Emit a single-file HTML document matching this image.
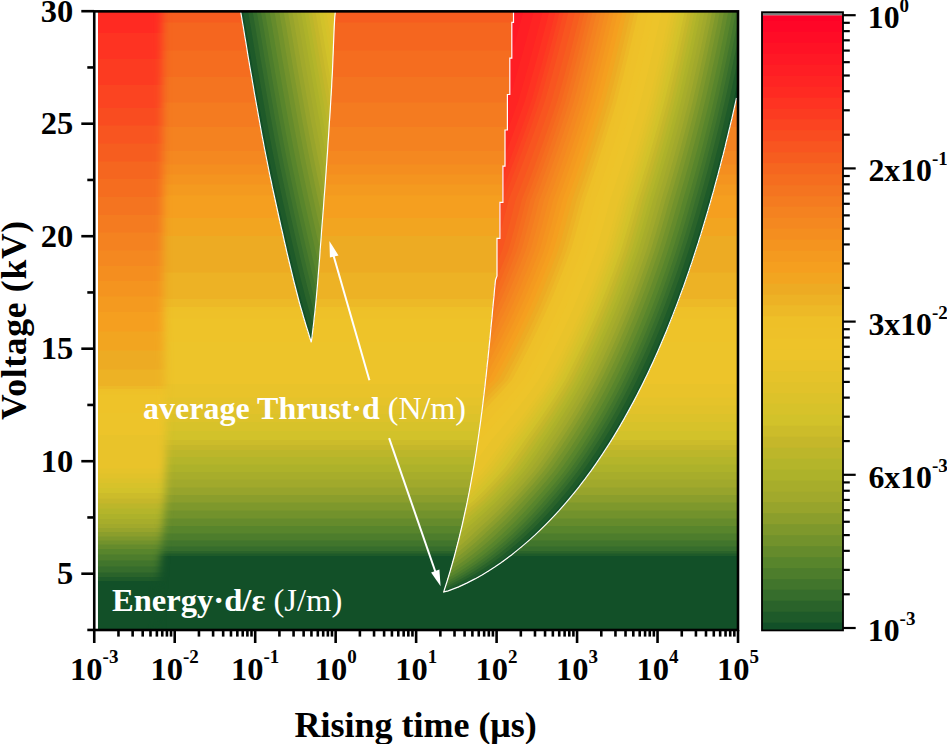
<!DOCTYPE html><html><head><meta charset="utf-8"><style>html,body{margin:0;padding:0;background:#fff;overflow:hidden}svg{display:block}</style></head><body>
<svg width="947" height="744" viewBox="0 0 947 744" font-family="Liberation Serif">
<rect x="0" y="0" width="947" height="744" fill="#fff"/>
<defs>
<clipPath id="cp"><rect x="97.9" y="12.0" width="639.6" height="617.5"/></clipPath>
<clipPath id="c2"><path d="M513.5,11 L513.5,22.4 L511.8,22.4 L511.8,58.2 L509.8,58.2 L509.8,94.5 L507.4,94.5 L507.4,130 L505,130 L505,166.2 L502.9,166.2 L502.9,202.4 L499.9,202.4 L499.9,238.3 L497,238.3 L497,276 L495.5,280 L495,285 L494.5,290 L494.1,295 L493.6,300 L493.1,305 L492.6,310 L492.2,315 L491.7,320 L491.2,325 L490.7,330 L490.3,335 L489.8,340 L489.3,345 L488.8,350 L488.3,355 L487.8,360 L487.2,365 L486.7,370 L486.2,375 L485.6,380 L485.1,385 L484.5,390 L483.9,395 L483.3,400 L482.7,405 L482.1,410 L481.4,415 L480.8,420 L480.1,425 L479.4,430 L478.7,435 L478,440 L477.2,445 L476.5,450 L475.7,455 L474.9,460 L474.1,465 L473.2,470 L472.3,475 L471.4,480 L470.5,485 L469.6,490 L468.6,495 L467.6,500 L466.6,505 L465.5,510 L464.4,515 L463.3,520 L462.2,525 L461,530 L459.8,535 L458.6,540 L457.3,545 L456,550 L454.7,555 L453.3,560 L451.9,565 L450.5,570 L449,575 L447.5,580 L445.9,585 L444.3,590 L443.8,591.9 L448.2,590.9 L458.6,586.9 L467.2,582.9 L474.9,578.9 L482,574.9 L488.5,570.9 L494.7,566.9 L500.6,562.9 L506.1,558.9 L511.5,554.9 L516.5,550.9 L521.4,546.9 L526.1,542.9 L530.7,538.9 L535.1,534.9 L539.3,530.9 L543.4,526.9 L547.4,522.9 L551.3,518.9 L555.1,514.9 L558.8,510.9 L562.3,506.9 L565.8,502.9 L569.2,498.9 L572.5,494.9 L575.8,490.9 L579,486.9 L582,482.9 L585.1,478.9 L588,474.9 L591,470.9 L593.8,466.9 L596.6,462.9 L599.3,458.9 L602,454.9 L604.6,450.9 L607.2,446.9 L609.8,442.9 L612.3,438.9 L614.7,434.9 L617.1,430.9 L619.5,426.9 L621.8,422.9 L624.1,418.9 L626.3,414.9 L628.5,410.9 L630.7,406.9 L632.9,402.9 L635,398.9 L637,394.9 L639.1,390.9 L641.1,386.9 L643.1,382.9 L645,378.9 L647,374.9 L648.9,370.9 L650.7,366.9 L652.6,362.9 L654.4,358.9 L656.2,354.9 L658,350.9 L659.7,346.9 L661.4,342.9 L663.1,338.9 L664.8,334.9 L666.5,330.9 L668.1,326.9 L669.7,322.9 L671.3,318.9 L672.9,314.9 L674.4,310.9 L676,306.9 L677.5,302.9 L679,298.9 L680.4,294.9 L681.9,290.9 L683.4,286.9 L684.8,282.9 L686.2,278.9 L687.6,274.9 L689,270.9 L690.3,266.9 L691.7,262.9 L693,258.9 L694.3,254.9 L695.6,250.9 L696.9,246.9 L698.2,242.9 L699.4,238.9 L700.7,234.9 L701.9,230.9 L703.1,226.9 L704.3,222.9 L705.5,218.9 L706.7,214.9 L707.9,210.9 L709,206.9 L710.2,202.9 L711.3,198.9 L712.4,194.9 L713.6,190.9 L714.6,186.9 L715.7,182.9 L716.8,178.9 L717.9,174.9 L718.9,170.9 L720,166.9 L721,162.9 L722,158.9 L723.1,154.9 L724.1,150.9 L725.1,146.9 L726,142.9 L727,138.9 L728,134.9 L728.9,130.9 L729.9,126.9 L730.8,122.9 L731.8,118.9 L732.7,114.9 L733.6,110.9 L734.5,106.9 L735.4,102.9 L736.5,98 L760,98 L760,10Z"/></clipPath>
<clipPath id="c1"><path d="M240.2,9 L240.7,12 L241.6,17 L242.4,22 L243.3,27 L244.1,32 L244.9,37 L245.8,42 L246.6,47 L247.4,52 L248.2,57 L249.1,62 L249.9,67 L250.8,72 L251.7,77 L252.5,82 L253.4,87 L254.2,92 L255.1,97 L256,102 L256.9,107 L257.8,112 L258.7,117 L259.6,122 L260.5,127 L261.4,132 L262.3,137 L263.3,142 L264.2,147 L265.2,152 L266.2,157 L267.2,162 L268.2,167 L269.2,172 L270.2,177 L271.3,182 L272.3,187 L273.4,192 L274.5,197 L275.6,202 L276.7,207 L277.8,212 L278.9,217 L280,222 L281.1,227 L282.3,232 L283.4,237 L284.5,242 L285.7,247 L286.8,252 L288,257 L289.2,262 L290.4,267 L291.6,272 L292.8,277 L294,282 L295.3,287 L296.6,292 L297.9,297 L299.2,302 L300.6,307 L302.1,312 L303.5,317 L305,322 L306.5,327 L308.1,332 L309.6,337 L311.2,342 L311.3,342.2 L311.3,342.2 L311.3,342 L312,337 L312.6,332 L313.2,327 L313.8,322 L314.3,317 L314.9,312 L315.4,307 L315.9,302 L316.4,297 L316.8,292 L317.3,287 L317.7,282 L318.1,277 L318.5,272 L318.9,267 L319.3,262 L319.7,257 L320,252 L320.4,247 L320.8,242 L321.2,237 L321.5,232 L321.9,227 L322.3,222 L322.7,217 L323.1,212 L323.5,207 L323.8,202 L324.2,197 L324.6,192 L325,187 L325.4,182 L325.7,177 L326.1,172 L326.4,167 L326.8,162 L327.1,157 L327.5,152 L327.8,147 L328.1,142 L328.5,137 L328.8,132 L329.1,127 L329.4,122 L329.8,117 L330.1,112 L330.4,107 L330.7,102 L331,97 L331.3,92 L331.6,87 L331.8,82 L332.1,77 L332.4,72 L332.6,67 L332.8,62 L333,57 L333.2,52 L333.4,47 L333.6,42 L333.8,37 L334,32 L334.2,27 L334.5,22 L334.8,17 L335.3,12 L335.4,9Z"/></clipPath>
<filter id="bl" x="-20%" y="-5%" width="140%" height="110%"><feGaussianBlur stdDeviation="4,0.01"/></filter>
<mask id="mleft" maskUnits="userSpaceOnUse" x="0" y="0" width="947" height="744"><path d="M90,0 L162,0 L162,10 L162.1,20 L162.1,30 L162.1,40 L162.2,50 L162.2,60 L162.2,70 L162.3,80 L162.3,90 L162.3,100 L162.4,110 L162.4,120 L162.4,130 L162.5,140 L162.5,150 L162.5,160 L162.6,170 L162.6,180 L162.6,190 L162.7,200 L162.7,210 L162.7,220 L162.8,230 L162.8,240 L162.8,250 L162.9,260 L162.9,270 L162.9,280 L163,290 L163,300 L163.2,310 L163.4,320 L163.6,330 L163.9,340 L164.1,350 L164.3,360 L164.5,370 L164.7,380 L164.9,390 L165.1,400 L165.4,410 L165.6,420 L165.8,430 L166,440 L165.8,450 L165.7,460 L165.5,470 L165.3,480 L165.2,490 L165,500 L164.2,510 L163.5,520 L162.8,530 L162,540 L161.2,550 L160.4,560 L159.6,570 L158.8,580 L158,590 L157.5,600 L157,610 L156.5,620 L156,630 L90,640Z" fill="#fff" filter="url(#bl)"/></mask>
</defs>
<g clip-path="url(#cp)">
<rect x="97.9" y="12" width="639.6" height="11.5" fill="#f65d1f"/>
<rect x="97.9" y="22.5" width="639.6" height="29" fill="#f5661f"/>
<rect x="97.9" y="50.5" width="639.6" height="27.5" fill="#f56d1f"/>
<rect x="97.9" y="77" width="639.6" height="26.5" fill="#f47420"/>
<rect x="97.9" y="102.5" width="639.6" height="25.5" fill="#f47b20"/>
<rect x="97.9" y="127" width="639.6" height="25" fill="#f48220"/>
<rect x="97.9" y="151" width="639.6" height="14.5" fill="#f48820"/>
<rect x="97.9" y="164.5" width="639.6" height="11" fill="#f48e1f"/>
<rect x="97.9" y="174.5" width="639.6" height="11" fill="#f4941f"/>
<rect x="97.9" y="184.5" width="639.6" height="12" fill="#f49a1f"/>
<rect x="97.9" y="195.5" width="639.6" height="23.5" fill="#f59f1f"/>
<rect x="97.9" y="218" width="639.6" height="19" fill="#f2a520"/>
<rect x="97.9" y="236" width="639.6" height="37.5" fill="#edab23"/>
<rect x="97.9" y="272.5" width="639.6" height="27.5" fill="#edb225"/>
<rect x="97.9" y="299" width="639.6" height="9" fill="#edb927"/>
<rect x="97.9" y="307" width="639.6" height="4.5" fill="#eec028"/>
<rect x="97.9" y="310.5" width="639.6" height="9" fill="#eec129"/>
<rect x="97.9" y="318.5" width="639.6" height="24" fill="#eec329"/>
<rect x="97.9" y="341.5" width="639.6" height="43.5" fill="#edc42a"/>
<rect x="97.9" y="384" width="639.6" height="14.5" fill="#e9c32a"/>
<rect x="97.9" y="397.5" width="639.6" height="9" fill="#e5c32a"/>
<rect x="97.9" y="405.5" width="639.6" height="9.5" fill="#e1c22a"/>
<rect x="97.9" y="414" width="639.6" height="9" fill="#dcc22a"/>
<rect x="97.9" y="422" width="639.6" height="10" fill="#d7c22a"/>
<rect x="97.9" y="431" width="639.6" height="10" fill="#d2c22a"/>
<rect x="97.9" y="440" width="639.6" height="6" fill="#ccbc2a"/>
<rect x="97.9" y="445" width="639.6" height="6" fill="#c5b72a"/>
<rect x="97.9" y="450" width="639.6" height="8" fill="#bcb62a"/>
<rect x="97.9" y="457" width="639.6" height="8.5" fill="#b4b52a"/>
<rect x="97.9" y="464.5" width="639.6" height="8.5" fill="#adb22a"/>
<rect x="97.9" y="472" width="639.6" height="8.5" fill="#a7ad2b"/>
<rect x="97.9" y="479.5" width="639.6" height="9" fill="#a1a92c"/>
<rect x="97.9" y="487.5" width="639.6" height="8.5" fill="#97a42c"/>
<rect x="97.9" y="495" width="639.6" height="8.5" fill="#8b9e2c"/>
<rect x="97.9" y="502.5" width="639.6" height="9" fill="#7e982c"/>
<rect x="97.9" y="510.5" width="639.6" height="9" fill="#72922c"/>
<rect x="97.9" y="518.5" width="639.6" height="8.5" fill="#658b2c"/>
<rect x="97.9" y="526" width="639.6" height="8.5" fill="#58852c"/>
<rect x="97.9" y="533.5" width="639.6" height="8" fill="#4d7d2c"/>
<rect x="97.9" y="540.5" width="639.6" height="7" fill="#41752c"/>
<rect x="97.9" y="546.5" width="639.6" height="5.5" fill="#366d2c"/>
<rect x="97.9" y="551" width="639.6" height="3.5" fill="#2a632a"/>
<rect x="97.9" y="553.5" width="639.6" height="3.5" fill="#1e5a29"/>
<rect x="97.9" y="556" width="639.6" height="73.5" fill="#125028"/>
<g mask="url(#mleft)">
<rect x="97.9" y="12" width="82.1" height="22" fill="#ff2a22"/>
<rect x="97.9" y="33" width="82.1" height="27" fill="#fe3322"/>
<rect x="97.9" y="59" width="82.1" height="27" fill="#fc3b21"/>
<rect x="97.9" y="85" width="82.1" height="24" fill="#fb4421"/>
<rect x="97.9" y="108" width="82.1" height="18.5" fill="#f94c20"/>
<rect x="97.9" y="125.5" width="82.1" height="19" fill="#f85520"/>
<rect x="97.9" y="143.5" width="82.1" height="19" fill="#f65d1f"/>
<rect x="97.9" y="161.5" width="82.1" height="18.5" fill="#f5661f"/>
<rect x="97.9" y="179" width="82.1" height="19" fill="#f56d1f"/>
<rect x="97.9" y="197" width="82.1" height="19" fill="#f47420"/>
<rect x="97.9" y="215" width="82.1" height="18.5" fill="#f47b20"/>
<rect x="97.9" y="232.5" width="82.1" height="19" fill="#f48220"/>
<rect x="97.9" y="250.5" width="82.1" height="16.5" fill="#f48820"/>
<rect x="97.9" y="266" width="82.1" height="16" fill="#f48e1f"/>
<rect x="97.9" y="281" width="82.1" height="16.5" fill="#f4941f"/>
<rect x="97.9" y="296.5" width="82.1" height="16.5" fill="#f49a1f"/>
<rect x="97.9" y="312" width="82.1" height="20.5" fill="#f59f1f"/>
<rect x="97.9" y="331.5" width="82.1" height="20" fill="#f2a520"/>
<rect x="97.9" y="350.5" width="82.1" height="20" fill="#edab23"/>
<rect x="97.9" y="369.5" width="82.1" height="17.5" fill="#edb225"/>
<rect x="97.9" y="386" width="82.1" height="4" fill="#edb927"/>
<rect x="97.9" y="389" width="82.1" height="3.5" fill="#eec028"/>
<rect x="97.9" y="391.5" width="82.1" height="4" fill="#eec129"/>
<rect x="97.9" y="394.5" width="82.1" height="19" fill="#eec329"/>
<rect x="97.9" y="412.5" width="82.1" height="23.5" fill="#edc42a"/>
<rect x="97.9" y="435" width="82.1" height="34.5" fill="#e9c32a"/>
<rect x="97.9" y="468.5" width="82.1" height="6" fill="#e5c32a"/>
<rect x="97.9" y="473.5" width="82.1" height="6" fill="#e1c22a"/>
<rect x="97.9" y="478.5" width="82.1" height="5.5" fill="#dcc22a"/>
<rect x="97.9" y="483" width="82.1" height="6" fill="#d7c22a"/>
<rect x="97.9" y="488" width="82.1" height="6" fill="#d2c22a"/>
<rect x="97.9" y="493" width="82.1" height="6.5" fill="#ccbc2a"/>
<rect x="97.9" y="498.5" width="82.1" height="6" fill="#c5b72a"/>
<rect x="97.9" y="503.5" width="82.1" height="6" fill="#bcb62a"/>
<rect x="97.9" y="508.5" width="82.1" height="6.5" fill="#b4b52a"/>
<rect x="97.9" y="514" width="82.1" height="6" fill="#adb22a"/>
<rect x="97.9" y="519" width="82.1" height="6" fill="#a7ad2b"/>
<rect x="97.9" y="524" width="82.1" height="5" fill="#a1a92c"/>
<rect x="97.9" y="528" width="82.1" height="5" fill="#97a42c"/>
<rect x="97.9" y="532" width="82.1" height="5.5" fill="#8b9e2c"/>
<rect x="97.9" y="536.5" width="82.1" height="5" fill="#7e982c"/>
<rect x="97.9" y="540.5" width="82.1" height="5" fill="#72922c"/>
<rect x="97.9" y="544.5" width="82.1" height="5.5" fill="#658b2c"/>
<rect x="97.9" y="549" width="82.1" height="6.5" fill="#58852c"/>
<rect x="97.9" y="554.5" width="82.1" height="7" fill="#4d7d2c"/>
<rect x="97.9" y="560.5" width="82.1" height="7" fill="#41752c"/>
<rect x="97.9" y="566.5" width="82.1" height="7" fill="#366d2c"/>
<rect x="97.9" y="572.5" width="82.1" height="5.5" fill="#2a632a"/>
<rect x="97.9" y="577" width="82.1" height="5" fill="#1e5a29"/>
<rect x="97.9" y="581" width="82.1" height="48.5" fill="#125028"/>
</g>
<g clip-path="url(#c2)">
<rect x="440" y="0" width="320" height="600" fill="#ff0028"/>
<path d="M473.2,8 L472.5,12 L471.4,16 L470.3,20 L469.1,24 L468,28 L466.9,32 L465.7,36 L464.5,40 L463.4,44 L462.2,48 L461,52 L459.8,56 L458.6,60 L457.4,64 L456.2,68 L455,72 L453.8,76 L452.5,80 L451.3,84 L450,88 L448.8,92 L447.5,96 L446.2,100 L444.8,104 L443.2,108 L441.6,112 L439.9,116 L438.3,120 L436.7,124 L435,128 L433.3,132 L431.7,136 L430,140 L428.3,144 L426.6,148 L424.9,152 L423.2,156 L421.5,160 L419.7,164 L418,168 L416.2,172 L414.4,176 L412.7,180 L410.9,184 L409.1,188 L407.3,192 L405.4,196 L403.6,200 L402.7,204 L401.8,208 L400.9,212 L399.9,216 L399,220 L398,224 L397,228 L396,232 L395,236 L394,240 L393,244 L391.9,248 L390.5,252 L388.8,256 L387,260 L385.2,264 L383.4,268 L381.5,272 L379.7,276 L377.8,280 L375.9,284 L374.1,288 L372.1,292 L370.2,296 L368.3,300 L366.1,304 L364,308 L361.8,312 L359.6,316 L357.4,320 L355.2,324 L352.9,328 L350.7,332 L348.4,336 L346.1,340 L343.7,344 L341.4,348 L339,352 L336.6,356 L334.1,360 L331.7,364 L329.2,368 L326.7,372 L324.1,376 L321.6,380 L300.9,384 L280,388 L259.1,392 L237.7,396 L216.2,400 L194.6,404 L172.9,408 L151,412 L129,416 L106.8,420 L84.5,424 L62.1,428 L39.5,432 L16.8,436 L-6.1,440 L-10.2,444 L-14.4,448 L-18.7,452 L-23,456 L-27.3,460 L-31.7,464 L-36.1,468 L-42.3,472 L-50.2,476 L-58.2,480 L-66.2,484 L-74.3,488 L-82.5,492 L-90.7,496 L-99.1,500 L-204.1,504 L-309.2,508 L-414.5,512 L-519.8,516 L-625.2,520 L-730.7,524 L-836.4,528 L-878.3,532 L-856.4,536 L-834.7,540 L-813.2,544 L-791.8,548 L-770.6,552 L-749.7,556 L-728.9,560 L-708.4,564 L-688.2,568 L-668.4,572 L-648.9,576 L-630,580 L-611.8,584 L-594.6,588 L-579.8,592 L800,592 L800,8Z" fill="#ff0627"/>
<path d="M473.2,8 L472.5,12 L471.4,16 L470.3,20 L469.1,24 L468,28 L466.9,32 L465.7,36 L464.5,40 L463.4,44 L462.2,48 L461,52 L459.8,56 L458.6,60 L457.4,64 L456.2,68 L455,72 L453.8,76 L452.5,80 L451.3,84 L450,88 L448.8,92 L447.5,96 L446.2,100 L444.8,104 L443.2,108 L441.6,112 L439.9,116 L438.3,120 L436.7,124 L435,128 L433.3,132 L431.7,136 L430,140 L428.3,144 L426.6,148 L424.9,152 L423.2,156 L421.5,160 L419.7,164 L418,168 L416.2,172 L414.4,176 L412.7,180 L410.9,184 L409.1,188 L407.3,192 L405.4,196 L403.6,200 L402.7,204 L401.8,208 L400.9,212 L399.9,216 L399,220 L398,224 L397,228 L396,232 L395,236 L394,240 L393,244 L391.9,248 L390.5,252 L388.8,256 L387,260 L385.2,264 L383.4,268 L381.5,272 L379.7,276 L377.8,280 L375.9,284 L374.1,288 L372.1,292 L370.2,296 L368.3,300 L366.1,304 L364,308 L361.8,312 L359.6,316 L357.4,320 L355.2,324 L352.9,328 L350.7,332 L348.4,336 L346.1,340 L343.7,344 L341.4,348 L339,352 L336.6,356 L334.1,360 L331.7,364 L329.2,368 L326.7,372 L324.1,376 L321.6,380 L300.9,384 L280,388 L259.1,392 L237.7,396 L216.2,400 L194.6,404 L172.9,408 L151,412 L129,416 L106.8,420 L84.5,424 L62.1,428 L39.5,432 L16.8,436 L-6.1,440 L-10.2,444 L-14.4,448 L-18.7,452 L-23,456 L-27.3,460 L-31.7,464 L-36.1,468 L-42.3,472 L-50.2,476 L-58.2,480 L-66.2,484 L-74.3,488 L-82.5,492 L-90.7,496 L-99.1,500 L-204.1,504 L-309.2,508 L-414.5,512 L-519.8,516 L-625.2,520 L-730.7,524 L-836.4,528 L-878.3,532 L-856.4,536 L-834.7,540 L-813.2,544 L-791.8,548 L-770.6,552 L-749.7,556 L-728.9,560 L-708.4,564 L-688.2,568 L-668.4,572 L-648.9,576 L-630,580 L-611.8,584 L-594.6,588 L-579.8,592 L800,592 L800,8Z" fill="#ff0c26"/>
<path d="M492.1,8 L491.4,12 L490.4,16 L489.3,20 L488.2,24 L487,28 L485.9,32 L484.8,36 L483.7,40 L482.5,44 L481.4,48 L480.2,52 L479,56 L477.9,60 L476.7,64 L475.5,68 L474.3,72 L473.1,76 L471.9,80 L470.7,84 L469.5,88 L468.2,92 L467,96 L465.7,100 L464.3,104 L462.8,108 L461.2,112 L459.6,116 L458,120 L456.4,124 L454.8,128 L453.2,132 L451.6,136 L450,140 L448.3,144 L446.7,148 L445,152 L443.4,156 L441.7,160 L440,164 L438.3,168 L436.6,172 L434.9,176 L433.1,180 L431.4,184 L429.6,188 L427.9,192 L426.1,196 L424.3,200 L423.4,204 L422.5,208 L421.5,212 L420.6,216 L419.6,220 L418.6,224 L417.6,228 L416.6,232 L415.6,236 L414.6,240 L413.5,244 L412.4,248 L411,252 L409.3,256 L407.6,260 L405.8,264 L404,268 L402.2,272 L400.4,276 L398.6,280 L396.7,284 L394.8,288 L393,292 L391.1,296 L389.1,300 L387.1,304 L385,308 L382.8,312 L380.7,316 L378.5,320 L376.3,324 L374.1,328 L371.9,332 L369.6,336 L367.4,340 L365.1,344 L362.8,348 L360.4,352 L358.1,356 L355.7,360 L353.2,364 L350.8,368 L348.3,372 L345.8,376 L343.3,380 L326.1,384 L308.7,388 L291.3,392 L273.4,396 L255.5,400 L237.5,404 L219.3,408 L201,412 L182.6,416 L164.1,420 L145.5,424 L126.7,428 L107.8,432 L88.9,436 L69.7,440 L65.8,444 L61.8,448 L57.8,452 L53.7,456 L49.5,460 L45.3,464 L41.1,468 L35.3,472 L28,476 L20.7,480 L13.3,484 L5.8,488 L-1.8,492 L-9.4,496 L-17.1,500 L-103,504 L-189,508 L-275,512 L-361.2,516 L-447.4,520 L-533.8,524 L-620.3,528 L-655,532 L-638.1,536 L-621.3,540 L-604.7,544 L-588.3,548 L-572,552 L-556,556 L-540.1,560 L-524.6,564 L-509.3,568 L-494.4,572 L-479.9,576 L-465.9,580 L-452.6,584 L-440.3,588 L-430.5,592 L800,592 L800,8Z" fill="#ff1225"/>
<path d="M513.5,8 L512.7,12 L511.7,16 L510.6,20 L509.6,24 L508.5,28 L507.4,32 L506.3,36 L505.2,40 L504.1,44 L502.9,48 L501.8,52 L500.7,56 L499.5,60 L498.4,64 L497.2,68 L496.1,72 L494.9,76 L493.7,80 L492.5,84 L491.3,88 L490.1,92 L488.9,96 L487.7,100 L486.3,104 L484.8,108 L483.3,112 L481.8,116 L480.3,120 L478.7,124 L477.2,128 L475.6,132 L474,136 L472.5,140 L470.9,144 L469.3,148 L467.7,152 L466.1,156 L464.4,160 L462.8,164 L461.2,168 L459.5,172 L457.8,176 L456.2,180 L454.5,184 L452.8,188 L451.1,192 L449.3,196 L447.6,200 L446.7,204 L445.7,208 L444.8,212 L443.8,216 L442.8,220 L441.8,224 L440.8,228 L439.8,232 L438.7,236 L437.7,240 L436.6,244 L435.5,248 L434.1,252 L432.4,256 L430.7,260 L429,264 L427.2,268 L425.5,272 L423.7,276 L421.9,280 L420.1,284 L418.3,288 L416.4,292 L414.5,296 L412.7,300 L410.6,304 L408.6,308 L406.5,312 L404.4,316 L402.3,320 L400.1,324 L398,328 L395.8,332 L393.6,336 L391.4,340 L389.1,344 L386.8,348 L384.6,352 L382.2,356 L379.9,360 L377.5,364 L375.1,368 L372.7,372 L370.3,376 L367.8,380 L353.9,384 L339.9,388 L325.8,392 L311.4,396 L296.9,400 L282.3,404 L267.6,408 L252.9,412 L238,416 L223,420 L207.9,424 L192.7,428 L177.4,432 L162,436 L146.5,440 L142.8,444 L139,448 L135.2,452 L131.3,456 L127.4,460 L123.4,464 L119.3,468 L114,472 L107.3,476 L100.6,480 L93.8,484 L86.9,488 L80,492 L72.9,496 L65.8,500 L-1.5,504 L-69,508 L-136.5,512 L-204.1,516 L-271.9,520 L-339.7,524 L-407.7,528 L-435.6,532 L-423.4,536 L-411.4,540 L-399.6,544 L-387.9,548 L-376.4,552 L-365.1,556 L-354,560 L-343.2,564 L-332.7,568 L-322.6,572 L-312.8,576 L-303.6,580 L-295.1,584 L-287.6,588 L-282.4,592 L800,592 L800,8Z" fill="#ff1825"/>
<path d="M523.9,8 L523.1,12 L522.1,16 L521.1,20 L520,24 L518.9,28 L517.8,32 L516.8,36 L515.7,40 L514.6,44 L513.5,48 L512.3,52 L511.2,56 L510.1,60 L509,64 L507.8,68 L506.7,72 L505.5,76 L504.4,80 L503.2,84 L502,88 L500.8,92 L499.6,96 L498.4,100 L497.1,104 L495.6,108 L494.1,112 L492.6,116 L491.1,120 L489.6,124 L488.1,128 L486.5,132 L485,136 L483.4,140 L481.9,144 L480.3,148 L478.7,152 L477.1,156 L475.5,160 L473.9,164 L472.3,168 L470.7,172 L469,176 L467.4,180 L465.7,184 L464,188 L462.4,192 L460.7,196 L459,200 L458,204 L457.1,208 L456.1,212 L455.1,216 L454.1,220 L453.1,224 L452.1,228 L451.1,232 L450,236 L448.9,240 L447.9,244 L446.8,248 L445.4,252 L443.7,256 L442,260 L440.3,264 L438.6,268 L436.8,272 L435.1,276 L433.3,280 L431.5,284 L429.7,288 L427.8,292 L426,296 L424.1,300 L422.1,304 L420.1,308 L418,312 L415.9,316 L413.8,320 L411.7,324 L409.6,328 L407.4,332 L405.3,336 L403.1,340 L400.8,344 L398.6,348 L396.3,352 L394,356 L391.7,360 L389.4,364 L387,368 L384.6,372 L382.2,376 L379.7,380 L367.2,384 L354.7,388 L342.1,392 L329.1,396 L316.1,400 L303,404 L289.8,408 L276.5,412 L263.2,416 L249.7,420 L236.1,424 L222.5,428 L208.7,432 L194.9,436 L180.9,440 L177.3,444 L173.6,448 L169.8,452 L166,456 L162.2,460 L158.3,464 L154.4,468 L149.2,472 L142.8,476 L136.3,480 L129.8,484 L123.2,488 L116.6,492 L109.8,496 L103,500 L43.6,504 L-16,508 L-75.6,512 L-135.3,516 L-195.1,520 L-255.1,524 L-315.1,528 L-340.1,532 L-330,536 L-320,540 L-310.2,544 L-300.5,548 L-291.1,552 L-281.8,556 L-272.8,560 L-264,564 L-255.5,568 L-247.4,572 L-239.7,576 L-232.5,580 L-226,584 L-220.5,588 L-217.5,592 L800,592 L800,8Z" fill="#ff1e24"/>
<path d="M534.2,8 L533.5,12 L532.5,16 L531.5,20 L530.4,24 L529.4,28 L528.3,32 L527.2,36 L526.2,40 L525.1,44 L524,48 L522.9,52 L521.8,56 L520.7,60 L519.5,64 L518.4,68 L517.3,72 L516.1,76 L515,80 L513.8,84 L512.7,88 L511.5,92 L510.3,96 L509.1,100 L507.8,104 L506.3,108 L504.9,112 L503.4,116 L501.9,120 L500.4,124 L498.9,128 L497.4,132 L495.9,136 L494.4,140 L492.9,144 L491.3,148 L489.8,152 L488.2,156 L486.6,160 L485,164 L483.4,168 L481.8,172 L480.2,176 L478.6,180 L477,184 L475.3,188 L473.7,192 L472,196 L470.3,200 L469.4,204 L468.4,208 L467.4,212 L466.4,216 L465.4,220 L464.4,224 L463.4,228 L462.3,232 L461.3,236 L460.2,240 L459.1,244 L458,248 L456.7,252 L455,256 L453.3,260 L451.6,264 L449.9,268 L448.2,272 L446.4,276 L444.7,280 L442.9,284 L441.1,288 L439.3,292 L437.4,296 L435.6,300 L433.6,304 L431.6,308 L429.5,312 L427.5,316 L425.4,320 L423.3,324 L421.2,328 L419.1,332 L416.9,336 L414.8,340 L412.6,344 L410.3,348 L408.1,352 L405.8,356 L403.5,360 L401.2,364 L398.9,368 L396.5,372 L394.1,376 L391.7,380 L380.5,384 L369.3,388 L358,392 L346.4,396 L334.7,400 L323,404 L311.1,408 L299.2,412 L287.2,416 L275.1,420 L263,424 L250.7,428 L238.4,432 L225.9,436 L213.4,440 L209.9,444 L206.2,448 L202.6,452 L198.9,456 L195.1,460 L191.3,464 L187.5,468 L182.5,472 L176.3,476 L170.1,480 L163.9,484 L157.5,488 L151.1,492 L144.7,496 L138.1,500 L85.9,504 L33.6,508 L-18.8,512 L-71.3,516 L-123.9,520 L-176.6,524 L-229.4,528 L-251.6,532 L-243.4,536 L-235.3,540 L-227.3,544 L-219.5,548 L-211.9,552 L-204.5,556 L-197.3,560 L-190.4,564 L-183.8,568 L-177.6,572 L-171.7,576 L-166.4,580 L-161.7,584 L-158.1,588 L-156.9,592 L800,592 L800,8Z" fill="#ff2423"/>
<path d="M543.3,8 L542.6,12 L541.6,16 L540.6,20 L539.5,24 L538.5,28 L537.4,32 L536.4,36 L535.3,40 L534.2,44 L533.2,48 L532.1,52 L531,56 L529.9,60 L528.8,64 L527.7,68 L526.5,72 L525.4,76 L524.3,80 L523.1,84 L522,88 L520.8,92 L519.6,96 L518.5,100 L517.2,104 L515.7,108 L514.3,112 L512.8,116 L511.4,120 L509.9,124 L508.4,128 L507,132 L505.5,136 L504,140 L502.4,144 L500.9,148 L499.4,152 L497.9,156 L496.3,160 L494.7,164 L493.2,168 L491.6,172 L490,176 L488.4,180 L486.8,184 L485.2,188 L483.5,192 L481.9,196 L480.2,200 L479.3,204 L478.3,208 L477.3,212 L476.3,216 L475.3,220 L474.3,224 L473.2,228 L472.2,232 L471.1,236 L470.1,240 L469,244 L467.9,248 L466.5,252 L464.8,256 L463.2,260 L461.5,264 L459.8,268 L458.1,272 L456.3,276 L454.6,280 L452.8,284 L451,288 L449.2,292 L447.4,296 L445.6,300 L443.6,304 L441.6,308 L439.6,312 L437.6,316 L435.5,320 L433.5,324 L431.4,328 L429.3,332 L427.1,336 L425,340 L422.8,344 L420.6,348 L418.4,352 L416.1,356 L413.8,360 L411.5,364 L409.2,368 L406.8,372 L404.5,376 L402.1,380 L392,384 L381.8,388 L371.6,392 L361,396 L350.4,400 L339.8,404 L329,408 L318.2,412 L307.3,416 L296.4,420 L285.3,424 L274.2,428 L263,432 L251.7,436 L240.3,440 L236.8,444 L233.3,448 L229.7,452 L226,456 L222.4,460 L218.6,464 L214.8,468 L210,472 L204,476 L198.1,480 L192,484 L185.9,488 L179.7,492 L173.5,496 L167.1,500 L120.7,504 L74.2,508 L27.6,512 L-19.1,516 L-65.9,520 L-112.8,524 L-159.9,528 L-180,532 L-173.2,536 L-166.6,540 L-160.1,544 L-153.8,548 L-147.7,552 L-141.8,556 L-136.1,560 L-130.7,564 L-125.6,568 L-120.8,572 L-116.4,576 L-112.6,580 L-109.4,584 L-107.3,588 L-107.6,592 L800,592 L800,8Z" fill="#ff2a22"/>
<path d="M549.8,8 L549.1,12 L548.1,16 L547.1,20 L546.1,24 L545,28 L544,32 L542.9,36 L541.9,40 L540.8,44 L539.7,48 L538.7,52 L537.6,56 L536.5,60 L535.4,64 L534.3,68 L533.2,72 L532,76 L530.9,80 L529.8,84 L528.6,88 L527.5,92 L526.3,96 L525.2,100 L523.9,104 L522.4,108 L521,112 L519.6,116 L518.1,120 L516.7,124 L515.2,128 L513.8,132 L512.3,136 L510.8,140 L509.3,144 L507.8,148 L506.3,152 L504.8,156 L503.2,160 L501.7,164 L500.1,168 L498.6,172 L497,176 L495.4,180 L493.8,184 L492.2,188 L490.6,192 L489,196 L487.3,200 L486.4,204 L485.4,208 L484.4,212 L483.4,216 L482.4,220 L481.3,224 L480.3,228 L479.2,232 L478.2,236 L477.1,240 L476,244 L474.9,248 L473.5,252 L471.9,256 L470.2,260 L468.5,264 L466.9,268 L465.2,272 L463.4,276 L461.7,280 L459.9,284 L458.2,288 L456.4,292 L454.6,296 L452.8,300 L450.8,304 L448.8,308 L446.8,312 L444.8,316 L442.8,320 L440.7,324 L438.6,328 L436.5,332 L434.4,336 L432.3,340 L430.1,344 L427.9,348 L425.7,352 L423.5,356 L421.2,360 L418.9,364 L416.6,368 L414.3,372 L411.9,376 L409.5,380 L400.1,384 L390.6,388 L381.1,392 L371.3,396 L361.5,400 L351.5,404 L341.5,408 L331.4,412 L321.3,416 L311,420 L300.7,424 L290.3,428 L279.9,432 L269.3,436 L258.7,440 L255.3,444 L251.8,448 L248.2,452 L244.7,456 L241,460 L237.3,464 L233.6,468 L228.8,472 L223.1,476 L217.2,480 L211.3,484 L205.4,488 L199.3,492 L193.2,496 L187,500 L144.5,504 L101.8,508 L59,512 L16.2,516 L-26.8,520 L-69.8,524 L-113,528 L-131.7,532 L-125.9,536 L-120.3,540 L-114.8,544 L-109.5,548 L-104.4,552 L-99.5,556 L-94.8,560 L-90.3,564 L-86.2,568 L-82.4,572 L-79,576 L-76.2,580 L-74,584 L-72.9,588 L-74.2,592 L800,592 L800,8Z" fill="#fe3322"/>
<path d="M556.1,8 L555.3,12 L554.4,16 L553.4,20 L552.3,24 L551.3,28 L550.3,32 L549.2,36 L548.2,40 L547.1,44 L546.1,48 L545,52 L543.9,56 L542.8,60 L541.8,64 L540.7,68 L539.5,72 L538.4,76 L537.3,80 L536.2,84 L535.1,88 L533.9,92 L532.8,96 L531.6,100 L530.3,104 L528.9,108 L527.5,112 L526.1,116 L524.7,120 L523.2,124 L521.8,128 L520.3,132 L518.9,136 L517.4,140 L515.9,144 L514.4,148 L512.9,152 L511.4,156 L509.9,160 L508.4,164 L506.9,168 L505.3,172 L503.7,176 L502.2,180 L500.6,184 L499,188 L497.4,192 L495.8,196 L494.2,200 L493.2,204 L492.2,208 L491.2,212 L490.2,216 L489.2,220 L488.2,224 L487.1,228 L486,232 L485,236 L483.9,240 L482.8,244 L481.7,248 L480.3,252 L478.7,256 L477,260 L475.4,264 L473.7,268 L472,272 L470.3,276 L468.5,280 L466.8,284 L465,288 L463.3,292 L461.5,296 L459.7,300 L457.7,304 L455.8,308 L453.8,312 L451.8,316 L449.7,320 L447.7,324 L445.6,328 L443.6,332 L441.4,336 L439.3,340 L437.2,344 L435,348 L432.8,352 L430.6,356 L428.3,360 L426.1,364 L423.8,368 L421.4,372 L419.1,376 L416.7,380 L407.9,384 L399.1,388 L390.2,392 L381.1,396 L371.9,400 L362.6,404 L353.2,408 L343.8,412 L334.3,416 L324.8,420 L315.1,424 L305.4,428 L295.6,432 L285.8,436 L275.9,440 L272.5,444 L269,448 L265.5,452 L262,456 L258.4,460 L254.8,464 L251.1,468 L246.4,472 L240.8,476 L235.1,480 L229.3,484 L223.5,488 L217.6,492 L211.6,496 L205.6,500 L166.5,504 L127.3,508 L88,512 L48.6,516 L9.2,520 L-30.4,524 L-70.1,528 L-87.5,532 L-82.6,536 L-77.9,540 L-73.3,544 L-68.9,548 L-64.7,552 L-60.6,556 L-56.8,560 L-53.3,564 L-50.1,568 L-47.2,572 L-44.7,576 L-42.7,580 L-41.5,584 L-41.2,588 L-43.4,592 L800,592 L800,8Z" fill="#fc3b21"/>
<path d="M560.2,8 L559.5,12 L558.5,16 L557.5,20 L556.5,24 L555.5,28 L554.5,32 L553.4,36 L552.4,40 L551.3,44 L550.3,48 L549.2,52 L548.1,56 L547.1,60 L546,64 L544.9,68 L543.8,72 L542.7,76 L541.6,80 L540.5,84 L539.3,88 L538.2,92 L537,96 L535.9,100 L534.6,104 L533.2,108 L531.8,112 L530.4,116 L529,120 L527.6,124 L526.2,128 L524.7,132 L523.3,136 L521.8,140 L520.3,144 L518.9,148 L517.4,152 L515.9,156 L514.4,160 L512.8,164 L511.3,168 L509.8,172 L508.2,176 L506.7,180 L505.1,184 L503.5,188 L501.9,192 L500.3,196 L498.7,200 L497.7,204 L496.7,208 L495.7,212 L494.7,216 L493.7,220 L492.7,224 L491.6,228 L490.6,232 L489.5,236 L488.4,240 L487.3,244 L486.2,248 L484.8,252 L483.2,256 L481.5,260 L479.9,264 L478.2,268 L476.5,272 L474.8,276 L473.1,280 L471.4,284 L469.6,288 L467.8,292 L466.1,296 L464.3,300 L462.3,304 L460.4,308 L458.4,312 L456.4,316 L454.4,320 L452.3,324 L450.3,328 L448.2,332 L446.1,336 L444,340 L441.9,344 L439.7,348 L437.5,352 L435.3,356 L433.1,360 L430.8,364 L428.5,368 L426.2,372 L423.8,376 L421.5,380 L413.1,384 L404.7,388 L396.2,392 L387.5,396 L378.7,400 L369.8,404 L360.9,408 L351.9,412 L342.8,416 L333.7,420 L324.5,424 L315.2,428 L305.8,432 L296.4,436 L286.9,440 L283.5,444 L280.1,448 L276.7,452 L273.2,456 L269.6,460 L266,464 L262.3,468 L257.7,472 L252.2,476 L246.6,480 L240.9,484 L235.2,488 L229.3,492 L223.5,496 L217.5,500 L180.6,504 L143.6,508 L106.5,512 L69.4,516 L32.1,520 L-5.3,524 L-42.8,528 L-59.4,532 L-55.1,536 L-50.9,540 L-46.9,544 L-43,548 L-39.3,552 L-35.9,556 L-32.7,560 L-29.7,564 L-27,568 L-24.7,572 L-22.8,576 L-21.4,580 L-20.7,584 L-21,588 L-23.7,592 L800,592 L800,8Z" fill="#fb4421"/>
<path d="M564.4,8 L563.7,12 L562.7,16 L561.7,20 L560.7,24 L559.7,28 L558.6,32 L557.6,36 L556.6,40 L555.5,44 L554.5,48 L553.4,52 L552.4,56 L551.3,60 L550.2,64 L549.1,68 L548,72 L546.9,76 L545.8,80 L544.7,84 L543.6,88 L542.5,92 L541.3,96 L540.2,100 L538.9,104 L537.5,108 L536.1,112 L534.7,116 L533.3,120 L531.9,124 L530.5,128 L529.1,132 L527.6,136 L526.2,140 L524.7,144 L523.3,148 L521.8,152 L520.3,156 L518.8,160 L517.3,164 L515.8,168 L514.2,172 L512.7,176 L511.2,180 L509.6,184 L508,188 L506.4,192 L504.9,196 L503.3,200 L502.3,204 L501.3,208 L500.3,212 L499.3,216 L498.2,220 L497.2,224 L496.1,228 L495.1,232 L494,236 L492.9,240 L491.8,244 L490.7,248 L489.3,252 L487.7,256 L486.1,260 L484.4,264 L482.7,268 L481.1,272 L479.4,276 L477.7,280 L475.9,284 L474.2,288 L472.4,292 L470.6,296 L468.8,300 L466.9,304 L465,308 L463,312 L461,316 L459,320 L457,324 L454.9,328 L452.9,332 L450.8,336 L448.7,340 L446.5,344 L444.4,348 L442.2,352 L440,356 L437.8,360 L435.5,364 L433.2,368 L430.9,372 L428.6,376 L426.3,380 L418.3,384 L410.2,388 L402.1,392 L393.8,396 L385.4,400 L376.9,404 L368.4,408 L359.8,412 L351.1,416 L342.4,420 L333.6,424 L324.7,428 L315.8,432 L306.8,436 L297.7,440 L294.4,444 L291,448 L287.6,452 L284.1,456 L280.5,460 L277,464 L273.3,468 L268.8,472 L263.3,476 L257.8,480 L252.2,484 L246.6,488 L240.8,492 L235,496 L229.2,500 L194.4,504 L159.5,508 L124.5,512 L89.4,516 L54.3,520 L19,524 L-16.4,528 L-32.2,532 L-28.4,536 L-24.8,540 L-21.3,544 L-18,548 L-14.9,552 L-12,556 L-9.3,560 L-6.8,564 L-4.7,568 L-2.9,572 L-1.6,576 L-0.7,580 L-0.5,584 L-1.4,588 L-4.7,592 L800,592 L800,8Z" fill="#f94c20"/>
<path d="M569.2,8 L568.5,12 L567.5,16 L566.5,20 L565.5,24 L564.5,28 L563.5,32 L562.5,36 L561.5,40 L560.4,44 L559.4,48 L558.3,52 L557.3,56 L556.2,60 L555.1,64 L554.1,68 L553,72 L551.9,76 L550.8,80 L549.7,84 L548.6,88 L547.4,92 L546.3,96 L545.2,100 L543.9,104 L542.5,108 L541.2,112 L539.8,116 L538.4,120 L537,124 L535.6,128 L534.2,132 L532.7,136 L531.3,140 L529.8,144 L528.4,148 L526.9,152 L525.4,156 L524,160 L522.5,164 L521,168 L519.4,172 L517.9,176 L516.4,180 L514.8,184 L513.3,188 L511.7,192 L510.1,196 L508.5,200 L507.6,204 L506.6,208 L505.6,212 L504.5,216 L503.5,220 L502.5,224 L501.4,228 L500.3,232 L499.3,236 L498.2,240 L497,244 L495.9,248 L494.6,252 L492.9,256 L491.3,260 L489.7,264 L488,268 L486.3,272 L484.7,276 L483,280 L481.2,284 L479.5,288 L477.7,292 L476,296 L474.2,300 L472.3,304 L470.3,308 L468.4,312 L466.4,316 L464.4,320 L462.4,324 L460.4,328 L458.3,332 L456.2,336 L454.1,340 L452,344 L449.9,348 L447.7,352 L445.5,356 L443.3,360 L441,364 L438.8,368 L436.5,372 L434.2,376 L431.8,380 L424.2,384 L416.6,388 L409,392 L401.1,396 L393.1,400 L385.1,404 L377,408 L368.9,412 L360.6,416 L352.4,420 L344,424 L335.6,428 L327.1,432 L318.6,436 L310,440 L306.7,444 L303.3,448 L299.9,452 L296.5,456 L293,460 L289.4,464 L285.8,468 L281.3,472 L276,476 L270.5,480 L265.1,484 L259.5,488 L253.9,492 L248.2,496 L242.4,500 L210,504 L177.4,508 L144.8,512 L112,516 L79.2,520 L46.2,524 L13.2,528 L-1.8,532 L1.4,536 L4.5,540 L7.3,544 L10.1,548 L12.6,552 L14.9,556 L17,560 L18.8,564 L20.3,568 L21.5,572 L22.3,576 L22.6,580 L22.1,584 L20.6,588 L16.8,592 L800,592 L800,8Z" fill="#f85520"/>
<path d="M575.7,8 L574.9,12 L574,16 L573,20 L572,24 L571,28 L570,32 L569,36 L568,40 L566.9,44 L565.9,48 L564.9,52 L563.8,56 L562.7,60 L561.7,64 L560.6,68 L559.5,72 L558.5,76 L557.4,80 L556.3,84 L555.2,88 L554,92 L552.9,96 L551.8,100 L550.5,104 L549.2,108 L547.8,112 L546.5,116 L545.1,120 L543.7,124 L542.3,128 L540.9,132 L539.5,136 L538.1,140 L536.6,144 L535.2,148 L533.8,152 L532.3,156 L530.8,160 L529.4,164 L527.9,168 L526.4,172 L524.9,176 L523.3,180 L521.8,184 L520.3,188 L518.7,192 L517.1,196 L515.6,200 L514.6,204 L513.6,208 L512.6,212 L511.5,216 L510.5,220 L509.5,224 L508.4,228 L507.3,232 L506.2,236 L505.1,240 L504,244 L502.9,248 L501.5,252 L499.9,256 L498.3,260 L496.7,264 L495,268 L493.4,272 L491.7,276 L490,280 L488.3,284 L486.6,288 L484.8,292 L483.1,296 L481.3,300 L479.4,304 L477.5,308 L475.5,312 L473.6,316 L471.6,320 L469.6,324 L467.6,328 L465.5,332 L463.4,336 L461.4,340 L459.3,344 L457.1,348 L455,352 L452.8,356 L450.6,360 L448.4,364 L446.1,368 L443.8,372 L441.5,376 L439.2,380 L432.2,384 L425.1,388 L418,392 L410.6,396 L403.2,400 L395.7,404 L388.2,408 L380.6,412 L373,416 L365.3,420 L357.5,424 L349.7,428 L341.8,432 L333.8,436 L325.7,440 L322.5,444 L319.2,448 L315.8,452 L312.4,456 L309,460 L305.4,464 L301.9,468 L297.5,472 L292.3,476 L287,480 L281.6,484 L276.2,488 L270.7,492 L265.1,496 L259.5,500 L229.9,504 L200.3,508 L170.6,512 L140.8,516 L110.9,520 L80.8,524 L50.7,528 L36.8,532 L39.3,536 L41.5,540 L43.7,544 L45.6,548 L47.4,552 L49,556 L50.3,560 L51.4,564 L52.2,568 L52.6,572 L52.6,576 L52.1,580 L50.9,584 L48.7,588 L44.1,592 L800,592 L800,8Z" fill="#f65d1f"/>
<path d="M581.3,8 L580.5,12 L579.6,16 L578.6,20 L577.6,24 L576.6,28 L575.6,32 L574.6,36 L573.6,40 L572.6,44 L571.6,48 L570.5,52 L569.5,56 L568.4,60 L567.4,64 L566.3,68 L565.3,72 L564.2,76 L563.1,80 L562,84 L560.9,88 L559.8,92 L558.7,96 L557.6,100 L556.3,104 L555,108 L553.7,112 L552.3,116 L550.9,120 L549.6,124 L548.2,128 L546.8,132 L545.4,136 L544,140 L542.6,144 L541.1,148 L539.7,152 L538.3,156 L536.8,160 L535.4,164 L533.9,168 L532.4,172 L530.9,176 L529.4,180 L527.9,184 L526.3,188 L524.8,192 L523.3,196 L521.7,200 L520.7,204 L519.7,208 L518.7,212 L517.7,216 L516.6,220 L515.6,224 L514.5,228 L513.4,232 L512.3,236 L511.2,240 L510.1,244 L509,248 L507.6,252 L506,256 L504.4,260 L502.8,264 L501.1,268 L499.5,272 L497.8,276 L496.1,280 L494.4,284 L492.7,288 L491,292 L489.2,296 L487.5,300 L485.6,304 L483.7,308 L481.7,312 L479.8,316 L477.8,320 L475.8,324 L473.8,328 L471.8,332 L469.7,336 L467.7,340 L465.6,344 L463.5,348 L461.3,352 L459.2,356 L457,360 L454.8,364 L452.5,368 L450.2,372 L447.9,376 L445.6,380 L439,384 L432.4,388 L425.7,392 L418.8,396 L411.9,400 L404.9,404 L397.8,408 L390.7,412 L383.5,416 L376.2,420 L368.9,424 L361.5,428 L354.1,432 L346.6,436 L339,440 L335.8,444 L332.5,448 L329.2,452 L325.8,456 L322.4,460 L318.9,464 L315.4,468 L311.1,472 L306,476 L300.8,480 L295.5,484 L290.2,488 L284.8,492 L279.4,496 L273.8,500 L246.7,504 L219.4,508 L192.1,512 L164.6,516 L137.1,520 L109.5,524 L81.7,528 L68.7,532 L70.5,536 L72.2,540 L73.7,544 L75.1,548 L76.2,552 L77.2,556 L77.9,560 L78.4,564 L78.6,568 L78.4,572 L77.8,576 L76.7,580 L74.9,584 L72,588 L66.8,592 L800,592 L800,8Z" fill="#f5661f"/>
<path d="M585.3,8 L584.5,12 L583.6,16 L582.6,20 L581.6,24 L580.7,28 L579.7,32 L578.7,36 L577.7,40 L576.6,44 L575.6,48 L574.6,52 L573.6,56 L572.5,60 L571.5,64 L570.4,68 L569.3,72 L568.3,76 L567.2,80 L566.1,84 L565,88 L563.9,92 L562.8,96 L561.7,100 L560.5,104 L559.1,108 L557.8,112 L556.5,116 L555.1,120 L553.7,124 L552.4,128 L551,132 L549.6,136 L548.2,140 L546.8,144 L545.4,148 L544,152 L542.5,156 L541.1,160 L539.6,164 L538.2,168 L536.7,172 L535.2,176 L533.7,180 L532.2,184 L530.7,188 L529.2,192 L527.6,196 L526.1,200 L525.1,204 L524.1,208 L523,212 L522,216 L521,220 L519.9,224 L518.8,228 L517.8,232 L516.7,236 L515.5,240 L514.4,244 L513.3,248 L511.9,252 L510.3,256 L508.7,260 L507.1,264 L505.5,268 L503.8,272 L502.2,276 L500.5,280 L498.8,284 L497.1,288 L495.4,292 L493.6,296 L491.9,300 L490,304 L488.1,308 L486.2,312 L484.2,316 L482.3,320 L480.3,324 L478.3,328 L476.3,332 L474.2,336 L472.2,340 L470.1,344 L468,348 L465.8,352 L463.7,356 L461.5,360 L459.3,364 L457.1,368 L454.8,372 L452.5,376 L450.2,380 L443.9,384 L437.6,388 L431.2,392 L424.6,396 L418,400 L411.2,404 L404.5,408 L397.7,412 L390.8,416 L383.9,420 L376.9,424 L369.8,428 L362.7,432 L355.5,436 L348.3,440 L345.1,444 L341.8,448 L338.5,452 L335.2,456 L331.8,460 L328.3,464 L324.8,468 L320.5,472 L315.5,476 L310.4,480 L305.2,484 L300,488 L294.7,492 L289.3,496 L283.8,500 L258.2,504 L232.6,508 L206.9,512 L181,516 L155.1,520 L129.1,524 L102.9,528 L90.5,532 L91.9,536 L93.2,540 L94.3,544 L95.2,548 L96,552 L96.5,556 L96.8,560 L96.9,564 L96.7,568 L96.1,572 L95.1,576 L93.5,580 L91.3,584 L88.1,588 L82.4,592 L800,592 L800,8Z" fill="#f56d1f"/>
<path d="M589.3,8 L588.5,12 L587.6,16 L586.6,20 L585.7,24 L584.7,28 L583.7,32 L582.7,36 L581.7,40 L580.7,44 L579.7,48 L578.6,52 L577.6,56 L576.6,60 L575.5,64 L574.5,68 L573.4,72 L572.4,76 L571.3,80 L570.2,84 L569.1,88 L568,92 L566.9,96 L565.8,100 L564.6,104 L563.3,108 L561.9,112 L560.6,116 L559.3,120 L557.9,124 L556.6,128 L555.2,132 L553.8,136 L552.4,140 L551,144 L549.6,148 L548.2,152 L546.8,156 L545.3,160 L543.9,164 L542.5,168 L541,172 L539.5,176 L538,180 L536.5,184 L535,188 L533.5,192 L532,196 L530.4,200 L529.4,204 L528.4,208 L527.4,212 L526.4,216 L525.3,220 L524.3,224 L523.2,228 L522.1,232 L521,236 L519.9,240 L518.8,244 L517.6,248 L516.3,252 L514.7,256 L513.1,260 L511.5,264 L509.9,268 L508.2,272 L506.6,276 L504.9,280 L503.2,284 L501.5,288 L499.8,292 L498,296 L496.3,300 L494.4,304 L492.5,308 L490.6,312 L488.7,316 L486.7,320 L484.8,324 L482.8,328 L480.8,332 L478.7,336 L476.7,340 L474.6,344 L472.5,348 L470.4,352 L468.2,356 L466.1,360 L463.9,364 L461.6,368 L459.4,372 L457.1,376 L454.8,380 L448.8,384 L442.7,388 L436.6,392 L430.3,396 L424,400 L417.6,404 L411.1,408 L404.6,412 L398,416 L391.4,420 L384.7,424 L377.9,428 L371.1,432 L364.2,436 L357.3,440 L354.1,444 L350.9,448 L347.6,452 L344.3,456 L340.9,460 L337.5,464 L334,468 L329.8,472 L324.8,476 L319.8,480 L314.7,484 L309.5,488 L304.3,492 L298.9,496 L293.5,500 L269.5,504 L245.4,508 L221.2,512 L196.9,516 L172.5,520 L148,524 L123.4,528 L111.6,532 L112.6,536 L113.4,540 L114.2,544 L114.7,548 L115.1,552 L115.2,556 L115.1,560 L114.8,564 L114.1,568 L113.2,572 L111.8,576 L109.8,580 L107.2,584 L103.6,588 L97.6,592 L800,592 L800,8Z" fill="#f47420"/>
<path d="M593.3,8 L592.5,12 L591.6,16 L590.6,20 L589.7,24 L588.7,28 L587.7,32 L586.7,36 L585.7,40 L584.7,44 L583.7,48 L582.7,52 L581.7,56 L580.6,60 L579.6,64 L578.6,68 L577.5,72 L576.4,76 L575.4,80 L574.3,84 L573.2,88 L572.1,92 L571,96 L569.9,100 L568.7,104 L567.4,108 L566.1,112 L564.8,116 L563.4,120 L562.1,124 L560.7,128 L559.4,132 L558,136 L556.6,140 L555.3,144 L553.9,148 L552.5,152 L551,156 L549.6,160 L548.2,164 L546.7,168 L545.3,172 L543.8,176 L542.3,180 L540.9,184 L539.4,188 L537.9,192 L536.3,196 L534.8,200 L533.8,204 L532.8,208 L531.8,212 L530.7,216 L529.7,220 L528.6,224 L527.5,228 L526.4,232 L525.3,236 L524.2,240 L523.1,244 L521.9,248 L520.6,252 L519,256 L517.4,260 L515.8,264 L514.2,268 L512.6,272 L510.9,276 L509.3,280 L507.6,284 L505.9,288 L504.2,292 L502.4,296 L500.7,300 L498.8,304 L496.9,308 L495,312 L493.1,316 L491.2,320 L489.2,324 L487.2,328 L485.2,332 L483.2,336 L481.2,340 L479.1,344 L477,348 L474.9,352 L472.8,356 L470.6,360 L468.4,364 L466.2,368 L464,372 L461.7,376 L459.4,380 L453.7,384 L447.9,388 L442,392 L436,396 L429.9,400 L423.8,404 L417.6,408 L411.4,412 L405.1,416 L398.7,420 L392.3,424 L385.9,428 L379.3,432 L372.7,436 L366.1,440 L362.9,444 L359.7,448 L356.5,452 L353.2,456 L349.8,460 L346.4,464 L343,468 L338.8,472 L333.9,476 L328.9,480 L323.9,484 L318.8,488 L313.6,492 L308.4,496 L303.1,500 L280.5,504 L257.9,508 L235.1,512 L212.3,516 L189.3,520 L166.3,524 L143.1,528 L131.8,532 L132.5,536 L133,540 L133.3,544 L133.5,548 L133.5,552 L133.2,556 L132.8,560 L132.1,564 L131,568 L129.7,572 L127.9,576 L125.6,580 L122.6,584 L118.6,588 L112.2,592 L800,592 L800,8Z" fill="#f47b20"/>
<path d="M597.4,8 L596.7,12 L595.8,16 L594.8,20 L593.8,24 L592.9,28 L591.9,32 L590.9,36 L589.9,40 L588.9,44 L587.9,48 L586.9,52 L585.9,56 L584.9,60 L583.8,64 L582.8,68 L581.7,72 L580.7,76 L579.6,80 L578.6,84 L577.5,88 L576.4,92 L575.3,96 L574.2,100 L573,104 L571.7,108 L570.4,112 L569.1,116 L567.8,120 L566.4,124 L565.1,128 L563.8,132 L562.4,136 L561,140 L559.7,144 L558.3,148 L556.9,152 L555.5,156 L554.1,160 L552.6,164 L551.2,168 L549.8,172 L548.3,176 L546.8,180 L545.4,184 L543.9,188 L542.4,192 L540.9,196 L539.3,200 L538.3,204 L537.3,208 L536.3,212 L535.3,216 L534.2,220 L533.1,224 L532.1,228 L531,232 L529.9,236 L528.7,240 L527.6,244 L526.4,248 L525.1,252 L523.5,256 L521.9,260 L520.4,264 L518.7,268 L517.1,272 L515.5,276 L513.8,280 L512.1,284 L510.5,288 L508.7,292 L507,296 L505.3,300 L503.4,304 L501.6,308 L499.7,312 L497.7,316 L495.8,320 L493.9,324 L491.9,328 L489.9,332 L487.9,336 L485.9,340 L483.8,344 L481.7,348 L479.6,352 L477.5,356 L475.3,360 L473.2,364 L470.9,368 L468.7,372 L466.5,376 L464.2,380 L458.7,384 L453.2,388 L447.6,392 L441.9,396 L436.1,400 L430.2,404 L424.3,408 L418.3,412 L412.3,416 L406.3,420 L400.1,424 L394,428 L387.7,432 L381.4,436 L375.1,440 L371.9,444 L368.8,448 L365.5,452 L362.3,456 L358.9,460 L355.6,464 L352.1,468 L348,472 L343.2,476 L338.3,480 L333.3,484 L328.3,488 L323.2,492 L318,496 L312.8,500 L291.7,504 L270.4,508 L249.1,512 L227.7,516 L206.3,520 L184.6,524 L162.9,528 L152.2,532 L152.5,536 L152.6,540 L152.5,544 L152.3,548 L151.9,552 L151.4,556 L150.5,560 L149.4,564 L148.1,568 L146.3,572 L144.2,576 L141.5,580 L138.2,584 L133.8,588 L127,592 L800,592 L800,8Z" fill="#f48220"/>
<path d="M601.7,8 L600.9,12 L600,16 L599.1,20 L598.1,24 L597.1,28 L596.2,32 L595.2,36 L594.2,40 L593.2,44 L592.2,48 L591.2,52 L590.2,56 L589.2,60 L588.1,64 L587.1,68 L586.1,72 L585,76 L584,80 L582.9,84 L581.8,88 L580.7,92 L579.7,96 L578.6,100 L577.4,104 L576.1,108 L574.8,112 L573.5,116 L572.2,120 L570.9,124 L569.5,128 L568.2,132 L566.9,136 L565.5,140 L564.1,144 L562.8,148 L561.4,152 L560,156 L558.6,160 L557.2,164 L555.7,168 L554.3,172 L552.9,176 L551.4,180 L549.9,184 L548.5,188 L547,192 L545.5,196 L544,200 L543,204 L541.9,208 L540.9,212 L539.9,216 L538.8,220 L537.7,224 L536.7,228 L535.6,232 L534.4,236 L533.3,240 L532.2,244 L531,248 L529.7,252 L528.1,256 L526.5,260 L525,264 L523.4,268 L521.7,272 L520.1,276 L518.5,280 L516.8,284 L515.1,288 L513.4,292 L511.7,296 L509.9,300 L508.1,304 L506.2,308 L504.4,312 L502.5,316 L500.5,320 L498.6,324 L496.6,328 L494.7,332 L492.6,336 L490.6,340 L488.6,344 L486.5,348 L484.4,352 L482.3,356 L480.1,360 L478,364 L475.8,368 L473.6,372 L471.3,376 L469,380 L463.8,384 L458.6,388 L453.3,392 L447.8,396 L442.2,400 L436.6,404 L431,408 L425.3,412 L419.6,416 L413.8,420 L407.9,424 L402,428 L396.1,432 L390.1,436 L384,440 L380.9,444 L377.7,448 L374.5,452 L371.3,456 L368,460 L364.6,464 L361.2,468 L357.1,472 L352.4,476 L347.5,480 L342.7,484 L337.7,488 L332.7,492 L327.6,496 L322.4,500 L302.7,504 L282.9,508 L263,512 L243,516 L222.8,520 L202.6,524 L182.3,528 L172.1,532 L172,536 L171.8,540 L171.4,544 L170.8,548 L170.1,552 L169.1,556 L167.9,560 L166.5,564 L164.7,568 L162.6,572 L160.1,576 L157.1,580 L153.4,584 L148.7,588 L141.5,592 L800,592 L800,8Z" fill="#f48820"/>
<path d="M605.9,8 L605.2,12 L604.3,16 L603.3,20 L602.4,24 L601.4,28 L600.4,32 L599.5,36 L598.5,40 L597.5,44 L596.5,48 L595.5,52 L594.5,56 L593.5,60 L592.5,64 L591.4,68 L590.4,72 L589.3,76 L588.3,80 L587.2,84 L586.2,88 L585.1,92 L584,96 L582.9,100 L581.7,104 L580.5,108 L579.2,112 L577.9,116 L576.6,120 L575.3,124 L574,128 L572.6,132 L571.3,136 L570,140 L568.6,144 L567.2,148 L565.9,152 L564.5,156 L563.1,160 L561.7,164 L560.3,168 L558.9,172 L557.4,176 L556,180 L554.5,184 L553.1,188 L551.6,192 L550.1,196 L548.6,200 L547.6,204 L546.6,208 L545.5,212 L544.5,216 L543.4,220 L542.3,224 L541.3,228 L540.2,232 L539,236 L537.9,240 L536.8,244 L535.6,248 L534.3,252 L532.7,256 L531.2,260 L529.6,264 L528,268 L526.4,272 L524.7,276 L523.1,280 L521.4,284 L519.8,288 L518.1,292 L516.3,296 L514.6,300 L512.8,304 L510.9,308 L509.1,312 L507.2,316 L505.3,320 L503.3,324 L501.4,328 L499.4,332 L497.4,336 L495.4,340 L493.3,344 L491.3,348 L489.2,352 L487.1,356 L485,360 L482.8,364 L480.6,368 L478.4,372 L476.2,376 L473.9,380 L468.9,384 L463.9,388 L458.9,392 L453.6,396 L448.3,400 L443,404 L437.6,408 L432.2,412 L426.7,416 L421.2,420 L415.6,424 L410,428 L404.3,432 L398.5,436 L392.7,440 L389.6,444 L386.5,448 L383.3,452 L380.1,456 L376.8,460 L373.5,464 L370.1,468 L366,472 L361.4,476 L356.6,480 L351.8,484 L346.9,488 L342,492 L336.9,496 L331.8,500 L313.4,504 L294.9,508 L276.3,512 L257.6,516 L238.8,520 L220,524 L200.9,528 L191.2,532 L190.8,536 L190.2,540 L189.5,544 L188.6,548 L187.5,552 L186.2,556 L184.7,560 L182.9,564 L180.8,568 L178.4,572 L175.5,576 L172.2,580 L168.1,584 L163,588 L155.6,592 L800,592 L800,8Z" fill="#f48e1f"/>
<path d="M610.1,8 L609.4,12 L608.5,16 L607.5,20 L606.6,24 L605.6,28 L604.7,32 L603.7,36 L602.7,40 L601.8,44 L600.8,48 L599.8,52 L598.8,56 L597.8,60 L596.8,64 L595.7,68 L594.7,72 L593.7,76 L592.6,80 L591.6,84 L590.5,88 L589.5,92 L588.4,96 L587.3,100 L586.1,104 L584.9,108 L583.6,112 L582.3,116 L581,120 L579.7,124 L578.4,128 L577.1,132 L575.8,136 L574.4,140 L573.1,144 L571.7,148 L570.4,152 L569,156 L567.6,160 L566.2,164 L564.8,168 L563.4,172 L562,176 L560.6,180 L559.1,184 L557.7,188 L556.2,192 L554.7,196 L553.2,200 L552.2,204 L551.2,208 L550.1,212 L549.1,216 L548,220 L546.9,224 L545.9,228 L544.8,232 L543.6,236 L542.5,240 L541.4,244 L540.2,248 L538.9,252 L537.3,256 L535.8,260 L534.2,264 L532.6,268 L531,272 L529.4,276 L527.7,280 L526.1,284 L524.4,288 L522.7,292 L521,296 L519.3,300 L517.5,304 L515.6,308 L513.8,312 L511.9,316 L510,320 L508.1,324 L506.1,328 L504.1,332 L502.2,336 L500.2,340 L498.1,344 L496.1,348 L494,352 L491.9,356 L489.8,360 L487.6,364 L485.4,368 L483.2,372 L481,376 L478.8,380 L474,384 L469.2,388 L464.4,392 L459.4,396 L454.4,400 L449.3,404 L444.1,408 L439,412 L433.7,416 L428.4,420 L423.1,424 L417.7,428 L412.3,432 L406.8,436 L401.2,440 L398.1,444 L395,448 L391.9,452 L388.7,456 L385.4,460 L382.1,464 L378.7,468 L374.8,472 L370.1,476 L365.5,480 L360.7,484 L355.9,488 L351,492 L346,496 L341,500 L323.8,504 L306.6,508 L289.2,512 L271.8,516 L254.3,520 L236.6,524 L218.8,528 L209.6,532 L208.8,536 L207.9,540 L206.9,544 L205.7,548 L204.3,552 L202.6,556 L200.8,560 L198.7,564 L196.3,568 L193.5,572 L190.4,576 L186.7,580 L182.3,584 L176.9,588 L169.1,592 L800,592 L800,8Z" fill="#f4941f"/>
<path d="M614.4,8 L613.6,12 L612.7,16 L611.8,20 L610.9,24 L609.9,28 L608.9,32 L608,36 L607,40 L606,44 L605.1,48 L604.1,52 L603.1,56 L602.1,60 L601.1,64 L600.1,68 L599,72 L598,76 L597,80 L595.9,84 L594.9,88 L593.8,92 L592.7,96 L591.7,100 L590.5,104 L589.2,108 L588,112 L586.7,116 L585.4,120 L584.1,124 L582.8,128 L581.5,132 L580.2,136 L578.9,140 L577.6,144 L576.2,148 L574.9,152 L573.5,156 L572.1,160 L570.8,164 L569.4,168 L568,172 L566.6,176 L565.1,180 L563.7,184 L562.3,188 L560.8,192 L559.3,196 L557.9,200 L556.8,204 L555.8,208 L554.8,212 L553.7,216 L552.6,220 L551.6,224 L550.5,228 L549.4,232 L548.2,236 L547.1,240 L546,244 L544.8,248 L543.4,252 L541.9,256 L540.4,260 L538.8,264 L537.2,268 L535.6,272 L534,276 L532.4,280 L530.7,284 L529.1,288 L527.4,292 L525.7,296 L524,300 L522.1,304 L520.3,308 L518.5,312 L516.6,316 L514.7,320 L512.8,324 L510.8,328 L508.9,332 L506.9,336 L504.9,340 L502.9,344 L500.9,348 L498.8,352 L496.7,356 L494.6,360 L492.4,364 L490.3,368 L488.1,372 L485.9,376 L483.6,380 L479.1,384 L474.5,388 L469.9,392 L465.2,396 L460.3,400 L455.5,404 L450.6,408 L445.6,412 L440.6,416 L435.6,420 L430.5,424 L425.3,428 L420.1,432 L414.8,436 L409.5,440 L406.5,444 L403.4,448 L400.3,452 L397.1,456 L393.8,460 L390.6,464 L387.2,468 L383.3,472 L378.7,476 L374.1,480 L369.4,484 L364.7,488 L359.8,492 L355,496 L350,500 L334,504 L317.9,508 L301.7,512 L285.5,516 L269.1,520 L252.6,524 L236,528 L227.2,532 L226.2,536 L225,540 L223.6,544 L222.1,548 L220.4,552 L218.5,556 L216.3,560 L213.9,564 L211.2,568 L208.2,572 L204.7,576 L200.7,580 L196,584 L190.3,588 L182.2,592 L800,592 L800,8Z" fill="#f49a1f"/>
<path d="M618.7,8 L617.9,12 L617,16 L616.1,20 L615.2,24 L614.2,28 L613.3,32 L612.3,36 L611.4,40 L610.4,44 L609.4,48 L608.4,52 L607.4,56 L606.4,60 L605.4,64 L604.4,68 L603.4,72 L602.4,76 L601.4,80 L600.3,84 L599.3,88 L598.2,92 L597.2,96 L596.1,100 L594.9,104 L593.7,108 L592.4,112 L591.2,116 L589.9,120 L588.6,124 L587.3,128 L586,132 L584.7,136 L583.4,140 L582.1,144 L580.8,148 L579.4,152 L578.1,156 L576.7,160 L575.4,164 L574,168 L572.6,172 L571.2,176 L569.8,180 L568.4,184 L566.9,188 L565.5,192 L564,196 L562.6,200 L561.5,204 L560.5,208 L559.4,212 L558.4,216 L557.3,220 L556.2,224 L555.1,228 L554,232 L552.9,236 L551.8,240 L550.6,244 L549.4,248 L548.1,252 L546.6,256 L545,260 L543.5,264 L541.9,268 L540.3,272 L538.7,276 L537.1,280 L535.4,284 L533.8,288 L532.1,292 L530.4,296 L528.7,300 L526.9,304 L525.1,308 L523.2,312 L521.4,316 L519.5,320 L517.6,324 L515.7,328 L513.7,332 L511.7,336 L509.8,340 L507.7,344 L505.7,348 L503.7,352 L501.6,356 L499.5,360 L497.3,364 L495.2,368 L493,372 L490.8,376 L488.5,380 L484.2,384 L479.9,388 L475.5,392 L470.9,396 L466.3,400 L461.7,404 L457,408 L452.3,412 L447.5,416 L442.7,420 L437.8,424 L432.9,428 L427.9,432 L422.8,436 L417.8,440 L414.7,444 L411.7,448 L408.6,452 L405.4,456 L402.2,460 L398.9,464 L395.6,468 L391.7,472 L387.2,476 L382.7,480 L378.1,484 L373.4,488 L368.6,492 L363.8,496 L358.9,500 L344,504 L329.1,508 L314,512 L298.9,516 L283.6,520 L268.3,524 L252.8,528 L244.4,532 L243,536 L241.6,540 L239.9,544 L238.1,548 L236.1,552 L233.9,556 L231.5,560 L228.8,564 L225.8,568 L222.4,572 L218.7,576 L214.4,580 L209.5,584 L203.5,588 L195.1,592 L800,592 L800,8Z" fill="#f59f1f"/>
<path d="M623,8 L622.3,12 L621.4,16 L620.4,20 L619.5,24 L618.6,28 L617.6,32 L616.7,36 L615.7,40 L614.8,44 L613.8,48 L612.8,52 L611.8,56 L610.8,60 L609.9,64 L608.8,68 L607.8,72 L606.8,76 L605.8,80 L604.8,84 L603.7,88 L602.7,92 L601.6,96 L600.5,100 L599.4,104 L598.2,108 L596.9,112 L595.7,116 L594.4,120 L593.2,124 L591.9,128 L590.6,132 L589.3,136 L588,140 L586.7,144 L585.4,148 L584,152 L582.7,156 L581.4,160 L580,164 L578.6,168 L577.2,172 L575.9,176 L574.5,180 L573,184 L571.6,188 L570.2,192 L568.7,196 L567.3,200 L566.3,204 L565.2,208 L564.2,212 L563.1,216 L562,220 L560.9,224 L559.8,228 L558.7,232 L557.6,236 L556.5,240 L555.3,244 L554.1,248 L552.8,252 L551.3,256 L549.7,260 L548.2,264 L546.6,268 L545,272 L543.4,276 L541.8,280 L540.2,284 L538.5,288 L536.9,292 L535.2,296 L533.5,300 L531.7,304 L529.9,308 L528,312 L526.2,316 L524.3,320 L522.4,324 L520.5,328 L518.6,332 L516.6,336 L514.6,340 L512.6,344 L510.6,348 L508.6,352 L506.5,356 L504.4,360 L502.3,364 L500.1,368 L497.9,372 L495.7,376 L493.5,380 L489.4,384 L485.3,388 L481.1,392 L476.7,396 L472.3,400 L467.9,404 L463.4,408 L458.9,412 L454.3,416 L449.7,420 L445,424 L440.3,428 L435.6,432 L430.7,436 L425.9,440 L422.9,444 L419.8,448 L416.7,452 L413.6,456 L410.4,460 L407.2,464 L403.9,468 L400,472 L395.6,476 L391.1,480 L386.6,484 L381.9,488 L377.2,492 L372.5,496 L367.6,500 L353.8,504 L339.9,508 L325.9,512 L311.9,516 L297.7,520 L283.4,524 L269,528 L261,532 L259.3,536 L257.6,540 L255.7,544 L253.6,548 L251.3,552 L248.8,556 L246.1,560 L243.2,564 L239.9,568 L236.3,572 L232.3,576 L227.7,580 L222.5,584 L216.2,588 L207.6,592 L800,592 L800,8Z" fill="#f2a520"/>
<path d="M627.3,8 L626.6,12 L625.7,16 L624.8,20 L623.9,24 L622.9,28 L622,32 L621.1,36 L620.1,40 L619.1,44 L618.2,48 L617.2,52 L616.2,56 L615.3,60 L614.3,64 L613.3,68 L612.3,72 L611.2,76 L610.2,80 L609.2,84 L608.2,88 L607.1,92 L606.1,96 L605,100 L603.9,104 L602.6,108 L601.4,112 L600.2,116 L598.9,120 L597.7,124 L596.4,128 L595.1,132 L593.9,136 L592.6,140 L591.3,144 L590,148 L588.6,152 L587.3,156 L586,160 L584.6,164 L583.3,168 L581.9,172 L580.5,176 L579.1,180 L577.7,184 L576.3,188 L574.9,192 L573.5,196 L572,200 L571,204 L569.9,208 L568.9,212 L567.8,216 L566.7,220 L565.7,224 L564.5,228 L563.4,232 L562.3,236 L561.2,240 L560,244 L558.8,248 L557.5,252 L556,256 L554.4,260 L552.9,264 L551.3,268 L549.8,272 L548.2,276 L546.5,280 L544.9,284 L543.3,288 L541.6,292 L539.9,296 L538.3,300 L536.5,304 L534.7,308 L532.8,312 L531,316 L529.1,320 L527.2,324 L525.3,328 L523.4,332 L521.5,336 L519.5,340 L517.5,344 L515.5,348 L513.5,352 L511.4,356 L509.3,360 L507.2,364 L505.1,368 L502.9,372 L500.7,376 L498.5,380 L494.6,384 L490.6,388 L486.6,392 L482.5,396 L478.3,400 L474,404 L469.7,408 L465.4,412 L461,416 L456.6,420 L452.1,424 L447.6,428 L443.1,432 L438.5,436 L433.8,440 L430.8,444 L427.8,448 L424.7,452 L421.6,456 L418.4,460 L415.2,464 L411.9,468 L408.1,472 L403.8,476 L399.3,480 L394.9,484 L390.3,488 L385.7,492 L381,496 L376.2,500 L363.4,504 L350.5,508 L337.5,512 L324.4,516 L311.2,520 L297.9,524 L284.5,528 L276.8,532 L275,536 L272.9,540 L270.8,544 L268.4,548 L265.9,552 L263.2,556 L260.2,560 L257,564 L253.5,568 L249.6,572 L245.3,576 L240.5,580 L235,584 L228.5,588 L219.6,592 L800,592 L800,8Z" fill="#edab23"/>
<path d="M631.5,8 L630.7,12 L629.9,16 L629,20 L628,24 L627.1,28 L626.2,32 L625.2,36 L624.3,40 L623.3,44 L622.4,48 L621.4,52 L620.5,56 L619.5,60 L618.5,64 L617.5,68 L616.5,72 L615.5,76 L614.5,80 L613.5,84 L612.4,88 L611.4,92 L610.3,96 L609.3,100 L608.2,104 L606.9,108 L605.7,112 L604.5,116 L603.3,120 L602,124 L600.8,128 L599.5,132 L598.2,136 L597,140 L595.7,144 L594.4,148 L593.1,152 L591.7,156 L590.4,160 L589.1,164 L587.7,168 L586.4,172 L585,176 L583.6,180 L582.2,184 L580.8,188 L579.4,192 L578,196 L576.6,200 L575.5,204 L574.5,208 L573.4,212 L572.4,216 L571.3,220 L570.2,224 L569.1,228 L567.9,232 L566.8,236 L565.7,240 L564.5,244 L563.3,248 L562,252 L560.5,256 L558.9,260 L557.4,264 L555.9,268 L554.3,272 L552.7,276 L551.1,280 L549.5,284 L547.8,288 L546.2,292 L544.5,296 L542.8,300 L541.1,304 L539.3,308 L537.5,312 L535.6,316 L533.8,320 L531.9,324 L530,328 L528.1,332 L526.1,336 L524.2,340 L522.2,344 L520.2,348 L518.2,352 L516.1,356 L514,360 L511.9,364 L509.8,368 L507.7,372 L505.5,376 L503.3,380 L499.5,384 L495.7,388 L491.9,392 L487.9,396 L483.9,400 L479.8,404 L475.7,408 L471.6,412 L467.4,416 L463.1,420 L458.8,424 L454.5,428 L450.1,432 L445.7,436 L441.2,440 L438.3,444 L435.3,448 L432.2,452 L429.1,456 L426,460 L422.8,464 L419.5,468 L415.7,472 L411.4,476 L407.1,480 L402.6,484 L398.2,488 L393.6,492 L389,496 L384.2,500 L372.3,504 L360.3,508 L348.2,512 L336,516 L323.7,520 L311.3,524 L298.7,528 L291.4,532 L289.3,536 L287.1,540 L284.7,544 L282.1,548 L279.4,552 L276.4,556 L273.2,560 L269.8,564 L266,568 L261.9,572 L257.4,576 L252.4,580 L246.7,584 L239.9,588 L230.8,592 L800,592 L800,8Z" fill="#edb225"/>
<path d="M635.2,8 L634.5,12 L633.6,16 L632.7,20 L631.8,24 L630.9,28 L630,32 L629,36 L628.1,40 L627.1,44 L626.2,48 L625.2,52 L624.3,56 L623.3,60 L622.3,64 L621.3,68 L620.3,72 L619.3,76 L618.3,80 L617.3,84 L616.3,88 L615.2,92 L614.2,96 L613.2,100 L612,104 L610.8,108 L609.6,112 L608.4,116 L607.2,120 L605.9,124 L604.7,128 L603.4,132 L602.2,136 L600.9,140 L599.6,144 L598.3,148 L597,152 L595.7,156 L594.4,160 L593.1,164 L591.8,168 L590.4,172 L589,176 L587.7,180 L586.3,184 L584.9,188 L583.5,192 L582.1,196 L580.7,200 L579.6,204 L578.6,208 L577.5,212 L576.4,216 L575.4,220 L574.3,224 L573.1,228 L572,232 L570.9,236 L569.7,240 L568.6,244 L567.4,248 L566,252 L564.5,256 L563,260 L561.5,264 L559.9,268 L558.4,272 L556.8,276 L555.2,280 L553.6,284 L552,288 L550.3,292 L548.7,296 L547,300 L545.2,304 L543.4,308 L541.6,312 L539.8,316 L537.9,320 L536.1,324 L534.2,328 L532.3,332 L530.4,336 L528.4,340 L526.4,344 L524.4,348 L522.4,352 L520.4,356 L518.3,360 L516.2,364 L514.1,368 L511.9,372 L509.8,376 L507.6,380 L504,384 L500.3,388 L496.6,392 L492.8,396 L488.9,400 L485,404 L481,408 L477.1,412 L473,416 L468.9,420 L464.8,424 L460.6,428 L456.4,432 L452.1,436 L447.8,440 L444.9,444 L441.9,448 L438.8,452 L435.8,456 L432.6,460 L429.4,464 L426.2,468 L422.5,472 L418.2,476 L413.9,480 L409.5,484 L405.1,488 L400.6,492 L396,496 L391.3,500 L380.2,504 L368.9,508 L357.6,512 L346.1,516 L334.6,520 L322.9,524 L311.1,528 L304.1,532 L301.8,536 L299.4,540 L296.8,544 L294,548 L291.1,552 L287.9,556 L284.5,560 L280.9,564 L276.9,568 L272.6,572 L267.9,576 L262.7,580 L256.8,584 L249.9,588 L240.5,592 L800,592 L800,8Z" fill="#edb927"/>
<path d="M639,8 L638.2,12 L637.4,16 L636.5,20 L635.6,24 L634.7,28 L633.7,32 L632.8,36 L631.9,40 L630.9,44 L630,48 L629,52 L628.1,56 L627.1,60 L626.1,64 L625.1,68 L624.2,72 L623.2,76 L622.2,80 L621.1,84 L620.1,88 L619.1,92 L618.1,96 L617,100 L615.9,104 L614.7,108 L613.5,112 L612.3,116 L611.1,120 L609.9,124 L608.6,128 L607.4,132 L606.1,136 L604.9,140 L603.6,144 L602.3,148 L601,152 L599.7,156 L598.4,160 L597.1,164 L595.8,168 L594.4,172 L593.1,176 L591.7,180 L590.4,184 L589,188 L587.6,192 L586.2,196 L584.8,200 L583.7,204 L582.7,208 L581.6,212 L580.5,216 L579.4,220 L578.3,224 L577.2,228 L576.1,232 L575,236 L573.8,240 L572.6,244 L571.5,248 L570.1,252 L568.6,256 L567.1,260 L565.6,264 L564,268 L562.5,272 L560.9,276 L559.3,280 L557.7,284 L556.1,288 L554.5,292 L552.8,296 L551.1,300 L549.4,304 L547.6,308 L545.8,312 L544,316 L542.1,320 L540.3,324 L538.4,328 L536.5,332 L534.6,336 L532.6,340 L530.7,344 L528.7,348 L526.7,352 L524.6,356 L522.6,360 L520.5,364 L518.4,368 L516.2,372 L514.1,376 L511.9,380 L508.4,384 L504.9,388 L501.3,392 L497.6,396 L493.9,400 L490.1,404 L486.3,408 L482.5,412 L478.6,416 L474.6,420 L470.7,424 L466.6,428 L462.5,432 L458.4,436 L454.2,440 L451.3,444 L448.3,448 L445.3,452 L442.3,456 L439.2,460 L436,464 L432.8,468 L429.1,472 L424.9,476 L420.6,480 L416.3,484 L411.9,488 L407.4,492 L402.9,496 L398.3,500 L387.8,504 L377.3,508 L366.6,512 L355.9,516 L345.1,520 L334.1,524 L323,528 L316.3,532 L313.8,536 L311.2,540 L308.4,544 L305.5,548 L302.3,552 L299,556 L295.4,560 L291.6,564 L287.5,568 L283,572 L278.1,576 L272.7,580 L266.6,584 L259.5,588 L250,592 L800,592 L800,8Z" fill="#eec028"/>
<path d="M642.7,8 L642,12 L641.1,16 L640.2,20 L639.3,24 L638.4,28 L637.5,32 L636.6,36 L635.7,40 L634.7,44 L633.8,48 L632.8,52 L631.9,56 L630.9,60 L629.9,64 L629,68 L628,72 L627,76 L626,80 L625,84 L624,88 L623,92 L621.9,96 L620.9,100 L619.8,104 L618.6,108 L617.4,112 L616.2,116 L615,120 L613.8,124 L612.6,128 L611.3,132 L610.1,136 L608.8,140 L607.6,144 L606.3,148 L605,152 L603.7,156 L602.4,160 L601.1,164 L599.8,168 L598.5,172 L597.1,176 L595.8,180 L594.4,184 L593,188 L591.7,192 L590.3,196 L588.9,200 L587.8,204 L586.8,208 L585.7,212 L584.6,216 L583.5,220 L582.4,224 L581.3,228 L580.2,232 L579,236 L577.9,240 L576.7,244 L575.5,248 L574.2,252 L572.7,256 L571.2,260 L569.7,264 L568.1,268 L566.6,272 L565,276 L563.4,280 L561.8,284 L560.2,288 L558.6,292 L556.9,296 L555.3,300 L553.5,304 L551.7,308 L549.9,312 L548.1,316 L546.3,320 L544.5,324 L542.6,328 L540.7,332 L538.8,336 L536.9,340 L534.9,344 L532.9,348 L530.9,352 L528.9,356 L526.8,360 L524.8,364 L522.7,368 L520.5,372 L518.4,376 L516.2,380 L512.8,384 L509.5,388 L506,392 L502.5,396 L498.9,400 L495.2,404 L491.6,408 L487.8,412 L484.1,416 L480.3,420 L476.4,424 L472.5,428 L468.6,432 L464.6,436 L460.6,440 L457.7,444 L454.7,448 L451.7,452 L448.7,456 L445.6,460 L442.4,464 L439.2,468 L435.5,472 L431.4,476 L427.2,480 L422.9,484 L418.6,488 L414.2,492 L409.7,496 L405.1,500 L395.3,504 L385.4,508 L375.5,512 L365.4,516 L355.2,520 L344.9,524 L334.5,528 L328,532 L325.4,536 L322.6,540 L319.6,544 L316.5,548 L313.2,552 L309.7,556 L306,560 L302,564 L297.7,568 L293,572 L288,576 L282.4,580 L276.1,584 L268.8,588 L259.1,592 L800,592 L800,8Z" fill="#eec129"/>
<path d="M648.7,8 L647.9,12 L647.1,16 L646.2,20 L645.3,24 L644.4,28 L643.5,32 L642.6,36 L641.6,40 L640.7,44 L639.8,48 L638.8,52 L637.9,56 L636.9,60 L636,64 L635,68 L634,72 L633.1,76 L632.1,80 L631.1,84 L630.1,88 L629,92 L628,96 L627,100 L625.9,104 L624.7,108 L623.5,112 L622.4,116 L621.2,120 L620,124 L618.8,128 L617.5,132 L616.3,136 L615.1,140 L613.8,144 L612.6,148 L611.3,152 L610,156 L608.8,160 L607.5,164 L606.2,168 L604.8,172 L603.5,176 L602.2,180 L600.8,184 L599.5,188 L598.1,192 L596.7,196 L595.3,200 L594.3,204 L593.2,208 L592.2,212 L591.1,216 L590,220 L588.9,224 L587.7,228 L586.6,232 L585.5,236 L584.3,240 L583.1,244 L581.9,248 L580.6,252 L579.1,256 L577.6,260 L576.1,264 L574.6,268 L573,272 L571.5,276 L569.9,280 L568.3,284 L566.7,288 L565.1,292 L563.5,296 L561.8,300 L560.1,304 L558.3,308 L556.5,312 L554.7,316 L552.9,320 L551.1,324 L549.2,328 L547.3,332 L545.4,336 L543.5,340 L541.6,344 L539.6,348 L537.6,352 L535.6,356 L533.6,360 L531.5,364 L529.4,368 L527.3,372 L525.2,376 L523,380 L519.8,384 L516.6,388 L513.4,392 L510,396 L506.6,400 L503.2,404 L499.7,408 L496.2,412 L492.6,416 L489,420 L485.3,424 L481.6,428 L477.9,432 L474.1,436 L470.3,440 L467.4,444 L464.5,448 L461.5,452 L458.5,456 L455.4,460 L452.3,464 L449.1,468 L445.5,472 L441.4,476 L437.3,480 L433.1,484 L428.9,488 L424.5,492 L420.1,496 L415.6,500 L406.8,504 L397.9,508 L388.9,512 L379.7,516 L370.5,520 L361.2,524 L351.8,528 L345.6,532 L342.7,536 L339.7,540 L336.5,544 L333.1,548 L329.6,552 L325.8,556 L321.8,560 L317.6,564 L313,568 L308.1,572 L302.8,576 L297,580 L290.5,584 L283,588 L273,592 L800,592 L800,8Z" fill="#eec329"/>
<path d="M654.7,8 L654,12 L653.1,16 L652.3,20 L651.4,24 L650.5,28 L649.6,32 L648.7,36 L647.8,40 L646.8,44 L645.9,48 L645,52 L644,56 L643.1,60 L642.1,64 L641.2,68 L640.2,72 L639.2,76 L638.3,80 L637.3,84 L636.3,88 L635.3,92 L634.3,96 L633.2,100 L632.1,104 L631,108 L629.8,112 L628.7,116 L627.5,120 L626.3,124 L625.1,128 L623.9,132 L622.7,136 L621.5,140 L620.2,144 L619,148 L617.8,152 L616.5,156 L615.2,160 L613.9,164 L612.7,168 L611.4,172 L610.1,176 L608.7,180 L607.4,184 L606.1,188 L604.7,192 L603.3,196 L602,200 L600.9,204 L599.8,208 L598.8,212 L597.7,216 L596.6,220 L595.5,224 L594.3,228 L593.2,232 L592,236 L590.9,240 L589.7,244 L588.5,248 L587.2,252 L585.7,256 L584.2,260 L582.7,264 L581.2,268 L579.7,272 L578.1,276 L576.6,280 L575,284 L573.4,288 L571.8,292 L570.1,296 L568.5,300 L566.8,304 L565,308 L563.2,312 L561.5,316 L559.7,320 L557.8,324 L556,328 L554.1,332 L552.3,336 L550.3,340 L548.4,344 L546.5,348 L544.5,352 L542.5,356 L540.5,360 L538.4,364 L536.3,368 L534.2,372 L532.1,376 L529.9,380 L526.9,384 L523.9,388 L520.9,392 L517.7,396 L514.4,400 L511.2,404 L507.9,408 L504.5,412 L501.2,416 L497.7,420 L494.3,424 L490.8,428 L487.2,432 L483.6,436 L480,440 L477.1,444 L474.2,448 L471.3,452 L468.3,456 L465.2,460 L462.1,464 L459,468 L455.4,472 L451.4,476 L447.4,480 L443.2,484 L439.1,488 L434.8,492 L430.5,496 L426.1,500 L418.1,504 L410.1,508 L401.9,512 L393.7,516 L385.4,520 L376.9,524 L368.4,528 L362.5,532 L359.4,536 L356.1,540 L352.7,544 L349.1,548 L345.4,552 L341.4,556 L337.2,560 L332.7,564 L327.9,568 L322.8,572 L317.3,576 L311.2,580 L304.5,584 L296.7,588 L286.6,592 L800,592 L800,8Z" fill="#edc42a"/>
<path d="M662.2,8 L661.5,12 L660.6,16 L659.8,20 L658.9,24 L658,28 L657.1,32 L656.2,36 L655.3,40 L654.4,44 L653.5,48 L652.6,52 L651.6,56 L650.7,60 L649.8,64 L648.8,68 L647.9,72 L646.9,76 L645.9,80 L644.9,84 L643.9,88 L643,92 L641.9,96 L640.9,100 L639.9,104 L638.7,108 L637.6,112 L636.4,116 L635.3,120 L634.1,124 L632.9,128 L631.8,132 L630.6,136 L629.4,140 L628.2,144 L626.9,148 L625.7,152 L624.5,156 L623.2,160 L622,164 L620.7,168 L619.4,172 L618.1,176 L616.8,180 L615.5,184 L614.2,188 L612.8,192 L611.5,196 L610.1,200 L609.1,204 L608,208 L606.9,212 L605.8,216 L604.7,220 L603.6,224 L602.5,228 L601.3,232 L600.2,236 L599,240 L597.8,244 L596.6,248 L595.3,252 L593.8,256 L592.3,260 L590.8,264 L589.3,268 L587.8,272 L586.3,276 L584.7,280 L583.2,284 L581.6,288 L580,292 L578.4,296 L576.7,300 L575,304 L573.3,308 L571.5,312 L569.8,316 L568,320 L566.2,324 L564.4,328 L562.5,332 L560.6,336 L558.8,340 L556.8,344 L554.9,348 L553,352 L551,356 L549,360 L546.9,364 L544.9,368 L542.8,372 L540.7,376 L538.5,380 L535.7,384 L532.9,388 L530,392 L527,396 L524,400 L520.9,404 L517.8,408 L514.7,412 L511.5,416 L508.3,420 L505,424 L501.7,428 L498.3,432 L494.9,436 L491.5,440 L488.7,444 L485.8,448 L482.9,452 L479.9,456 L476.9,460 L473.8,464 L470.7,468 L467.2,472 L463.3,476 L459.4,480 L455.3,484 L451.3,488 L447.1,492 L442.9,496 L438.6,500 L431.5,504 L424.4,508 L417.2,512 L410,516 L402.6,520 L395.1,524 L387.4,528 L382,532 L378.6,536 L375.1,540 L371.4,544 L367.6,548 L363.6,552 L359.4,556 L354.9,560 L350.2,564 L345.2,568 L339.8,572 L334,576 L327.8,580 L320.8,584 L312.8,588 L302.3,592 L800,592 L800,8Z" fill="#e9c32a"/>
<path d="M670.2,8 L669.4,12 L668.6,16 L667.8,20 L666.9,24 L666,28 L665.1,32 L664.3,36 L663.4,40 L662.5,44 L661.6,48 L660.7,52 L659.7,56 L658.8,60 L657.9,64 L656.9,68 L656,72 L655,76 L654.1,80 L653.1,84 L652.1,88 L651.2,92 L650.2,96 L649.2,100 L648.1,104 L647,108 L645.9,112 L644.7,116 L643.6,120 L642.5,124 L641.3,128 L640.1,132 L639,136 L637.8,140 L636.6,144 L635.4,148 L634.2,152 L633,156 L631.7,160 L630.5,164 L629.2,168 L628,172 L626.7,176 L625.4,180 L624.1,184 L622.8,188 L621.5,192 L620.2,196 L618.9,200 L617.8,204 L616.7,208 L615.6,212 L614.5,216 L613.4,220 L612.3,224 L611.1,228 L610,232 L608.8,236 L607.6,240 L606.4,244 L605.2,248 L603.9,252 L602.5,256 L601,260 L599.5,264 L598,268 L596.5,272 L595,276 L593.5,280 L591.9,284 L590.4,288 L588.8,292 L587.2,296 L585.5,300 L583.8,304 L582.1,308 L580.4,312 L578.7,316 L576.9,320 L575.1,324 L573.3,328 L571.5,332 L569.6,336 L567.7,340 L565.8,344 L563.9,348 L562,352 L560,356 L558,360 L556,364 L554,368 L551.9,372 L549.8,376 L547.7,380 L545,384 L542.4,388 L539.7,392 L536.9,396 L534,400 L531.1,404 L528.2,408 L525.2,412 L522.2,416 L519.2,420 L516.1,424 L513,428 L509.8,432 L506.6,436 L503.4,440 L500.6,444 L497.8,448 L494.9,452 L491.9,456 L489,460 L485.9,464 L482.8,468 L479.4,472 L475.6,476 L471.7,480 L467.8,484 L463.8,488 L459.8,492 L455.6,496 L451.4,500 L445.2,504 L439,508 L432.7,512 L426.2,516 L419.7,520 L413,524 L406.3,528 L401.1,532 L397.5,536 L393.8,540 L389.9,544 L385.9,548 L381.6,552 L377.2,556 L372.5,560 L367.6,564 L362.3,568 L356.8,572 L350.8,576 L344.3,580 L337.1,584 L328.8,588 L318.2,592 L800,592 L800,8Z" fill="#e5c32a"/>
<path d="M673.1,8 L672.4,12 L671.6,16 L670.7,20 L669.9,24 L669,28 L668.1,32 L667.3,36 L666.4,40 L665.5,44 L664.6,48 L663.7,52 L662.8,56 L661.8,60 L660.9,64 L660,68 L659,72 L658.1,76 L657.1,80 L656.2,84 L655.2,88 L654.2,92 L653.2,96 L652.2,100 L651.2,104 L650.1,108 L649,112 L647.8,116 L646.7,120 L645.6,124 L644.4,128 L643.3,132 L642.1,136 L640.9,140 L639.7,144 L638.5,148 L637.3,152 L636.1,156 L634.9,160 L633.7,164 L632.4,168 L631.2,172 L629.9,176 L628.6,180 L627.4,184 L626.1,188 L624.7,192 L623.4,196 L622.1,200 L621,204 L620,208 L618.9,212 L617.8,216 L616.6,220 L615.5,224 L614.4,228 L613.2,232 L612,236 L610.9,240 L609.7,244 L608.5,248 L607.1,252 L605.7,256 L604.2,260 L602.8,264 L601.3,268 L599.8,272 L598.3,276 L596.7,280 L595.2,284 L593.6,288 L592,292 L590.4,296 L588.8,300 L587.1,304 L585.4,308 L583.7,312 L582,316 L580.2,320 L578.4,324 L576.6,328 L574.8,332 L572.9,336 L571.1,340 L569.2,344 L567.3,348 L565.3,352 L563.4,356 L561.4,360 L559.4,364 L557.4,368 L555.3,372 L553.2,376 L551.1,380 L548.5,384 L545.9,388 L543.3,392 L540.5,396 L537.7,400 L534.9,404 L532,408 L529.1,412 L526.2,416 L523.2,420 L520.2,424 L517.1,428 L514,432 L510.9,436 L507.7,440 L504.9,444 L502.1,448 L499.2,452 L496.3,456 L493.3,460 L490.3,464 L487.2,468 L483.8,472 L480,476 L476.2,480 L472.3,484 L468.4,488 L464.4,492 L460.2,496 L456.1,500 L450.2,504 L444.2,508 L438.2,512 L432,516 L425.7,520 L419.4,524 L412.9,528 L407.8,532 L404.2,536 L400.4,540 L396.4,544 L392.3,548 L388,552 L383.5,556 L378.7,560 L373.7,564 L368.4,568 L362.8,572 L356.7,576 L350.1,580 L342.8,584 L334.5,588 L323.8,592 L800,592 L800,8Z" fill="#e1c22a"/>
<path d="M676.1,8 L675.4,12 L674.6,16 L673.7,20 L672.9,24 L672,28 L671.1,32 L670.2,36 L669.4,40 L668.5,44 L667.6,48 L666.7,52 L665.8,56 L664.8,60 L663.9,64 L663,68 L662.1,72 L661.1,76 L660.2,80 L659.2,84 L658.2,88 L657.3,92 L656.3,96 L655.3,100 L654.2,104 L653.1,108 L652,112 L650.9,116 L649.8,120 L648.7,124 L647.5,128 L646.4,132 L645.2,136 L644,140 L642.9,144 L641.7,148 L640.5,152 L639.3,156 L638.1,160 L636.8,164 L635.6,168 L634.4,172 L633.1,176 L631.8,180 L630.6,184 L629.3,188 L628,192 L626.7,196 L625.3,200 L624.3,204 L623.2,208 L622.1,212 L621,216 L619.9,220 L618.7,224 L617.6,228 L616.4,232 L615.3,236 L614.1,240 L612.9,244 L611.7,248 L610.3,252 L608.9,256 L607.5,260 L606,264 L604.5,268 L603,272 L601.5,276 L600,280 L598.4,284 L596.9,288 L595.3,292 L593.7,296 L592.1,300 L590.4,304 L588.7,308 L587,312 L585.3,316 L583.5,320 L581.7,324 L579.9,328 L578.1,332 L576.3,336 L574.4,340 L572.5,344 L570.6,348 L568.7,352 L566.8,356 L564.8,360 L562.8,364 L560.8,368 L558.7,372 L556.6,376 L554.5,380 L552,384 L549.4,388 L546.8,392 L544.1,396 L541.4,400 L538.6,404 L535.8,408 L533,412 L530.1,416 L527.2,420 L524.2,424 L521.2,428 L518.2,432 L515.1,436 L512,440 L509.2,444 L506.4,448 L503.5,452 L500.6,456 L497.7,460 L494.6,464 L491.6,468 L488.2,472 L484.4,476 L480.7,480 L476.8,484 L472.9,488 L468.9,492 L464.8,496 L460.7,500 L455.1,504 L449.3,508 L443.5,512 L437.6,516 L431.6,520 L425.5,524 L419.3,528 L414.3,532 L410.6,536 L406.7,540 L402.7,544 L398.5,548 L394.2,552 L389.6,556 L384.8,560 L379.7,564 L374.3,568 L368.6,572 L362.5,576 L355.8,580 L348.5,584 L340.1,588 L329.4,592 L800,592 L800,8Z" fill="#dcc22a"/>
<path d="M679.1,8 L678.4,12 L677.5,16 L676.7,20 L675.8,24 L675,28 L674.1,32 L673.2,36 L672.4,40 L671.5,44 L670.6,48 L669.7,52 L668.8,56 L667.9,60 L666.9,64 L666,68 L665.1,72 L664.1,76 L663.2,80 L662.2,84 L661.3,88 L660.3,92 L659.3,96 L658.3,100 L657.3,104 L656.2,108 L655.1,112 L654,116 L652.9,120 L651.8,124 L650.6,128 L649.5,132 L648.3,136 L647.2,140 L646,144 L644.8,148 L643.6,152 L642.4,156 L641.2,160 L640,164 L638.8,168 L637.6,172 L636.3,176 L635,180 L633.8,184 L632.5,188 L631.2,192 L629.9,196 L628.6,200 L627.5,204 L626.4,208 L625.3,212 L624.2,216 L623.1,220 L622,224 L620.8,228 L619.7,232 L618.5,236 L617.3,240 L616.1,244 L614.9,248 L613.6,252 L612.1,256 L610.7,260 L609.2,264 L607.7,268 L606.3,272 L604.8,276 L603.2,280 L601.7,284 L600.1,288 L598.6,292 L597,296 L595.4,300 L593.7,304 L592,308 L590.3,312 L588.6,316 L586.8,320 L585,324 L583.3,328 L581.5,332 L579.6,336 L577.8,340 L575.9,344 L574,348 L572.1,352 L570.1,356 L568.2,360 L566.2,364 L564.1,368 L562.1,372 L560,376 L557.9,380 L555.4,384 L552.9,388 L550.4,392 L547.7,396 L545.1,400 L542.3,404 L539.6,408 L536.8,412 L534,416 L531.1,420 L528.2,424 L525.3,428 L522.3,432 L519.3,436 L516.2,440 L513.4,444 L510.6,448 L507.8,452 L504.9,456 L501.9,460 L498.9,464 L495.9,468 L492.5,472 L488.8,476 L485,480 L481.2,484 L477.3,488 L473.4,492 L469.3,496 L465.2,500 L459.8,504 L454.4,508 L448.8,512 L443.2,516 L437.4,520 L431.5,524 L425.5,528 L420.7,532 L416.9,536 L412.9,540 L408.9,544 L404.6,548 L400.2,552 L395.5,556 L390.7,560 L385.5,564 L380.1,568 L374.3,572 L368.1,576 L361.4,580 L354,584 L345.6,588 L334.7,592 L800,592 L800,8Z" fill="#d7c22a"/>
<path d="M682.1,8 L681.3,12 L680.5,16 L679.7,20 L678.8,24 L678,28 L677.1,32 L676.3,36 L675.4,40 L674.5,44 L673.6,48 L672.7,52 L671.8,56 L670.9,60 L670,64 L669.1,68 L668.1,72 L667.2,76 L666.3,80 L665.3,84 L664.4,88 L663.4,92 L662.4,96 L661.4,100 L660.4,104 L659.3,108 L658.2,112 L657.1,116 L656,120 L654.9,124 L653.8,128 L652.6,132 L651.5,136 L650.3,140 L649.2,144 L648,148 L646.8,152 L645.6,156 L644.4,160 L643.2,164 L642,168 L640.8,172 L639.5,176 L638.3,180 L637,184 L635.7,188 L634.5,192 L633.2,196 L631.9,200 L630.8,204 L629.7,208 L628.6,212 L627.5,216 L626.4,220 L625.2,224 L624.1,228 L622.9,232 L621.7,236 L620.5,240 L619.3,244 L618.1,248 L616.8,252 L615.4,256 L613.9,260 L612.5,264 L611,268 L609.5,272 L608,276 L606.5,280 L605,284 L603.4,288 L601.9,292 L600.3,296 L598.7,300 L597,304 L595.3,308 L593.6,312 L591.9,316 L590.2,320 L588.4,324 L586.6,328 L584.8,332 L583,336 L581.1,340 L579.3,344 L577.4,348 L575.5,352 L573.5,356 L571.6,360 L569.6,364 L567.6,368 L565.5,372 L563.4,376 L561.4,380 L558.9,384 L556.5,388 L554,392 L551.4,396 L548.7,400 L546.1,404 L543.4,408 L540.6,412 L537.9,416 L535,420 L532.2,424 L529.3,428 L526.4,432 L523.4,436 L520.4,440 L517.6,444 L514.8,448 L512,452 L509.1,456 L506.2,460 L503.2,464 L500.1,468 L496.8,472 L493.1,476 L489.4,480 L485.6,484 L481.8,488 L477.8,492 L473.8,496 L469.8,500 L464.6,504 L459.4,508 L454,512 L448.6,516 L443,520 L437.4,524 L431.6,528 L426.8,532 L423,536 L419,540 L414.9,544 L410.6,548 L406.1,552 L401.4,556 L396.4,560 L391.2,564 L385.8,568 L379.9,572 L373.7,576 L366.9,580 L359.4,584 L351,588 L340.1,592 L800,592 L800,8Z" fill="#d2c22a"/>
<path d="M685.3,8 L684.6,12 L683.8,16 L682.9,20 L682.1,24 L681.2,28 L680.4,32 L679.5,36 L678.6,40 L677.8,44 L676.9,48 L676,52 L675.1,56 L674.2,60 L673.3,64 L672.4,68 L671.4,72 L670.5,76 L669.6,80 L668.6,84 L667.7,88 L666.7,92 L665.7,96 L664.7,100 L663.7,104 L662.6,108 L661.6,112 L660.5,116 L659.4,120 L658.3,124 L657.2,128 L656,132 L654.9,136 L653.7,140 L652.6,144 L651.4,148 L650.3,152 L649.1,156 L647.9,160 L646.7,164 L645.5,168 L644.2,172 L643,176 L641.8,180 L640.5,184 L639.3,188 L638,192 L636.7,196 L635.4,200 L634.3,204 L633.2,208 L632.1,212 L631,216 L629.9,220 L628.7,224 L627.6,228 L626.4,232 L625.2,236 L624,240 L622.8,244 L621.6,248 L620.3,252 L618.9,256 L617.4,260 L616,264 L614.5,268 L613.1,272 L611.6,276 L610,280 L608.5,284 L607,288 L605.4,292 L603.8,296 L602.2,300 L600.6,304 L598.9,308 L597.2,312 L595.5,316 L593.8,320 L592,324 L590.2,328 L588.4,332 L586.6,336 L584.8,340 L582.9,344 L581,348 L579.1,352 L577.2,356 L575.2,360 L573.2,364 L571.2,368 L569.2,372 L567.1,376 L565.1,380 L562.7,384 L560.3,388 L557.8,392 L555.3,396 L552.7,400 L550.1,404 L547.4,408 L544.7,412 L542,416 L539.3,420 L536.5,424 L533.6,428 L530.7,432 L527.8,436 L524.8,440 L522.1,444 L519.3,448 L516.5,452 L513.6,456 L510.7,460 L507.7,464 L504.7,468 L501.3,472 L497.7,476 L494,480 L490.3,484 L486.5,488 L482.6,492 L478.6,496 L474.6,500 L469.6,504 L464.6,508 L459.5,512 L454.3,516 L449,520 L443.6,524 L438,528 L433.3,532 L429.4,536 L425.4,540 L421.2,544 L416.8,548 L412.2,552 L407.5,556 L402.5,560 L397.2,564 L391.7,568 L385.8,572 L379.5,576 L372.7,580 L365.2,584 L356.6,588 L345.7,592 L800,592 L800,8Z" fill="#ccbc2a"/>
<path d="M688.5,8 L687.8,12 L687,16 L686.2,20 L685.3,24 L684.5,28 L683.6,32 L682.8,36 L681.9,40 L681,44 L680.2,48 L679.3,52 L678.4,56 L677.5,60 L676.6,64 L675.7,68 L674.7,72 L673.8,76 L672.9,80 L671.9,84 L671,88 L670,92 L669.1,96 L668.1,100 L667.1,104 L666,108 L664.9,112 L663.8,116 L662.7,120 L661.6,124 L660.5,128 L659.4,132 L658.3,136 L657.2,140 L656,144 L654.9,148 L653.7,152 L652.5,156 L651.3,160 L650.1,164 L648.9,168 L647.7,172 L646.5,176 L645.3,180 L644,184 L642.8,188 L641.5,192 L640.2,196 L638.9,200 L637.8,204 L636.7,208 L635.6,212 L634.5,216 L633.4,220 L632.2,224 L631.1,228 L629.9,232 L628.7,236 L627.5,240 L626.3,244 L625.1,248 L623.8,252 L622.4,256 L621,260 L619.5,264 L618.1,268 L616.6,272 L615.1,276 L613.6,280 L612.1,284 L610.5,288 L609,292 L607.4,296 L605.8,300 L604.1,304 L602.5,308 L600.8,312 L599.1,316 L597.3,320 L595.6,324 L593.8,328 L592,332 L590.2,336 L588.4,340 L586.6,344 L584.7,348 L582.8,352 L580.8,356 L578.9,360 L576.9,364 L574.9,368 L572.9,372 L570.8,376 L568.8,380 L566.4,384 L564,388 L561.6,392 L559.1,396 L556.6,400 L554,404 L551.4,408 L548.8,412 L546.1,416 L543.4,420 L540.7,424 L537.9,428 L535,432 L532.2,436 L529.2,440 L526.5,444 L523.8,448 L520.9,452 L518.1,456 L515.2,460 L512.2,464 L509.2,468 L505.9,472 L502.3,476 L498.6,480 L494.9,484 L491.1,488 L487.3,492 L483.4,496 L479.3,500 L474.6,504 L469.8,508 L464.9,512 L459.9,516 L454.8,520 L449.5,524 L444.2,528 L439.6,532 L435.6,536 L431.5,540 L427.3,544 L422.8,548 L418.2,552 L413.4,556 L408.4,560 L403.1,564 L397.5,568 L391.5,572 L385.2,576 L378.3,580 L370.7,584 L362.1,588 L351.1,592 L800,592 L800,8Z" fill="#c5b72a"/>
<path d="M691.8,8 L691,12 L690.2,16 L689.4,20 L688.6,24 L687.7,28 L686.9,32 L686,36 L685.2,40 L684.3,44 L683.4,48 L682.5,52 L681.6,56 L680.8,60 L679.9,64 L678.9,68 L678,72 L677.1,76 L676.2,80 L675.2,84 L674.3,88 L673.3,92 L672.4,96 L671.4,100 L670.4,104 L669.3,108 L668.3,112 L667.2,116 L666.1,120 L665,124 L663.9,128 L662.8,132 L661.7,136 L660.6,140 L659.4,144 L658.3,148 L657.1,152 L656,156 L654.8,160 L653.6,164 L652.4,168 L651.2,172 L650,176 L648.7,180 L647.5,184 L646.3,188 L645,192 L643.7,196 L642.4,200 L641.4,204 L640.3,208 L639.2,212 L638,216 L636.9,220 L635.8,224 L634.6,228 L633.4,232 L632.2,236 L631,240 L629.8,244 L628.6,248 L627.3,252 L625.9,256 L624.5,260 L623,264 L621.6,268 L620.1,272 L618.6,276 L617.1,280 L615.6,284 L614.1,288 L612.5,292 L610.9,296 L609.3,300 L607.7,304 L606,308 L604.4,312 L602.7,316 L600.9,320 L599.2,324 L597.4,328 L595.7,332 L593.9,336 L592,340 L590.2,344 L588.3,348 L586.4,352 L584.5,356 L582.6,360 L580.6,364 L578.6,368 L576.6,372 L574.5,376 L572.5,380 L570.2,384 L567.8,388 L565.5,392 L563,396 L560.5,400 L558,404 L555.4,408 L552.9,412 L550.2,416 L547.6,420 L544.8,424 L542.1,428 L539.3,432 L536.5,436 L533.6,440 L530.9,444 L528.1,448 L525.3,452 L522.5,456 L519.6,460 L516.6,464 L513.6,468 L510.3,472 L506.8,476 L503.2,480 L499.5,484 L495.7,488 L491.9,492 L488,496 L484.1,500 L479.5,504 L474.9,508 L470.1,512 L465.3,516 L460.4,520 L455.3,524 L450.2,528 L445.6,532 L441.6,536 L437.5,540 L433.2,544 L428.7,548 L424.1,552 L419.2,556 L414.1,560 L408.8,564 L403.1,568 L397.1,572 L390.7,576 L383.8,580 L376.2,584 L367.5,588 L356.5,592 L800,592 L800,8Z" fill="#bcb62a"/>
<path d="M695,8 L694.3,12 L693.5,16 L692.6,20 L691.8,24 L691,28 L690.1,32 L689.3,36 L688.4,40 L687.6,44 L686.7,48 L685.8,52 L684.9,56 L684,60 L683.1,64 L682.2,68 L681.3,72 L680.4,76 L679.5,80 L678.5,84 L677.6,88 L676.7,92 L675.7,96 L674.7,100 L673.7,104 L672.7,108 L671.6,112 L670.5,116 L669.5,120 L668.4,124 L667.3,128 L666.2,132 L665.1,136 L664,140 L662.8,144 L661.7,148 L660.5,152 L659.4,156 L658.2,160 L657,164 L655.9,168 L654.7,172 L653.5,176 L652.2,180 L651,184 L649.8,188 L648.5,192 L647.2,196 L646,200 L644.9,204 L643.8,208 L642.7,212 L641.6,216 L640.4,220 L639.3,224 L638.1,228 L636.9,232 L635.8,236 L634.6,240 L633.3,244 L632.1,248 L630.8,252 L629.4,256 L628,260 L626.5,264 L625.1,268 L623.6,272 L622.1,276 L620.6,280 L619.1,284 L617.6,288 L616.1,292 L614.5,296 L612.9,300 L611.3,304 L609.6,308 L607.9,312 L606.3,316 L604.5,320 L602.8,324 L601.1,328 L599.3,332 L597.5,336 L595.7,340 L593.8,344 L592,348 L590.1,352 L588.2,356 L586.2,360 L584.3,364 L582.3,368 L580.3,372 L578.2,376 L576.2,380 L573.9,384 L571.6,388 L569.3,392 L566.9,396 L564.4,400 L561.9,404 L559.4,408 L556.9,412 L554.3,416 L551.7,420 L549,424 L546.3,428 L543.5,432 L540.7,436 L537.9,440 L535.2,444 L532.5,448 L529.7,452 L526.8,456 L523.9,460 L521,464 L518,468 L514.7,472 L511.2,476 L507.6,480 L504,484 L500.3,488 L496.5,492 L492.6,496 L488.7,500 L484.3,504 L479.9,508 L475.3,512 L470.6,516 L465.9,520 L461,524 L456,528 L451.5,532 L447.5,536 L443.3,540 L438.9,544 L434.4,548 L429.7,552 L424.8,556 L419.7,560 L414.3,564 L408.6,568 L402.6,572 L396.1,576 L389.2,580 L381.5,584 L372.8,588 L361.7,592 L800,592 L800,8Z" fill="#b4b52a"/>
<path d="M698.2,8 L697.5,12 L696.7,16 L695.9,20 L695,24 L694.2,28 L693.4,32 L692.5,36 L691.7,40 L690.8,44 L690,48 L689.1,52 L688.2,56 L687.3,60 L686.4,64 L685.5,68 L684.6,72 L683.7,76 L682.8,80 L681.8,84 L680.9,88 L680,92 L679,96 L678.1,100 L677.1,104 L676,108 L675,112 L673.9,116 L672.8,120 L671.8,124 L670.7,128 L669.6,132 L668.5,136 L667.4,140 L666.2,144 L665.1,148 L664,152 L662.8,156 L661.7,160 L660.5,164 L659.3,168 L658.1,172 L656.9,176 L655.7,180 L654.5,184 L653.3,188 L652,192 L650.8,196 L649.5,200 L648.4,204 L647.3,208 L646.2,212 L645.1,216 L643.9,220 L642.8,224 L641.6,228 L640.4,232 L639.3,236 L638.1,240 L636.8,244 L635.6,248 L634.3,252 L632.9,256 L631.5,260 L630,264 L628.6,268 L627.1,272 L625.7,276 L624.2,280 L622.7,284 L621.1,288 L619.6,292 L618,296 L616.5,300 L614.8,304 L613.2,308 L611.5,312 L609.8,316 L608.1,320 L606.4,324 L604.7,328 L602.9,332 L601.1,336 L599.3,340 L597.5,344 L595.6,348 L593.7,352 L591.8,356 L589.9,360 L588,364 L586,368 L584,372 L581.9,376 L579.9,380 L577.6,384 L575.4,388 L573.1,392 L570.7,396 L568.3,400 L565.9,404 L563.4,408 L560.9,412 L558.3,416 L555.7,420 L553.1,424 L550.4,428 L547.7,432 L545,436 L542.2,440 L539.5,444 L536.8,448 L534,452 L531.1,456 L528.3,460 L525.3,464 L522.3,468 L519.1,472 L515.6,476 L512.1,480 L508.5,484 L504.8,488 L501,492 L497.2,496 L493.3,500 L489.1,504 L484.8,508 L480.3,512 L475.8,516 L471.2,520 L466.5,524 L461.6,528 L457.2,532 L453.1,536 L448.9,540 L444.5,544 L440,548 L435.2,552 L430.3,556 L425.1,560 L419.7,564 L414,568 L407.9,572 L401.4,576 L394.4,580 L386.7,584 L378,588 L366.9,592 L800,592 L800,8Z" fill="#adb22a"/>
<path d="M701.4,8 L700.7,12 L699.9,16 L699.1,20 L698.3,24 L697.5,28 L696.6,32 L695.8,36 L694.9,40 L694.1,44 L693.2,48 L692.4,52 L691.5,56 L690.6,60 L689.7,64 L688.8,68 L687.9,72 L687,76 L686.1,80 L685.2,84 L684.2,88 L683.3,92 L682.3,96 L681.4,100 L680.4,104 L679.3,108 L678.3,112 L677.3,116 L676.2,120 L675.1,124 L674.1,128 L673,132 L671.9,136 L670.8,140 L669.7,144 L668.5,148 L667.4,152 L666.3,156 L665.1,160 L664,164 L662.8,168 L661.6,172 L660.4,176 L659.2,180 L658,184 L656.8,188 L655.5,192 L654.3,196 L653,200 L651.9,204 L650.8,208 L649.7,212 L648.6,216 L647.4,220 L646.3,224 L645.1,228 L644,232 L642.8,236 L641.6,240 L640.3,244 L639.1,248 L637.8,252 L636.4,256 L635,260 L633.6,264 L632.1,268 L630.7,272 L629.2,276 L627.7,280 L626.2,284 L624.7,288 L623.2,292 L621.6,296 L620,300 L618.4,304 L616.8,308 L615.1,312 L613.4,316 L611.7,320 L610,324 L608.3,328 L606.5,332 L604.7,336 L602.9,340 L601.1,344 L599.3,348 L597.4,352 L595.5,356 L593.6,360 L591.6,364 L589.7,368 L587.7,372 L585.6,376 L583.6,380 L581.4,384 L579.2,388 L576.9,392 L574.5,396 L572.2,400 L569.8,404 L567.3,408 L564.8,412 L562.3,416 L559.8,420 L557.2,424 L554.5,428 L551.9,432 L549.2,436 L546.4,440 L543.7,444 L541,448 L538.2,452 L535.4,456 L532.5,460 L529.6,464 L526.6,468 L523.4,472 L520,476 L516.5,480 L512.9,484 L509.2,488 L505.5,492 L501.7,496 L497.9,500 L493.8,504 L489.6,508 L485.3,512 L480.9,516 L476.4,520 L471.8,524 L467.1,528 L462.7,532 L458.6,536 L454.4,540 L449.9,544 L445.4,548 L440.6,552 L435.6,556 L430.4,560 L425,564 L419.2,568 L413.1,572 L406.6,576 L399.5,580 L391.8,584 L383,588 L371.9,592 L800,592 L800,8Z" fill="#a7ad2b"/>
<path d="M705.2,8 L704.5,12 L703.7,16 L702.9,20 L702.1,24 L701.2,28 L700.4,32 L699.6,36 L698.7,40 L697.9,44 L697,48 L696.2,52 L695.3,56 L694.4,60 L693.5,64 L692.6,68 L691.7,72 L690.8,76 L689.9,80 L689,84 L688.1,88 L687.1,92 L686.2,96 L685.2,100 L684.3,104 L683.2,108 L682.2,112 L681.2,116 L680.1,120 L679.1,124 L678,128 L676.9,132 L675.8,136 L674.7,140 L673.6,144 L672.5,148 L671.4,152 L670.3,156 L669.1,160 L668,164 L666.8,168 L665.6,172 L664.5,176 L663.3,180 L662.1,184 L660.8,188 L659.6,192 L658.4,196 L657.1,200 L656,204 L654.9,208 L653.8,212 L652.7,216 L651.5,220 L650.4,224 L649.2,228 L648,232 L646.8,236 L645.6,240 L644.4,244 L643.2,248 L641.9,252 L640.5,256 L639.1,260 L637.6,264 L636.2,268 L634.8,272 L633.3,276 L631.8,280 L630.3,284 L628.8,288 L627.3,292 L625.7,296 L624.2,300 L622.6,304 L620.9,308 L619.3,312 L617.6,316 L615.9,320 L614.2,324 L612.5,328 L610.7,332 L609,336 L607.2,340 L605.3,344 L603.5,348 L601.6,352 L599.8,356 L597.8,360 L595.9,364 L593.9,368 L592,372 L589.9,376 L587.9,380 L585.7,384 L583.5,388 L581.3,392 L579,396 L576.6,400 L574.3,404 L571.9,408 L569.4,412 L566.9,416 L564.4,420 L561.9,424 L559.3,428 L556.6,432 L554,436 L551.2,440 L548.6,444 L545.9,448 L543.1,452 L540.3,456 L537.5,460 L534.5,464 L531.6,468 L528.4,472 L525,476 L521.5,480 L518,484 L514.4,488 L510.7,492 L506.9,496 L503.1,500 L499.1,504 L495.1,508 L490.9,512 L486.7,516 L482.3,520 L477.9,524 L473.3,528 L469,532 L464.8,536 L460.5,540 L456.1,544 L451.5,548 L446.7,552 L441.7,556 L436.4,560 L430.9,564 L425.1,568 L419,572 L412.4,576 L405.4,580 L397.6,584 L388.8,588 L377.6,592 L800,592 L800,8Z" fill="#a1a92c"/>
<path d="M709,8 L708.3,12 L707.5,16 L706.7,20 L705.9,24 L705,28 L704.2,32 L703.4,36 L702.6,40 L701.7,44 L700.9,48 L700,52 L699.1,56 L698.3,60 L697.4,64 L696.5,68 L695.6,72 L694.7,76 L693.8,80 L692.9,84 L692,88 L691,92 L690.1,96 L689.2,100 L688.2,104 L687.2,108 L686.1,112 L685.1,116 L684.1,120 L683,124 L682,128 L680.9,132 L679.8,136 L678.7,140 L677.6,144 L676.5,148 L675.4,152 L674.3,156 L673.2,160 L672,164 L670.9,168 L669.7,172 L668.5,176 L667.4,180 L666.2,184 L665,188 L663.7,192 L662.5,196 L661.3,200 L660.2,204 L659.1,208 L657.9,212 L656.8,216 L655.7,220 L654.5,224 L653.3,228 L652.1,232 L650.9,236 L649.7,240 L648.5,244 L647.3,248 L646,252 L644.6,256 L643.2,260 L641.8,264 L640.3,268 L638.9,272 L637.4,276 L636,280 L634.5,284 L633,288 L631.5,292 L629.9,296 L628.4,300 L626.7,304 L625.1,308 L623.5,312 L621.8,316 L620.1,320 L618.4,324 L616.7,328 L615,332 L613.2,336 L611.4,340 L609.6,344 L607.8,348 L605.9,352 L604.1,356 L602.2,360 L600.2,364 L598.3,368 L596.3,372 L594.3,376 L592.2,380 L590.1,384 L587.9,388 L585.7,392 L583.5,396 L581.2,400 L578.8,404 L576.4,408 L574,412 L571.6,416 L569.1,420 L566.6,424 L564,428 L561.4,432 L558.8,436 L556.1,440 L553.4,444 L550.7,448 L548,452 L545.2,456 L542.4,460 L539.5,464 L536.5,468 L533.4,472 L530,476 L526.5,480 L523.1,484 L519.5,488 L515.8,492 L512.1,496 L508.3,500 L504.5,504 L500.6,508 L496.5,512 L492.4,516 L488.2,520 L483.8,524 L479.4,528 L475,532 L470.9,536 L466.6,540 L462.1,544 L457.4,548 L452.6,552 L447.6,556 L442.3,560 L436.8,564 L430.9,568 L424.8,572 L418.2,576 L411.1,580 L403.3,584 L394.5,588 L383.2,592 L800,592 L800,8Z" fill="#97a42c"/>
<path d="M712.8,8 L712,12 L711.3,16 L710.5,20 L709.7,24 L708.9,28 L708,32 L707.2,36 L706.4,40 L705.5,44 L704.7,48 L703.8,52 L703,56 L702.1,60 L701.2,64 L700.4,68 L699.5,72 L698.6,76 L697.7,80 L696.8,84 L695.9,88 L694.9,92 L694,96 L693.1,100 L692.1,104 L691.1,108 L690.1,112 L689,116 L688,120 L687,124 L685.9,128 L684.9,132 L683.8,136 L682.7,140 L681.6,144 L680.6,148 L679.4,152 L678.3,156 L677.2,160 L676.1,164 L674.9,168 L673.8,172 L672.6,176 L671.4,180 L670.3,184 L669.1,188 L667.9,192 L666.6,196 L665.4,200 L664.3,204 L663.2,208 L662.1,212 L660.9,216 L659.8,220 L658.6,224 L657.4,228 L656.3,232 L655.1,236 L653.8,240 L652.6,244 L651.4,248 L650.1,252 L648.7,256 L647.3,260 L645.9,264 L644.5,268 L643,272 L641.6,276 L640.1,280 L638.6,284 L637.1,288 L635.6,292 L634.1,296 L632.5,300 L630.9,304 L629.3,308 L627.7,312 L626,316 L624.4,320 L622.7,324 L621,328 L619.2,332 L617.5,336 L615.7,340 L613.9,344 L612.1,348 L610.2,352 L608.4,356 L606.5,360 L604.5,364 L602.6,368 L600.6,372 L598.6,376 L596.6,380 L594.5,384 L592.3,388 L590.2,392 L587.9,396 L585.6,400 L583.3,404 L581,408 L578.6,412 L576.2,416 L573.7,420 L571.3,424 L568.7,428 L566.2,432 L563.5,436 L560.9,440 L558.2,444 L555.6,448 L552.8,452 L550.1,456 L547.2,460 L544.3,464 L541.4,468 L538.3,472 L534.9,476 L531.5,480 L528.1,484 L524.5,488 L521,492 L517.3,496 L513.5,500 L509.8,504 L505.9,508 L502,512 L498,516 L493.8,520 L489.6,524 L485.2,528 L481,532 L476.8,536 L472.4,540 L467.9,544 L463.2,548 L458.4,552 L453.3,556 L448,560 L442.5,564 L436.6,568 L430.4,572 L423.8,576 L416.7,580 L408.9,584 L400,588 L388.8,592 L800,592 L800,8Z" fill="#8b9e2c"/>
<path d="M716.6,8 L715.8,12 L715.1,16 L714.3,20 L713.5,24 L712.7,28 L711.8,32 L711,36 L710.2,40 L709.4,44 L708.5,48 L707.7,52 L706.8,56 L706,60 L705.1,64 L704.2,68 L703.3,72 L702.5,76 L701.6,80 L700.7,84 L699.7,88 L698.8,92 L697.9,96 L697,100 L696,104 L695,108 L694,112 L693,116 L692,120 L690.9,124 L689.9,128 L688.8,132 L687.8,136 L686.7,140 L685.7,144 L684.6,148 L683.5,152 L682.4,156 L681.3,160 L680.1,164 L679,168 L677.9,172 L676.7,176 L675.5,180 L674.4,184 L673.2,188 L672,192 L670.8,196 L669.6,200 L668.4,204 L667.3,208 L666.2,212 L665.1,216 L663.9,220 L662.7,224 L661.6,228 L660.4,232 L659.2,236 L658,240 L656.7,244 L655.5,248 L654.2,252 L652.8,256 L651.4,260 L650,264 L648.6,268 L647.2,272 L645.7,276 L644.3,280 L642.8,284 L641.3,288 L639.8,292 L638.3,296 L636.7,300 L635.1,304 L633.5,308 L631.9,312 L630.3,316 L628.6,320 L626.9,324 L625.2,328 L623.5,332 L621.7,336 L620,340 L618.2,344 L616.4,348 L614.5,352 L612.7,356 L610.8,360 L608.9,364 L606.9,368 L605,372 L603,376 L600.9,380 L598.9,384 L596.7,388 L594.6,392 L592.4,396 L590.1,400 L587.8,404 L585.5,408 L583.2,412 L580.8,416 L578.4,420 L575.9,424 L573.4,428 L570.8,432 L568.3,436 L565.6,440 L563,444 L560.3,448 L557.6,452 L554.9,456 L552,460 L549.2,464 L546.2,468 L543.1,472 L539.8,476 L536.5,480 L533.1,484 L529.6,488 L526,492 L522.4,496 L518.7,500 L515,504 L511.2,508 L507.4,512 L503.4,516 L499.4,520 L495.2,524 L490.9,528 L486.7,532 L482.5,536 L478.1,540 L473.6,544 L468.9,548 L464,552 L458.9,556 L453.6,560 L448,564 L442.2,568 L436,572 L429.3,576 L422.2,580 L414.3,584 L405.5,588 L394.2,592 L800,592 L800,8Z" fill="#7e982c"/>
<path d="M720.5,8 L719.8,12 L719,16 L718.2,20 L717.5,24 L716.7,28 L715.8,32 L715,36 L714.2,40 L713.4,44 L712.5,48 L711.7,52 L710.9,56 L710,60 L709.1,64 L708.3,68 L707.4,72 L706.5,76 L705.6,80 L704.7,84 L703.8,88 L702.9,92 L702,96 L701,100 L700.1,104 L699.1,108 L698.1,112 L697.1,116 L696.1,120 L695.1,124 L694.1,128 L693,132 L692,136 L690.9,140 L689.9,144 L688.8,148 L687.7,152 L686.6,156 L685.5,160 L684.4,164 L683.3,168 L682.1,172 L681,176 L679.8,180 L678.7,184 L677.5,188 L676.3,192 L675.1,196 L673.9,200 L672.8,204 L671.7,208 L670.5,212 L669.4,216 L668.2,220 L667.1,224 L665.9,228 L664.7,232 L663.5,236 L662.3,240 L661,244 L659.8,248 L658.5,252 L657.1,256 L655.7,260 L654.3,264 L652.9,268 L651.5,272 L650.1,276 L648.6,280 L647.1,284 L645.7,288 L644.2,292 L642.6,296 L641.1,300 L639.5,304 L637.9,308 L636.3,312 L634.7,316 L633,320 L631.3,324 L629.6,328 L627.9,332 L626.2,336 L624.4,340 L622.6,344 L620.8,348 L619,352 L617.2,356 L615.3,360 L613.4,364 L611.5,368 L609.5,372 L607.5,376 L605.5,380 L603.4,384 L601.3,388 L599.2,392 L597,396 L594.8,400 L592.5,404 L590.2,408 L587.9,412 L585.6,416 L583.2,420 L580.7,424 L578.2,428 L575.7,432 L573.2,436 L570.6,440 L568,444 L565.3,448 L562.6,452 L559.8,456 L557,460 L554.2,464 L551.3,468 L548.2,472 L544.9,476 L541.6,480 L538.2,484 L534.8,488 L531.3,492 L527.7,496 L524,500 L520.4,504 L516.7,508 L512.9,512 L509,516 L505.1,520 L501,524 L496.8,528 L492.5,532 L488.3,536 L483.9,540 L479.4,544 L474.7,548 L469.8,552 L464.7,556 L459.3,560 L453.7,564 L447.9,568 L441.6,572 L435,576 L427.8,580 L419.9,584 L411.1,588 L399.8,592 L800,592 L800,8Z" fill="#72922c"/>
<path d="M724.7,8 L724,12 L723.2,16 L722.4,20 L721.7,24 L720.9,28 L720.1,32 L719.3,36 L718.4,40 L717.6,44 L716.8,48 L716,52 L715.1,56 L714.3,60 L713.4,64 L712.5,68 L711.7,72 L710.8,76 L709.9,80 L709,84 L708.1,88 L707.2,92 L706.3,96 L705.4,100 L704.4,104 L703.4,108 L702.5,112 L701.5,116 L700.5,120 L699.5,124 L698.4,128 L697.4,132 L696.4,136 L695.3,140 L694.3,144 L693.2,148 L692.1,152 L691.1,156 L690,160 L688.9,164 L687.8,168 L686.6,172 L685.5,176 L684.4,180 L683.2,184 L682,188 L680.9,192 L679.7,196 L678.5,200 L677.4,204 L676.2,208 L675.1,212 L674,216 L672.8,220 L671.6,224 L670.4,228 L669.2,232 L668,236 L666.8,240 L665.6,244 L664.3,248 L663,252 L661.7,256 L660.3,260 L658.9,264 L657.5,268 L656.1,272 L654.6,276 L653.2,280 L651.7,284 L650.3,288 L648.8,292 L647.2,296 L645.7,300 L644.1,304 L642.6,308 L640.9,312 L639.3,316 L637.7,320 L636,324 L634.3,328 L632.6,332 L630.9,336 L629.1,340 L627.4,344 L625.6,348 L623.8,352 L621.9,356 L620,360 L618.1,364 L616.2,368 L614.3,372 L612.3,376 L610.3,380 L608.3,384 L606.2,388 L604.1,392 L601.9,396 L599.7,400 L597.5,404 L595.2,408 L592.9,412 L590.6,416 L588.2,420 L585.8,424 L583.3,428 L580.8,432 L578.3,436 L575.7,440 L573.1,444 L570.5,448 L567.8,452 L565,456 L562.3,460 L559.4,464 L556.5,468 L553.5,472 L550.2,476 L547,480 L543.6,484 L540.2,488 L536.7,492 L533.2,496 L529.6,500 L526,504 L522.4,508 L518.7,512 L514.8,516 L510.9,520 L506.9,524 L502.7,528 L498.5,532 L494.3,536 L489.9,540 L485.3,544 L480.6,548 L475.7,552 L470.6,556 L465.2,560 L459.6,564 L453.7,568 L447.5,572 L440.8,576 L433.6,580 L425.8,584 L416.8,588 L405.5,592 L800,592 L800,8Z" fill="#658b2c"/>
<path d="M728.9,8 L728.2,12 L727.4,16 L726.6,20 L725.9,24 L725.1,28 L724.3,32 L723.5,36 L722.7,40 L721.8,44 L721,48 L720.2,52 L719.4,56 L718.5,60 L717.7,64 L716.8,68 L715.9,72 L715.1,76 L714.2,80 L713.3,84 L712.4,88 L711.5,92 L710.6,96 L709.7,100 L708.7,104 L707.8,108 L706.8,112 L705.8,116 L704.8,120 L703.8,124 L702.8,128 L701.8,132 L700.8,136 L699.7,140 L698.7,144 L697.7,148 L696.6,152 L695.5,156 L694.4,160 L693.3,164 L692.2,168 L691.1,172 L690,176 L688.9,180 L687.7,184 L686.6,188 L685.4,192 L684.2,196 L683,200 L681.9,204 L680.8,208 L679.7,212 L678.5,216 L677.3,220 L676.2,224 L675,228 L673.8,232 L672.6,236 L671.3,240 L670.1,244 L668.8,248 L667.5,252 L666.2,256 L664.8,260 L663.5,264 L662.1,268 L660.7,272 L659.2,276 L657.8,280 L656.3,284 L654.9,288 L653.4,292 L651.9,296 L650.3,300 L648.8,304 L647.2,308 L645.6,312 L644,316 L642.3,320 L640.7,324 L639,328 L637.3,332 L635.6,336 L633.9,340 L632.1,344 L630.3,348 L628.5,352 L626.7,356 L624.8,360 L622.9,364 L621,368 L619.1,372 L617.1,376 L615.1,380 L613.1,384 L611,388 L608.9,392 L606.8,396 L604.6,400 L602.4,404 L600.1,408 L597.9,412 L595.5,416 L593.2,420 L590.8,424 L588.4,428 L585.9,432 L583.4,436 L580.8,440 L578.3,444 L575.6,448 L572.9,452 L570.2,456 L567.4,460 L564.6,464 L561.7,468 L558.7,472 L555.5,476 L552.3,480 L549,484 L545.6,488 L542.2,492 L538.7,496 L535.1,500 L531.6,504 L528,508 L524.3,512 L520.5,516 L516.7,520 L512.7,524 L508.6,528 L504.4,532 L500.1,536 L495.7,540 L491.1,544 L486.4,548 L481.5,552 L476.4,556 L471,560 L465.4,564 L459.5,568 L453.2,572 L446.5,576 L439.3,580 L431.5,584 L422.5,588 L411.2,592 L800,592 L800,8Z" fill="#58852c"/>
<path d="M733,8 L732.3,12 L731.6,16 L730.8,20 L730,24 L729.2,28 L728.4,32 L727.6,36 L726.8,40 L726,44 L725.2,48 L724.4,52 L723.5,56 L722.7,60 L721.9,64 L721,68 L720.2,72 L719.3,76 L718.4,80 L717.5,84 L716.6,88 L715.7,92 L714.8,96 L713.9,100 L713,104 L712,108 L711.1,112 L710.1,116 L709.1,120 L708.1,124 L707.1,128 L706.1,132 L705.1,136 L704.1,140 L703.1,144 L702,148 L701,152 L699.9,156 L698.8,160 L697.8,164 L696.7,168 L695.6,172 L694.5,176 L693.3,180 L692.2,184 L691.1,188 L689.9,192 L688.7,196 L687.6,200 L686.4,204 L685.3,208 L684.2,212 L683,216 L681.8,220 L680.7,224 L679.5,228 L678.3,232 L677,236 L675.8,240 L674.6,244 L673.3,248 L672,252 L670.7,256 L669.3,260 L667.9,264 L666.6,268 L665.2,272 L663.7,276 L662.3,280 L660.9,284 L659.4,288 L657.9,292 L656.4,296 L654.9,300 L653.3,304 L651.8,308 L650.2,312 L648.6,316 L646.9,320 L645.3,324 L643.6,328 L641.9,332 L640.2,336 L638.5,340 L636.7,344 L635,348 L633.2,352 L631.3,356 L629.5,360 L627.6,364 L625.7,368 L623.8,372 L621.8,376 L619.9,380 L617.8,384 L615.8,388 L613.7,392 L611.6,396 L609.4,400 L607.2,404 L605,408 L602.7,412 L600.4,416 L598.1,420 L595.7,424 L593.3,428 L590.9,432 L588.4,436 L585.8,440 L583.3,444 L580.7,448 L578,452 L575.3,456 L572.5,460 L569.7,464 L566.8,468 L563.8,472 L560.7,476 L557.5,480 L554.2,484 L550.9,488 L547.5,492 L544,496 L540.5,500 L537,504 L533.5,508 L529.8,512 L526.1,516 L522.2,520 L518.3,524 L514.2,528 L510,532 L505.8,536 L501.3,540 L496.8,544 L492,548 L487.1,552 L482,556 L476.6,560 L471,564 L465,568 L458.8,572 L452.1,576 L444.9,580 L437,584 L428.1,588 L416.7,592 L800,592 L800,8Z" fill="#4d7d2c"/>
<path d="M736.6,8 L735.9,12 L735.2,16 L734.4,20 L733.6,24 L732.8,28 L732.1,32 L731.3,36 L730.5,40 L729.7,44 L728.9,48 L728,52 L727.2,56 L726.4,60 L725.5,64 L724.7,68 L723.8,72 L723,76 L722.1,80 L721.2,84 L720.3,88 L719.5,92 L718.6,96 L717.6,100 L716.7,104 L715.8,108 L714.8,112 L713.9,116 L712.9,120 L711.9,124 L710.9,128 L709.9,132 L708.9,136 L707.9,140 L706.9,144 L705.9,148 L704.8,152 L703.8,156 L702.7,160 L701.6,164 L700.5,168 L699.4,172 L698.3,176 L697.2,180 L696.1,184 L695,188 L693.8,192 L692.7,196 L691.5,200 L690.4,204 L689.2,208 L688.1,212 L686.9,216 L685.8,220 L684.6,224 L683.4,228 L682.2,232 L681,236 L679.7,240 L678.5,244 L677.2,248 L675.9,252 L674.6,256 L673.2,260 L671.9,264 L670.5,268 L669.1,272 L667.7,276 L666.3,280 L664.8,284 L663.4,288 L661.9,292 L660.4,296 L658.9,300 L657.3,304 L655.8,308 L654.2,312 L652.6,316 L651,320 L649.3,324 L647.7,328 L646,332 L644.3,336 L642.6,340 L640.8,344 L639,348 L637.3,352 L635.4,356 L633.6,360 L631.7,364 L629.8,368 L627.9,372 L626,376 L624,380 L622,384 L620,388 L617.9,392 L615.8,396 L613.6,400 L611.5,404 L609.2,408 L607,412 L604.7,416 L602.4,420 L600,424 L597.6,428 L595.2,432 L592.7,436 L590.2,440 L587.6,444 L585,448 L582.4,452 L579.7,456 L576.9,460 L574.1,464 L571.3,468 L568.3,472 L565.2,476 L562,480 L558.8,484 L555.5,488 L552.2,492 L548.7,496 L545.2,500 L541.8,504 L538.2,508 L534.6,512 L530.9,516 L527,520 L523.1,524 L519,528 L514.9,532 L510.6,536 L506.2,540 L501.6,544 L496.9,548 L491.9,552 L486.8,556 L481.4,560 L475.8,564 L469.8,568 L463.6,572 L456.9,576 L449.7,580 L441.8,584 L432.8,588 L421.5,592 L800,592 L800,8Z" fill="#41752c"/>
<path d="M740.3,8 L739.5,12 L738.8,16 L738,20 L737.2,24 L736.5,28 L735.7,32 L734.9,36 L734.1,40 L733.3,44 L732.5,48 L731.7,52 L730.9,56 L730,60 L729.2,64 L728.4,68 L727.5,72 L726.7,76 L725.8,80 L724.9,84 L724,88 L723.2,92 L722.3,96 L721.4,100 L720.4,104 L719.5,108 L718.6,112 L717.6,116 L716.7,120 L715.7,124 L714.7,128 L713.7,132 L712.7,136 L711.7,140 L710.7,144 L709.7,148 L708.6,152 L707.6,156 L706.5,160 L705.5,164 L704.4,168 L703.3,172 L702.2,176 L701.1,180 L700,184 L698.9,188 L697.8,192 L696.6,196 L695.4,200 L694.3,204 L693.2,208 L692,212 L690.9,216 L689.7,220 L688.5,224 L687.3,228 L686.1,232 L684.9,236 L683.6,240 L682.4,244 L681.1,248 L679.8,252 L678.5,256 L677.2,260 L675.8,264 L674.4,268 L673,272 L671.6,276 L670.2,280 L668.8,284 L667.3,288 L665.8,292 L664.4,296 L662.8,300 L661.3,304 L659.8,308 L658.2,312 L656.6,316 L655,320 L653.4,324 L651.7,328 L650,332 L648.3,336 L646.6,340 L644.9,344 L643.1,348 L641.3,352 L639.5,356 L637.7,360 L635.8,364 L634,368 L632,372 L630.1,376 L628.1,380 L626.1,384 L624.1,388 L622.1,392 L620,396 L617.8,400 L615.7,404 L613.5,408 L611.2,412 L609,416 L606.7,420 L604.3,424 L601.9,428 L599.5,432 L597.1,436 L594.5,440 L592,444 L589.4,448 L586.8,452 L584.1,456 L581.3,460 L578.5,464 L575.7,468 L572.7,472 L569.7,476 L566.5,480 L563.4,484 L560.1,488 L556.8,492 L553.4,496 L549.9,500 L546.5,504 L542.9,508 L539.3,512 L535.6,516 L531.8,520 L527.9,524 L523.8,528 L519.7,532 L515.4,536 L511,540 L506.4,544 L501.6,548 L496.7,552 L491.5,556 L486.2,560 L480.5,564 L474.6,568 L468.3,572 L461.6,576 L454.4,580 L446.5,584 L437.6,588 L426.3,592 L800,592 L800,8Z" fill="#366d2c"/>
<path d="M743.9,8 L743.1,12 L742.4,16 L741.6,20 L740.9,24 L740.1,28 L739.3,32 L738.5,36 L737.8,40 L737,44 L736.2,48 L735.4,52 L734.5,56 L733.7,60 L732.9,64 L732,68 L731.2,72 L730.4,76 L729.5,80 L728.6,84 L727.8,88 L726.9,92 L726,96 L725.1,100 L724.2,104 L723.2,108 L722.3,112 L721.4,116 L720.4,120 L719.5,124 L718.5,128 L717.5,132 L716.5,136 L715.5,140 L714.5,144 L713.5,148 L712.5,152 L711.4,156 L710.4,160 L709.3,164 L708.3,168 L707.2,172 L706.1,176 L705,180 L703.9,184 L702.8,188 L701.7,192 L700.5,196 L699.4,200 L698.3,204 L697.1,208 L696,212 L694.8,216 L693.6,220 L692.4,224 L691.2,228 L690,232 L688.8,236 L687.6,240 L686.3,244 L685,248 L683.7,252 L682.4,256 L681.1,260 L679.7,264 L678.4,268 L677,272 L675.6,276 L674.2,280 L672.7,284 L671.3,288 L669.8,292 L668.3,296 L666.8,300 L665.3,304 L663.8,308 L662.2,312 L660.6,316 L659,320 L657.4,324 L655.7,328 L654.1,332 L652.4,336 L650.7,340 L649,344 L647.2,348 L645.4,352 L643.6,356 L641.8,360 L639.9,364 L638.1,368 L636.2,372 L634.2,376 L632.3,380 L630.3,384 L628.3,388 L626.2,392 L624.1,396 L622,400 L619.9,404 L617.7,408 L615.5,412 L613.2,416 L610.9,420 L608.6,424 L606.2,428 L603.8,432 L601.4,436 L598.9,440 L596.3,444 L593.7,448 L591.1,452 L588.4,456 L585.7,460 L582.9,464 L580.1,468 L577.2,472 L574.1,476 L571,480 L567.9,484 L564.7,488 L561.4,492 L558,496 L554.6,500 L551.1,504 L547.6,508 L544,512 L540.3,516 L536.5,520 L532.6,524 L528.6,528 L524.4,532 L520.1,536 L515.7,540 L511.1,544 L506.3,548 L501.4,552 L496.3,556 L490.9,560 L485.2,564 L479.3,568 L473,572 L466.3,576 L459.1,580 L451.2,584 L442.3,588 L431,592 L800,592 L800,8Z" fill="#2a632a"/>
<path d="M747.9,8 L747.2,12 L746.4,16 L745.7,20 L744.9,24 L744.1,28 L743.4,32 L742.6,36 L741.8,40 L741,44 L740.2,48 L739.4,52 L738.6,56 L737.8,60 L737,64 L736.1,68 L735.3,72 L734.5,76 L733.6,80 L732.7,84 L731.9,88 L731,92 L730.1,96 L729.2,100 L728.3,104 L727.4,108 L726.5,112 L725.5,116 L724.6,120 L723.6,124 L722.7,128 L721.7,132 L720.7,136 L719.8,140 L718.8,144 L717.8,148 L716.7,152 L715.7,156 L714.7,160 L713.6,164 L712.6,168 L711.5,172 L710.4,176 L709.4,180 L708.3,184 L707.2,188 L706,192 L704.9,196 L703.8,200 L702.6,204 L701.5,208 L700.3,212 L699.2,216 L698,220 L696.8,224 L695.6,228 L694.4,232 L693.2,236 L691.9,240 L690.7,244 L689.4,248 L688.1,252 L686.8,256 L685.4,260 L684.1,264 L682.7,268 L681.4,272 L680,276 L678.6,280 L677.1,284 L675.7,288 L674.2,292 L672.7,296 L671.3,300 L669.7,304 L668.2,308 L666.6,312 L665.1,316 L663.5,320 L661.9,324 L660.2,328 L658.6,332 L656.9,336 L655.2,340 L653.5,344 L651.7,348 L650,352 L648.2,356 L646.4,360 L644.5,364 L642.7,368 L640.8,372 L638.8,376 L636.9,380 L634.9,384 L632.9,388 L630.9,392 L628.8,396 L626.7,400 L624.6,404 L622.4,408 L620.2,412 L617.9,416 L615.7,420 L613.3,424 L611,428 L608.6,432 L606.1,436 L603.7,440 L601.1,444 L598.6,448 L596,452 L593.3,456 L590.6,460 L587.8,464 L585,468 L582.1,472 L579.1,476 L576,480 L572.9,484 L569.7,488 L566.5,492 L563.2,496 L559.8,500 L556.3,504 L552.8,508 L549.2,512 L545.5,516 L541.7,520 L537.8,524 L533.8,528 L529.6,532 L525.3,536 L520.9,540 L516.3,544 L511.6,548 L506.6,552 L501.5,556 L496.1,560 L490.5,564 L484.5,568 L478.2,572 L471.5,576 L464.3,580 L456.4,584 L447.5,588 L436.2,592 L800,592 L800,8Z" fill="#1e5a29"/>
<path d="M752.2,8 L751.5,12 L750.7,16 L750,20 L749.2,24 L748.5,28 L747.7,32 L746.9,36 L746.2,40 L745.4,44 L744.6,48 L743.8,52 L743,56 L742.2,60 L741.4,64 L740.5,68 L739.7,72 L738.9,76 L738,80 L737.2,84 L736.3,88 L735.4,92 L734.5,96 L733.7,100 L732.8,104 L731.9,108 L730.9,112 L730,116 L729.1,120 L728.2,124 L727.2,128 L726.3,132 L725.3,136 L724.3,140 L723.3,144 L722.3,148 L721.3,152 L720.3,156 L719.3,160 L718.3,164 L717.2,168 L716.2,172 L715.1,176 L714,180 L712.9,184 L711.8,188 L710.7,192 L709.6,196 L708.5,200 L707.4,204 L706.2,208 L705,212 L703.9,216 L702.7,220 L701.5,224 L700.3,228 L699.1,232 L697.8,236 L696.6,240 L695.3,244 L694.1,248 L692.8,252 L691.5,256 L690.1,260 L688.8,264 L687.4,268 L686.1,272 L684.7,276 L683.3,280 L681.9,284 L680.4,288 L679,292 L677.5,296 L676,300 L674.5,304 L673,308 L671.4,312 L669.9,316 L668.3,320 L666.7,324 L665.1,328 L663.4,332 L661.7,336 L660.1,340 L658.3,344 L656.6,348 L654.9,352 L653.1,356 L651.3,360 L649.4,364 L647.6,368 L645.7,372 L643.8,376 L641.8,380 L639.9,384 L637.9,388 L635.9,392 L633.8,396 L631.7,400 L629.6,404 L627.4,408 L625.2,412 L623,416 L620.7,420 L618.4,424 L616.1,428 L613.7,432 L611.3,436 L608.8,440 L606.3,444 L603.8,448 L601.1,452 L598.5,456 L595.8,460 L593,464 L590.2,468 L587.3,472 L584.4,476 L581.4,480 L578.3,484 L575.2,488 L572,492 L568.7,496 L565.3,500 L561.9,504 L558.4,508 L554.8,512 L551.1,516 L547.3,520 L543.4,524 L539.3,528 L535.2,532 L530.9,536 L526.5,540 L521.9,544 L517.1,548 L512.2,552 L507,556 L501.7,560 L496,564 L490.1,568 L483.8,572 L477.1,576 L469.9,580 L462,584 L453.1,588 L441.7,592 L800,592 L800,8Z" fill="#125028"/>
</g>
<g clip-path="url(#c1)">
<rect x="230" y="0" width="120" height="350" fill="#ff0028"/>
<path d="M360,8 L360.7,12 L361.4,16 L362.1,20 L362.8,24 L363.5,28 L364.2,32 L364.8,36 L365.5,40 L366.1,44 L366.8,48 L367.5,52 L368.1,56 L368.8,60 L369.5,64 L370.2,68 L370.8,72 L371.5,76 L372.2,80 L372.9,84 L373.6,88 L374.3,92 L375,96 L375.7,100 L376.4,104 L377.1,108 L377.8,112 L378.5,116 L379.2,120 L380,124 L380.7,128 L381.4,132 L382.2,136 L382.9,140 L383.7,144 L384.4,148 L385.2,152 L386,156 L386.8,160 L387.6,164 L388.4,168 L389.2,172 L390.1,176 L390.9,180 L391.7,184 L392.6,188 L393.4,192 L394.3,196 L395.2,200 L396,204 L396.9,208 L397.8,212 L398.7,216 L399.6,220 L400.5,224 L401.4,228 L402.3,232 L403.2,236 L404.1,240 L405,244 L405.9,248 L406.9,252 L407.8,256 L408.7,260 L409.7,264 L410.6,268 L411.6,272 L412.6,276 L413.6,280 L414.6,284 L415.6,288 L416.6,292 L417.7,296 L418.7,300 L419.8,304 L420.9,308 L422.1,312 L423.3,316 L424.4,320 L425.6,324 L426.9,328 L428.1,332 L429.4,336 L430.6,340 L431.3,344 L200,344 L200,8Z" fill="#eec329"/>
<path d="M353.1,8 L353.8,12 L354.5,16 L355.2,20 L355.9,24 L356.6,28 L357.3,32 L357.9,36 L358.6,40 L359.3,44 L359.9,48 L360.6,52 L361.2,56 L361.9,60 L362.6,64 L363.3,68 L364,72 L364.7,76 L365.3,80 L366,84 L366.7,88 L367.4,92 L368.1,96 L368.8,100 L369.5,104 L370.2,108 L370.9,112 L371.6,116 L372.4,120 L373.1,124 L373.8,128 L374.5,132 L375.3,136 L376,140 L376.8,144 L377.6,148 L378.4,152 L379.1,156 L379.9,160 L380.7,164 L381.5,168 L382.4,172 L383.2,176 L384,180 L384.9,184 L385.7,188 L386.6,192 L387.4,196 L388.3,200 L389.2,204 L390,208 L390.9,212 L391.8,216 L392.7,220 L393.6,224 L394.5,228 L395.4,232 L396.3,236 L397.2,240 L398.1,244 L399.1,248 L400,252 L400.9,256 L401.9,260 L402.8,264 L403.8,268 L404.7,272 L405.7,276 L406.7,280 L407.7,284 L408.7,288 L409.7,292 L410.8,296 L411.9,300 L413,304 L414.1,308 L415.2,312 L416.4,316 L417.6,320 L418.8,324 L420,328 L421.2,332 L422.5,336 L423.8,340 L424.5,344 L200,344 L200,8Z" fill="#edc42a"/>
<path d="M344.7,8 L345.4,12 L346.1,16 L346.8,20 L347.5,24 L348.1,28 L348.8,32 L349.5,36 L350.1,40 L350.8,44 L351.4,48 L352.1,52 L352.8,56 L353.4,60 L354.1,64 L354.8,68 L355.5,72 L356.2,76 L356.9,80 L357.5,84 L358.2,88 L358.9,92 L359.6,96 L360.3,100 L361,104 L361.7,108 L362.4,112 L363.2,116 L363.9,120 L364.6,124 L365.3,128 L366.1,132 L366.8,136 L367.6,140 L368.3,144 L369.1,148 L369.9,152 L370.7,156 L371.5,160 L372.3,164 L373.1,168 L373.9,172 L374.7,176 L375.5,180 L376.4,184 L377.2,188 L378.1,192 L379,196 L379.8,200 L380.7,204 L381.6,208 L382.5,212 L383.3,216 L384.2,220 L385.1,224 L386,228 L386.9,232 L387.8,236 L388.8,240 L389.7,244 L390.6,248 L391.5,252 L392.4,256 L393.4,260 L394.3,264 L395.3,268 L396.2,272 L397.2,276 L398.2,280 L399.2,284 L400.2,288 L401.3,292 L402.3,296 L403.4,300 L404.5,304 L405.6,308 L406.7,312 L407.9,316 L409.1,320 L410.3,324 L411.5,328 L412.8,332 L414,336 L415.3,340 L416,344 L200,344 L200,8Z" fill="#e9c32a"/>
<path d="M335.6,8 L336.3,12 L337,16 L337.7,20 L338.4,24 L339.1,28 L339.8,32 L340.4,36 L341.1,40 L341.7,44 L342.4,48 L343,52 L343.7,56 L344.4,60 L345.1,64 L345.7,68 L346.4,72 L347.1,76 L347.8,80 L348.5,84 L349.2,88 L349.9,92 L350.6,96 L351.3,100 L352,104 L352.7,108 L353.4,112 L354.1,116 L354.8,120 L355.5,124 L356.3,128 L357,132 L357.8,136 L358.5,140 L359.3,144 L360,148 L360.8,152 L361.6,156 L362.4,160 L363.2,164 L364,168 L364.8,172 L365.7,176 L366.5,180 L367.3,184 L368.2,188 L369,192 L369.9,196 L370.8,200 L371.6,204 L372.5,208 L373.4,212 L374.3,216 L375.2,220 L376.1,224 L377,228 L377.9,232 L378.8,236 L379.7,240 L380.6,244 L381.5,248 L382.5,252 L383.4,256 L384.3,260 L385.3,264 L386.2,268 L387.2,272 L388.2,276 L389.2,280 L390.2,284 L391.2,288 L392.2,292 L393.3,296 L394.3,300 L395.4,304 L396.5,308 L397.7,312 L398.8,316 L400,320 L401.2,324 L402.5,328 L403.7,332 L405,336 L406.2,340 L406.9,344 L200,344 L200,8Z" fill="#e5c32a"/>
<path d="M332.2,8 L332.9,12 L333.6,16 L334.3,20 L335,24 L335.7,28 L336.4,32 L337,36 L337.7,40 L338.4,44 L339,48 L339.7,52 L340.3,56 L341,60 L341.7,64 L342.4,68 L343.1,72 L343.8,76 L344.4,80 L345.1,84 L345.8,88 L346.5,92 L347.2,96 L347.9,100 L348.6,104 L349.3,108 L350,112 L350.7,116 L351.5,120 L352.2,124 L352.9,128 L353.7,132 L354.4,136 L355.1,140 L355.9,144 L356.7,148 L357.5,152 L358.2,156 L359,160 L359.8,164 L360.7,168 L361.5,172 L362.3,176 L363.1,180 L364,184 L364.8,188 L365.7,192 L366.5,196 L367.4,200 L368.3,204 L369.2,208 L370,212 L370.9,216 L371.8,220 L372.7,224 L373.6,228 L374.5,232 L375.4,236 L376.3,240 L377.2,244 L378.2,248 L379.1,252 L380,256 L381,260 L381.9,264 L382.9,268 L383.8,272 L384.8,276 L385.8,280 L386.8,284 L387.8,288 L388.8,292 L389.9,296 L391,300 L392.1,304 L393.2,308 L394.3,312 L395.5,316 L396.7,320 L397.9,324 L399.1,328 L400.3,332 L401.6,336 L402.9,340 L403.6,344 L200,344 L200,8Z" fill="#e1c22a"/>
<path d="M328.9,8 L329.6,12 L330.3,16 L331,20 L331.7,24 L332.3,28 L333,32 L333.7,36 L334.3,40 L335,44 L335.7,48 L336.3,52 L337,56 L337.6,60 L338.3,64 L339,68 L339.7,72 L340.4,76 L341.1,80 L341.8,84 L342.5,88 L343.1,92 L343.8,96 L344.5,100 L345.2,104 L345.9,108 L346.7,112 L347.4,116 L348.1,120 L348.8,124 L349.5,128 L350.3,132 L351,136 L351.8,140 L352.5,144 L353.3,148 L354.1,152 L354.9,156 L355.7,160 L356.5,164 L357.3,168 L358.1,172 L358.9,176 L359.8,180 L360.6,184 L361.5,188 L362.3,192 L363.2,196 L364,200 L364.9,204 L365.8,208 L366.7,212 L367.6,216 L368.4,220 L369.3,224 L370.2,228 L371.2,232 L372.1,236 L373,240 L373.9,244 L374.8,248 L375.7,252 L376.7,256 L377.6,260 L378.5,264 L379.5,268 L380.5,272 L381.4,276 L382.4,280 L383.4,284 L384.4,288 L385.5,292 L386.5,296 L387.6,300 L388.7,304 L389.8,308 L390.9,312 L392.1,316 L393.3,320 L394.5,324 L395.7,328 L397,332 L398.2,336 L399.5,340 L400.2,344 L200,344 L200,8Z" fill="#dcc22a"/>
<path d="M325.5,8 L326.2,12 L326.9,16 L327.6,20 L328.3,24 L329,28 L329.6,32 L330.3,36 L331,40 L331.6,44 L332.3,48 L332.9,52 L333.6,56 L334.3,60 L335,64 L335.6,68 L336.3,72 L337,76 L337.7,80 L338.4,84 L339.1,88 L339.8,92 L340.5,96 L341.2,100 L341.9,104 L342.6,108 L343.3,112 L344,116 L344.7,120 L345.4,124 L346.2,128 L346.9,132 L347.7,136 L348.4,140 L349.2,144 L349.9,148 L350.7,152 L351.5,156 L352.3,160 L353.1,164 L353.9,168 L354.7,172 L355.6,176 L356.4,180 L357.2,184 L358.1,188 L358.9,192 L359.8,196 L360.7,200 L361.5,204 L362.4,208 L363.3,212 L364.2,216 L365.1,220 L366,224 L366.9,228 L367.8,232 L368.7,236 L369.6,240 L370.5,244 L371.4,248 L372.4,252 L373.3,256 L374.2,260 L375.2,264 L376.1,268 L377.1,272 L378.1,276 L379.1,280 L380.1,284 L381.1,288 L382.1,292 L383.2,296 L384.2,300 L385.3,304 L386.4,308 L387.6,312 L388.7,316 L389.9,320 L391.1,324 L392.4,328 L393.6,332 L394.9,336 L396.1,340 L396.8,344 L200,344 L200,8Z" fill="#d7c22a"/>
<path d="M322.1,8 L322.8,12 L323.5,16 L324.2,20 L324.9,24 L325.6,28 L326.3,32 L326.9,36 L327.6,40 L328.2,44 L328.9,48 L329.5,52 L330.2,56 L330.9,60 L331.6,64 L332.2,68 L332.9,72 L333.6,76 L334.3,80 L335,84 L335.7,88 L336.4,92 L337.1,96 L337.8,100 L338.5,104 L339.2,108 L339.9,112 L340.6,116 L341.3,120 L342.1,124 L342.8,128 L343.5,132 L344.3,136 L345,140 L345.8,144 L346.5,148 L347.3,152 L348.1,156 L348.9,160 L349.7,164 L350.5,168 L351.3,172 L352.2,176 L353,180 L353.8,184 L354.7,188 L355.5,192 L356.4,196 L357.3,200 L358.1,204 L359,208 L359.9,212 L360.8,216 L361.7,220 L362.6,224 L363.5,228 L364.4,232 L365.3,236 L366.2,240 L367.1,244 L368,248 L369,252 L369.9,256 L370.8,260 L371.8,264 L372.7,268 L373.7,272 L374.7,276 L375.7,280 L376.7,284 L377.7,288 L378.7,292 L379.8,296 L380.8,300 L381.9,304 L383,308 L384.2,312 L385.3,316 L386.5,320 L387.7,324 L389,328 L390.2,332 L391.5,336 L392.7,340 L393.4,344 L200,344 L200,8Z" fill="#d2c22a"/>
<path d="M318.4,8 L319.1,12 L319.9,16 L320.6,20 L321.2,24 L321.9,28 L322.6,32 L323.3,36 L323.9,40 L324.6,44 L325.2,48 L325.9,52 L326.6,56 L327.2,60 L327.9,64 L328.6,68 L329.3,72 L330,76 L330.7,80 L331.3,84 L332,88 L332.7,92 L333.4,96 L334.1,100 L334.8,104 L335.5,108 L336.2,112 L336.9,116 L337.7,120 L338.4,124 L339.1,128 L339.9,132 L340.6,136 L341.4,140 L342.1,144 L342.9,148 L343.7,152 L344.4,156 L345.2,160 L346,164 L346.9,168 L347.7,172 L348.5,176 L349.3,180 L350.2,184 L351,188 L351.9,192 L352.7,196 L353.6,200 L354.5,204 L355.4,208 L356.2,212 L357.1,216 L358,220 L358.9,224 L359.8,228 L360.7,232 L361.6,236 L362.5,240 L363.5,244 L364.4,248 L365.3,252 L366.2,256 L367.2,260 L368.1,264 L369.1,268 L370,272 L371,276 L372,280 L373,284 L374,288 L375.1,292 L376.1,296 L377.2,300 L378.3,304 L379.4,308 L380.5,312 L381.7,316 L382.9,320 L384.1,324 L385.3,328 L386.5,332 L387.8,336 L389.1,340 L389.8,344 L200,344 L200,8Z" fill="#ccbc2a"/>
<path d="M314.8,8 L315.5,12 L316.2,16 L316.9,20 L317.6,24 L318.3,28 L318.9,32 L319.6,36 L320.3,40 L320.9,44 L321.6,48 L322.2,52 L322.9,56 L323.6,60 L324.2,64 L324.9,68 L325.6,72 L326.3,76 L327,80 L327.7,84 L328.4,88 L329.1,92 L329.8,96 L330.5,100 L331.2,104 L331.9,108 L332.6,112 L333.3,116 L334,120 L334.7,124 L335.5,128 L336.2,132 L336.9,136 L337.7,140 L338.5,144 L339.2,148 L340,152 L340.8,156 L341.6,160 L342.4,164 L343.2,168 L344,172 L344.8,176 L345.7,180 L346.5,184 L347.4,188 L348.2,192 L349.1,196 L349.9,200 L350.8,204 L351.7,208 L352.6,212 L353.5,216 L354.4,220 L355.3,224 L356.2,228 L357.1,232 L358,236 L358.9,240 L359.8,244 L360.7,248 L361.6,252 L362.6,256 L363.5,260 L364.4,264 L365.4,268 L366.4,272 L367.3,276 L368.3,280 L369.3,284 L370.4,288 L371.4,292 L372.4,296 L373.5,300 L374.6,304 L375.7,308 L376.9,312 L378,316 L379.2,320 L380.4,324 L381.6,328 L382.9,332 L384.1,336 L385.4,340 L386.1,344 L200,344 L200,8Z" fill="#c5b72a"/>
<path d="M311.1,8 L311.8,12 L312.5,16 L313.2,20 L313.9,24 L314.6,28 L315.3,32 L315.9,36 L316.6,40 L317.2,44 L317.9,48 L318.6,52 L319.2,56 L319.9,60 L320.6,64 L321.3,68 L322,72 L322.6,76 L323.3,80 L324,84 L324.7,88 L325.4,92 L326.1,96 L326.8,100 L327.5,104 L328.2,108 L328.9,112 L329.6,116 L330.3,120 L331.1,124 L331.8,128 L332.5,132 L333.3,136 L334,140 L334.8,144 L335.6,148 L336.3,152 L337.1,156 L337.9,160 L338.7,164 L339.5,168 L340.4,172 L341.2,176 L342,180 L342.9,184 L343.7,188 L344.6,192 L345.4,196 L346.3,200 L347.2,204 L348,208 L348.9,212 L349.8,216 L350.7,220 L351.6,224 L352.5,228 L353.4,232 L354.3,236 L355.2,240 L356.1,244 L357.1,248 L358,252 L358.9,256 L359.8,260 L360.8,264 L361.7,268 L362.7,272 L363.7,276 L364.7,280 L365.7,284 L366.7,288 L367.7,292 L368.8,296 L369.9,300 L370.9,304 L372.1,308 L373.2,312 L374.4,316 L375.6,320 L376.8,324 L378,328 L379.2,332 L380.5,336 L381.7,340 L382.5,344 L200,344 L200,8Z" fill="#bcb62a"/>
<path d="M307.5,8 L308.2,12 L308.9,16 L309.6,20 L310.3,24 L310.9,28 L311.6,32 L312.3,36 L312.9,40 L313.6,44 L314.2,48 L314.9,52 L315.6,56 L316.2,60 L316.9,64 L317.6,68 L318.3,72 L319,76 L319.7,80 L320.4,84 L321,88 L321.7,92 L322.4,96 L323.1,100 L323.8,104 L324.5,108 L325.2,112 L326,116 L326.7,120 L327.4,124 L328.1,128 L328.9,132 L329.6,136 L330.4,140 L331.1,144 L331.9,148 L332.7,152 L333.5,156 L334.3,160 L335.1,164 L335.9,168 L336.7,172 L337.5,176 L338.4,180 L339.2,184 L340,188 L340.9,192 L341.8,196 L342.6,200 L343.5,204 L344.4,208 L345.3,212 L346.1,216 L347,220 L347.9,224 L348.8,228 L349.7,232 L350.7,236 L351.6,240 L352.5,244 L353.4,248 L354.3,252 L355.2,256 L356.2,260 L357.1,264 L358.1,268 L359,272 L360,276 L361,280 L362,284 L363,288 L364.1,292 L365.1,296 L366.2,300 L367.3,304 L368.4,308 L369.5,312 L370.7,316 L371.9,320 L373.1,324 L374.3,328 L375.6,332 L376.8,336 L378.1,340 L378.8,344 L200,344 L200,8Z" fill="#b4b52a"/>
<path d="M303.8,8 L304.5,12 L305.2,16 L305.9,20 L306.6,24 L307.3,28 L307.9,32 L308.6,36 L309.3,40 L309.9,44 L310.6,48 L311.2,52 L311.9,56 L312.6,60 L313.3,64 L313.9,68 L314.6,72 L315.3,76 L316,80 L316.7,84 L317.4,88 L318.1,92 L318.8,96 L319.5,100 L320.2,104 L320.9,108 L321.6,112 L322.3,116 L323,120 L323.7,124 L324.5,128 L325.2,132 L326,136 L326.7,140 L327.5,144 L328.2,148 L329,152 L329.8,156 L330.6,160 L331.4,164 L332.2,168 L333,172 L333.9,176 L334.7,180 L335.5,184 L336.4,188 L337.2,192 L338.1,196 L339,200 L339.8,204 L340.7,208 L341.6,212 L342.5,216 L343.4,220 L344.3,224 L345.2,228 L346.1,232 L347,236 L347.9,240 L348.8,244 L349.7,248 L350.7,252 L351.6,256 L352.5,260 L353.5,264 L354.4,268 L355.4,272 L356.4,276 L357.4,280 L358.4,284 L359.4,288 L360.4,292 L361.5,296 L362.5,300 L363.6,304 L364.7,308 L365.9,312 L367,316 L368.2,320 L369.4,324 L370.7,328 L371.9,332 L373.2,336 L374.4,340 L375.1,344 L200,344 L200,8Z" fill="#adb22a"/>
<path d="M300.1,8 L300.8,12 L301.6,16 L302.3,20 L302.9,24 L303.6,28 L304.3,32 L305,36 L305.6,40 L306.3,44 L306.9,48 L307.6,52 L308.2,56 L308.9,60 L309.6,64 L310.3,68 L311,72 L311.7,76 L312.3,80 L313,84 L313.7,88 L314.4,92 L315.1,96 L315.8,100 L316.5,104 L317.2,108 L317.9,112 L318.6,116 L319.4,120 L320.1,124 L320.8,128 L321.6,132 L322.3,136 L323.1,140 L323.8,144 L324.6,148 L325.4,152 L326.1,156 L326.9,160 L327.7,164 L328.6,168 L329.4,172 L330.2,176 L331,180 L331.9,184 L332.7,188 L333.6,192 L334.4,196 L335.3,200 L336.2,204 L337.1,208 L337.9,212 L338.8,216 L339.7,220 L340.6,224 L341.5,228 L342.4,232 L343.3,236 L344.2,240 L345.2,244 L346.1,248 L347,252 L347.9,256 L348.9,260 L349.8,264 L350.8,268 L351.7,272 L352.7,276 L353.7,280 L354.7,284 L355.7,288 L356.8,292 L357.8,296 L358.9,300 L360,304 L361.1,308 L362.2,312 L363.4,316 L364.6,320 L365.8,324 L367,328 L368.2,332 L369.5,336 L370.8,340 L371.5,344 L200,344 L200,8Z" fill="#a7ad2b"/>
<path d="M295.9,8 L296.6,12 L297.3,16 L298,20 L298.7,24 L299.4,28 L300,32 L300.7,36 L301.4,40 L302,44 L302.7,48 L303.3,52 L304,56 L304.7,60 L305.3,64 L306,68 L306.7,72 L307.4,76 L308.1,80 L308.8,84 L309.5,88 L310.2,92 L310.9,96 L311.6,100 L312.3,104 L313,108 L313.7,112 L314.4,116 L315.1,120 L315.8,124 L316.6,128 L317.3,132 L318,136 L318.8,140 L319.6,144 L320.3,148 L321.1,152 L321.9,156 L322.7,160 L323.5,164 L324.3,168 L325.1,172 L325.9,176 L326.8,180 L327.6,184 L328.5,188 L329.3,192 L330.2,196 L331,200 L331.9,204 L332.8,208 L333.7,212 L334.6,216 L335.5,220 L336.4,224 L337.3,228 L338.2,232 L339.1,236 L340,240 L340.9,244 L341.8,248 L342.7,252 L343.7,256 L344.6,260 L345.5,264 L346.5,268 L347.5,272 L348.4,276 L349.4,280 L350.4,284 L351.5,288 L352.5,292 L353.5,296 L354.6,300 L355.7,304 L356.8,308 L358,312 L359.1,316 L360.3,320 L361.5,324 L362.7,328 L364,332 L365.2,336 L366.5,340 L367.2,344 L200,344 L200,8Z" fill="#a1a92c"/>
<path d="M291.6,8 L292.3,12 L293,16 L293.7,20 L294.4,24 L295.1,28 L295.7,32 L296.4,36 L297.1,40 L297.7,44 L298.4,48 L299,52 L299.7,56 L300.4,60 L301,64 L301.7,68 L302.4,72 L303.1,76 L303.8,80 L304.5,84 L305.2,88 L305.9,92 L306.6,96 L307.3,100 L308,104 L308.7,108 L309.4,112 L310.1,116 L310.8,120 L311.5,124 L312.3,128 L313,132 L313.7,136 L314.5,140 L315.3,144 L316,148 L316.8,152 L317.6,156 L318.4,160 L319.2,164 L320,168 L320.8,172 L321.6,176 L322.5,180 L323.3,184 L324.2,188 L325,192 L325.9,196 L326.7,200 L327.6,204 L328.5,208 L329.4,212 L330.3,216 L331.2,220 L332.1,224 L333,228 L333.9,232 L334.8,236 L335.7,240 L336.6,244 L337.5,248 L338.4,252 L339.4,256 L340.3,260 L341.3,264 L342.2,268 L343.2,272 L344.1,276 L345.1,280 L346.1,284 L347.2,288 L348.2,292 L349.2,296 L350.3,300 L351.4,304 L352.5,308 L353.7,312 L354.8,316 L356,320 L357.2,324 L358.4,328 L359.7,332 L360.9,336 L362.2,340 L362.9,344 L200,344 L200,8Z" fill="#97a42c"/>
<path d="M287.3,8 L288,12 L288.7,16 L289.4,20 L290.1,24 L290.8,28 L291.4,32 L292.1,36 L292.8,40 L293.4,44 L294.1,48 L294.7,52 L295.4,56 L296.1,60 L296.7,64 L297.4,68 L298.1,72 L298.8,76 L299.5,80 L300.2,84 L300.9,88 L301.6,92 L302.3,96 L303,100 L303.7,104 L304.4,108 L305.1,112 L305.8,116 L306.5,120 L307.2,124 L308,128 L308.7,132 L309.4,136 L310.2,140 L311,144 L311.7,148 L312.5,152 L313.3,156 L314.1,160 L314.9,164 L315.7,168 L316.5,172 L317.3,176 L318.2,180 L319,184 L319.9,188 L320.7,192 L321.6,196 L322.5,200 L323.3,204 L324.2,208 L325.1,212 L326,216 L326.9,220 L327.8,224 L328.7,228 L329.6,232 L330.5,236 L331.4,240 L332.3,244 L333.2,248 L334.1,252 L335.1,256 L336,260 L337,264 L337.9,268 L338.9,272 L339.9,276 L340.8,280 L341.8,284 L342.9,288 L343.9,292 L344.9,296 L346,300 L347.1,304 L348.2,308 L349.4,312 L350.5,316 L351.7,320 L352.9,324 L354.2,328 L355.4,332 L356.6,336 L357.9,340 L358.6,344 L200,344 L200,8Z" fill="#8b9e2c"/>
<path d="M283,8 L283.7,12 L284.4,16 L285.1,20 L285.8,24 L286.5,28 L287.1,32 L287.8,36 L288.5,40 L289.1,44 L289.8,48 L290.4,52 L291.1,56 L291.8,60 L292.4,64 L293.1,68 L293.8,72 L294.5,76 L295.2,80 L295.9,84 L296.6,88 L297.3,92 L298,96 L298.7,100 L299.4,104 L300.1,108 L300.8,112 L301.5,116 L302.2,120 L302.9,124 L303.7,128 L304.4,132 L305.2,136 L305.9,140 L306.7,144 L307.4,148 L308.2,152 L309,156 L309.8,160 L310.6,164 L311.4,168 L312.2,172 L313.1,176 L313.9,180 L314.7,184 L315.6,188 L316.4,192 L317.3,196 L318.2,200 L319,204 L319.9,208 L320.8,212 L321.7,216 L322.6,220 L323.5,224 L324.4,228 L325.3,232 L326.2,236 L327.1,240 L328,244 L328.9,248 L329.8,252 L330.8,256 L331.7,260 L332.7,264 L333.6,268 L334.6,272 L335.6,276 L336.5,280 L337.5,284 L338.6,288 L339.6,292 L340.7,296 L341.7,300 L342.8,304 L343.9,308 L345.1,312 L346.2,316 L347.4,320 L348.6,324 L349.9,328 L351.1,332 L352.3,336 L353.6,340 L354.3,344 L200,344 L200,8Z" fill="#7e982c"/>
<path d="M278.5,8 L279.2,12 L279.9,16 L280.6,20 L281.3,24 L282,28 L282.6,32 L283.3,36 L284,40 L284.6,44 L285.3,48 L285.9,52 L286.6,56 L287.3,60 L287.9,64 L288.6,68 L289.3,72 L290,76 L290.7,80 L291.4,84 L292.1,88 L292.8,92 L293.5,96 L294.2,100 L294.9,104 L295.6,108 L296.3,112 L297,116 L297.7,120 L298.4,124 L299.2,128 L299.9,132 L300.6,136 L301.4,140 L302.2,144 L302.9,148 L303.7,152 L304.5,156 L305.3,160 L306.1,164 L306.9,168 L307.7,172 L308.5,176 L309.4,180 L310.2,184 L311.1,188 L311.9,192 L312.8,196 L313.7,200 L314.5,204 L315.4,208 L316.3,212 L317.2,216 L318.1,220 L319,224 L319.9,228 L320.8,232 L321.7,236 L322.6,240 L323.5,244 L324.4,248 L325.3,252 L326.3,256 L327.2,260 L328.2,264 L329.1,268 L330.1,272 L331.1,276 L332,280 L333,284 L334.1,288 L335.1,292 L336.1,296 L337.2,300 L338.3,304 L339.4,308 L340.6,312 L341.7,316 L342.9,320 L344.1,324 L345.3,328 L346.6,332 L347.8,336 L349.1,340 L349.8,344 L200,344 L200,8Z" fill="#72922c"/>
<path d="M273.7,8 L274.4,12 L275.2,16 L275.9,20 L276.5,24 L277.2,28 L277.9,32 L278.6,36 L279.2,40 L279.9,44 L280.5,48 L281.2,52 L281.8,56 L282.5,60 L283.2,64 L283.9,68 L284.6,72 L285.3,76 L285.9,80 L286.6,84 L287.3,88 L288,92 L288.7,96 L289.4,100 L290.1,104 L290.8,108 L291.5,112 L292.2,116 L293,120 L293.7,124 L294.4,128 L295.2,132 L295.9,136 L296.7,140 L297.4,144 L298.2,148 L299,152 L299.7,156 L300.5,160 L301.3,164 L302.2,168 L303,172 L303.8,176 L304.6,180 L305.5,184 L306.3,188 L307.2,192 L308,196 L308.9,200 L309.8,204 L310.7,208 L311.5,212 L312.4,216 L313.3,220 L314.2,224 L315.1,228 L316,232 L316.9,236 L317.8,240 L318.8,244 L319.7,248 L320.6,252 L321.5,256 L322.5,260 L323.4,264 L324.4,268 L325.3,272 L326.3,276 L327.3,280 L328.3,284 L329.3,288 L330.4,292 L331.4,296 L332.5,300 L333.6,304 L334.7,308 L335.8,312 L337,316 L338.2,320 L339.4,324 L340.6,328 L341.8,332 L343.1,336 L344.4,340 L345.1,344 L200,344 L200,8Z" fill="#658b2c"/>
<path d="M269,8 L269.7,12 L270.4,16 L271.1,20 L271.8,24 L272.5,28 L273.1,32 L273.8,36 L274.5,40 L275.1,44 L275.8,48 L276.4,52 L277.1,56 L277.8,60 L278.5,64 L279.1,68 L279.8,72 L280.5,76 L281.2,80 L281.9,84 L282.6,88 L283.3,92 L284,96 L284.7,100 L285.4,104 L286.1,108 L286.8,112 L287.5,116 L288.2,120 L288.9,124 L289.7,128 L290.4,132 L291.2,136 L291.9,140 L292.7,144 L293.4,148 L294.2,152 L295,156 L295.8,160 L296.6,164 L297.4,168 L298.2,172 L299.1,176 L299.9,180 L300.7,184 L301.6,188 L302.4,192 L303.3,196 L304.2,200 L305,204 L305.9,208 L306.8,212 L307.7,216 L308.6,220 L309.5,224 L310.4,228 L311.3,232 L312.2,236 L313.1,240 L314,244 L314.9,248 L315.8,252 L316.8,256 L317.7,260 L318.7,264 L319.6,268 L320.6,272 L321.6,276 L322.5,280 L323.6,284 L324.6,288 L325.6,292 L326.7,296 L327.7,300 L328.8,304 L329.9,308 L331.1,312 L332.2,316 L333.4,320 L334.6,324 L335.9,328 L337.1,332 L338.4,336 L339.6,340 L340.3,344 L200,344 L200,8Z" fill="#58852c"/>
<path d="M264.3,8 L265,12 L265.7,16 L266.4,20 L267.1,24 L267.8,28 L268.5,32 L269.1,36 L269.8,40 L270.4,44 L271.1,48 L271.8,52 L272.4,56 L273.1,60 L273.8,64 L274.5,68 L275.1,72 L275.8,76 L276.5,80 L277.2,84 L277.9,88 L278.6,92 L279.3,96 L280,100 L280.7,104 L281.4,108 L282.1,112 L282.8,116 L283.5,120 L284.3,124 L285,128 L285.7,132 L286.5,136 L287.2,140 L288,144 L288.8,148 L289.5,152 L290.3,156 L291.1,160 L291.9,164 L292.7,168 L293.5,172 L294.4,176 L295.2,180 L296,184 L296.9,188 L297.7,192 L298.6,196 L299.5,200 L300.3,204 L301.2,208 L302.1,212 L303,216 L303.9,220 L304.8,224 L305.7,228 L306.6,232 L307.5,236 L308.4,240 L309.3,244 L310.2,248 L311.2,252 L312.1,256 L313,260 L314,264 L314.9,268 L315.9,272 L316.9,276 L317.9,280 L318.9,284 L319.9,288 L320.9,292 L322,296 L323,300 L324.1,304 L325.2,308 L326.4,312 L327.6,316 L328.7,320 L329.9,324 L331.2,328 L332.4,332 L333.7,336 L334.9,340 L335.6,344 L200,344 L200,8Z" fill="#4d7d2c"/>
<path d="M260.2,8 L260.9,12 L261.6,16 L262.3,20 L263,24 L263.7,28 L264.4,32 L265,36 L265.7,40 L266.3,44 L267,48 L267.7,52 L268.3,56 L269,60 L269.7,64 L270.4,68 L271.1,72 L271.7,76 L272.4,80 L273.1,84 L273.8,88 L274.5,92 L275.2,96 L275.9,100 L276.6,104 L277.3,108 L278,112 L278.7,116 L279.4,120 L280.2,124 L280.9,128 L281.6,132 L282.4,136 L283.1,140 L283.9,144 L284.7,148 L285.4,152 L286.2,156 L287,160 L287.8,164 L288.6,168 L289.5,172 L290.3,176 L291.1,180 L292,184 L292.8,188 L293.7,192 L294.5,196 L295.4,200 L296.3,204 L297.1,208 L298,212 L298.9,216 L299.8,220 L300.7,224 L301.6,228 L302.5,232 L303.4,236 L304.3,240 L305.2,244 L306.1,248 L307.1,252 L308,256 L308.9,260 L309.9,264 L310.8,268 L311.8,272 L312.8,276 L313.8,280 L314.8,284 L315.8,288 L316.8,292 L317.9,296 L318.9,300 L320,304 L321.2,308 L322.3,312 L323.5,316 L324.7,320 L325.9,324 L327.1,328 L328.3,332 L329.6,336 L330.8,340 L331.5,344 L200,344 L200,8Z" fill="#41752c"/>
<path d="M256.1,8 L256.8,12 L257.5,16 L258.2,20 L258.9,24 L259.6,28 L260.3,32 L260.9,36 L261.6,40 L262.3,44 L262.9,48 L263.6,52 L264.2,56 L264.9,60 L265.6,64 L266.3,68 L267,72 L267.6,76 L268.3,80 L269,84 L269.7,88 L270.4,92 L271.1,96 L271.8,100 L272.5,104 L273.2,108 L273.9,112 L274.6,116 L275.3,120 L276.1,124 L276.8,128 L277.5,132 L278.3,136 L279,140 L279.8,144 L280.6,148 L281.3,152 L282.1,156 L282.9,160 L283.7,164 L284.5,168 L285.4,172 L286.2,176 L287,180 L287.9,184 L288.7,188 L289.6,192 L290.4,196 L291.3,200 L292.2,204 L293,208 L293.9,212 L294.8,216 L295.7,220 L296.6,224 L297.5,228 L298.4,232 L299.3,236 L300.2,240 L301.1,244 L302.1,248 L303,252 L303.9,256 L304.8,260 L305.8,264 L306.7,268 L307.7,272 L308.7,276 L309.7,280 L310.7,284 L311.7,288 L312.7,292 L313.8,296 L314.9,300 L315.9,304 L317.1,308 L318.2,312 L319.4,316 L320.6,320 L321.8,324 L323,328 L324.2,332 L325.5,336 L326.8,340 L327.5,344 L200,344 L200,8Z" fill="#366d2c"/>
<path d="M252,8 L252.7,12 L253.4,16 L254.1,20 L254.8,24 L255.5,28 L256.2,32 L256.8,36 L257.5,40 L258.2,44 L258.8,48 L259.5,52 L260.1,56 L260.8,60 L261.5,64 L262.2,68 L262.9,72 L263.6,76 L264.2,80 L264.9,84 L265.6,88 L266.3,92 L267,96 L267.7,100 L268.4,104 L269.1,108 L269.8,112 L270.5,116 L271.3,120 L272,124 L272.7,128 L273.5,132 L274.2,136 L274.9,140 L275.7,144 L276.5,148 L277.3,152 L278,156 L278.8,160 L279.6,164 L280.4,168 L281.3,172 L282.1,176 L282.9,180 L283.8,184 L284.6,188 L285.5,192 L286.3,196 L287.2,200 L288.1,204 L288.9,208 L289.8,212 L290.7,216 L291.6,220 L292.5,224 L293.4,228 L294.3,232 L295.2,236 L296.1,240 L297,244 L298,248 L298.9,252 L299.8,256 L300.8,260 L301.7,264 L302.7,268 L303.6,272 L304.6,276 L305.6,280 L306.6,284 L307.6,288 L308.6,292 L309.7,296 L310.8,300 L311.9,304 L313,308 L314.1,312 L315.3,316 L316.5,320 L317.7,324 L318.9,328 L320.1,332 L321.4,336 L322.7,340 L323.4,344 L200,344 L200,8Z" fill="#2a632a"/>
<path d="M247.5,8 L248.2,12 L248.9,16 L249.6,20 L250.3,24 L251,28 L251.6,32 L252.3,36 L253,40 L253.6,44 L254.3,48 L254.9,52 L255.6,56 L256.3,60 L256.9,64 L257.6,68 L258.3,72 L259,76 L259.7,80 L260.4,84 L261.1,88 L261.8,92 L262.5,96 L263.2,100 L263.9,104 L264.6,108 L265.3,112 L266,116 L266.7,120 L267.4,124 L268.2,128 L268.9,132 L269.6,136 L270.4,140 L271.2,144 L271.9,148 L272.7,152 L273.5,156 L274.3,160 L275.1,164 L275.9,168 L276.7,172 L277.5,176 L278.4,180 L279.2,184 L280.1,188 L280.9,192 L281.8,196 L282.6,200 L283.5,204 L284.4,208 L285.3,212 L286.2,216 L287.1,220 L288,224 L288.9,228 L289.8,232 L290.7,236 L291.6,240 L292.5,244 L293.4,248 L294.3,252 L295.3,256 L296.2,260 L297.1,264 L298.1,268 L299.1,272 L300,276 L301,280 L302,284 L303.1,288 L304.1,292 L305.1,296 L306.2,300 L307.3,304 L308.4,308 L309.6,312 L310.7,316 L311.9,320 L313.1,324 L314.3,328 L315.6,332 L316.8,336 L318.1,340 L318.8,344 L200,344 L200,8Z" fill="#1e5a29"/>
<path d="M242.6,8 L243.3,12 L244,16 L244.7,20 L245.4,24 L246.1,28 L246.7,32 L247.4,36 L248.1,40 L248.7,44 L249.4,48 L250,52 L250.7,56 L251.4,60 L252,64 L252.7,68 L253.4,72 L254.1,76 L254.8,80 L255.5,84 L256.2,88 L256.9,92 L257.6,96 L258.3,100 L259,104 L259.7,108 L260.4,112 L261.1,116 L261.8,120 L262.5,124 L263.3,128 L264,132 L264.8,136 L265.5,140 L266.3,144 L267,148 L267.8,152 L268.6,156 L269.4,160 L270.2,164 L271,168 L271.8,172 L272.7,176 L273.5,180 L274.3,184 L275.2,188 L276,192 L276.9,196 L277.8,200 L278.6,204 L279.5,208 L280.4,212 L281.3,216 L282.2,220 L283.1,224 L284,228 L284.9,232 L285.8,236 L286.7,240 L287.6,244 L288.5,248 L289.4,252 L290.4,256 L291.3,260 L292.3,264 L293.2,268 L294.2,272 L295.2,276 L296.1,280 L297.1,284 L298.2,288 L299.2,292 L300.3,296 L301.3,300 L302.4,304 L303.5,308 L304.7,312 L305.8,316 L307,320 L308.2,324 L309.5,328 L310.7,332 L311.9,336 L313.2,340 L313.9,344 L200,344 L200,8Z" fill="#125028"/>
</g>
<path d="M513.5,11 L513.5,22.4 L511.8,22.4 L511.8,58.2 L509.8,58.2 L509.8,94.5 L507.4,94.5 L507.4,130 L505,130 L505,166.2 L502.9,166.2 L502.9,202.4 L499.9,202.4 L499.9,238.3 L497,238.3 L497,276 L495.5,280 L495,285 L494.5,290 L494.1,295 L493.6,300 L493.1,305 L492.6,310 L492.2,315 L491.7,320 L491.2,325 L490.7,330 L490.3,335 L489.8,340 L489.3,345 L488.8,350 L488.3,355 L487.8,360 L487.2,365 L486.7,370 L486.2,375 L485.6,380 L485.1,385 L484.5,390 L483.9,395 L483.3,400 L482.7,405 L482.1,410 L481.4,415 L480.8,420 L480.1,425 L479.4,430 L478.7,435 L478,440 L477.2,445 L476.5,450 L475.7,455 L474.9,460 L474.1,465 L473.2,470 L472.3,475 L471.4,480 L470.5,485 L469.6,490 L468.6,495 L467.6,500 L466.6,505 L465.5,510 L464.4,515 L463.3,520 L462.2,525 L461,530 L459.8,535 L458.6,540 L457.3,545 L456,550 L454.7,555 L453.3,560 L451.9,565 L450.5,570 L449,575 L447.5,580 L445.9,585 L444.3,590 L443.8,591.9 L448.2,590.9 L458.6,586.9 L467.2,582.9 L474.9,578.9 L482,574.9 L488.5,570.9 L494.7,566.9 L500.6,562.9 L506.1,558.9 L511.5,554.9 L516.5,550.9 L521.4,546.9 L526.1,542.9 L530.7,538.9 L535.1,534.9 L539.3,530.9 L543.4,526.9 L547.4,522.9 L551.3,518.9 L555.1,514.9 L558.8,510.9 L562.3,506.9 L565.8,502.9 L569.2,498.9 L572.5,494.9 L575.8,490.9 L579,486.9 L582,482.9 L585.1,478.9 L588,474.9 L591,470.9 L593.8,466.9 L596.6,462.9 L599.3,458.9 L602,454.9 L604.6,450.9 L607.2,446.9 L609.8,442.9 L612.3,438.9 L614.7,434.9 L617.1,430.9 L619.5,426.9 L621.8,422.9 L624.1,418.9 L626.3,414.9 L628.5,410.9 L630.7,406.9 L632.9,402.9 L635,398.9 L637,394.9 L639.1,390.9 L641.1,386.9 L643.1,382.9 L645,378.9 L647,374.9 L648.9,370.9 L650.7,366.9 L652.6,362.9 L654.4,358.9 L656.2,354.9 L658,350.9 L659.7,346.9 L661.4,342.9 L663.1,338.9 L664.8,334.9 L666.5,330.9 L668.1,326.9 L669.7,322.9 L671.3,318.9 L672.9,314.9 L674.4,310.9 L676,306.9 L677.5,302.9 L679,298.9 L680.4,294.9 L681.9,290.9 L683.4,286.9 L684.8,282.9 L686.2,278.9 L687.6,274.9 L689,270.9 L690.3,266.9 L691.7,262.9 L693,258.9 L694.3,254.9 L695.6,250.9 L696.9,246.9 L698.2,242.9 L699.4,238.9 L700.7,234.9 L701.9,230.9 L703.1,226.9 L704.3,222.9 L705.5,218.9 L706.7,214.9 L707.9,210.9 L709,206.9 L710.2,202.9 L711.3,198.9 L712.4,194.9 L713.6,190.9 L714.6,186.9 L715.7,182.9 L716.8,178.9 L717.9,174.9 L718.9,170.9 L720,166.9 L721,162.9 L722,158.9 L723.1,154.9 L724.1,150.9 L725.1,146.9 L726,142.9 L727,138.9 L728,134.9 L728.9,130.9 L729.9,126.9 L730.8,122.9 L731.8,118.9 L732.7,114.9 L733.6,110.9 L734.5,106.9 L735.4,102.9 L736.5,98" fill="none" stroke="#fff" stroke-width="1.2" stroke-linejoin="miter"/>
<path d="M240.7,12 L241.6,17 L242.4,22 L243.3,27 L244.1,32 L244.9,37 L245.8,42 L246.6,47 L247.4,52 L248.2,57 L249.1,62 L249.9,67 L250.8,72 L251.7,77 L252.5,82 L253.4,87 L254.2,92 L255.1,97 L256,102 L256.9,107 L257.8,112 L258.7,117 L259.6,122 L260.5,127 L261.4,132 L262.3,137 L263.3,142 L264.2,147 L265.2,152 L266.2,157 L267.2,162 L268.2,167 L269.2,172 L270.2,177 L271.3,182 L272.3,187 L273.4,192 L274.5,197 L275.6,202 L276.7,207 L277.8,212 L278.9,217 L280,222 L281.1,227 L282.3,232 L283.4,237 L284.5,242 L285.7,247 L286.8,252 L288,257 L289.2,262 L290.4,267 L291.6,272 L292.8,277 L294,282 L295.3,287 L296.6,292 L297.9,297 L299.2,302 L300.6,307 L302.1,312 L303.5,317 L305,322 L306.5,327 L308.1,332 L309.6,337 L311.2,342 L311.3,342.2 L311.3,342.2 L311.3,342 L312,337 L312.6,332 L313.2,327 L313.8,322 L314.3,317 L314.9,312 L315.4,307 L315.9,302 L316.4,297 L316.8,292 L317.3,287 L317.7,282 L318.1,277 L318.5,272 L318.9,267 L319.3,262 L319.7,257 L320,252 L320.4,247 L320.8,242 L321.2,237 L321.5,232 L321.9,227 L322.3,222 L322.7,217 L323.1,212 L323.5,207 L323.8,202 L324.2,197 L324.6,192 L325,187 L325.4,182 L325.7,177 L326.1,172 L326.4,167 L326.8,162 L327.1,157 L327.5,152 L327.8,147 L328.1,142 L328.5,137 L328.8,132 L329.1,127 L329.4,122 L329.8,117 L330.1,112 L330.4,107 L330.7,102 L331,97 L331.3,92 L331.6,87 L331.8,82 L332.1,77 L332.4,72 L332.6,67 L332.8,62 L333,57 L333.2,52 L333.4,47 L333.6,42 L333.8,37 L334,32 L334.2,27 L334.5,22 L334.8,17 L335.3,12" fill="none" stroke="#fff" stroke-width="1.2"/>
</g>
<g fill="#fff" stroke="#fff">
<line x1="369.4" y1="380.3" x2="332.5" y2="252" stroke-width="2"/>
<path d="M329.4,241 L338.5,255.5 L329.9,257.6 Z" stroke="none"/>
<line x1="389.1" y1="438.1" x2="436.5" y2="575" stroke-width="2"/>
<path d="M440.6,586.3 L431.1,572.6 L439.4,569.4 Z" stroke="none"/>
</g>
<text x="143" y="419.1" font-size="32" fill="#fff"><tspan font-weight="bold">average Thrust·d</tspan> (N/m)</text>
<text x="112" y="610.6" font-size="32.6" fill="#fff"><tspan font-weight="bold">Energy·d/ε</tspan> (J/m)</text>
<g stroke="#000" stroke-width="2.6" fill="none" stroke-linecap="butt">
<rect x="94.25" y="11.35" width="643.75" height="618.65"/>
<line x1="81.3" y1="573.70" x2="94.25" y2="573.70"/>
<line x1="81.3" y1="461.20" x2="94.25" y2="461.20"/>
<line x1="81.3" y1="348.70" x2="94.25" y2="348.70"/>
<line x1="81.3" y1="236.20" x2="94.25" y2="236.20"/>
<line x1="81.3" y1="123.70" x2="94.25" y2="123.70"/>
<line x1="81.3" y1="11.20" x2="94.25" y2="11.20"/>
<line x1="87.3" y1="629.95" x2="94.25" y2="629.95"/>
<line x1="87.3" y1="517.45" x2="94.25" y2="517.45"/>
<line x1="87.3" y1="404.95" x2="94.25" y2="404.95"/>
<line x1="87.3" y1="292.45" x2="94.25" y2="292.45"/>
<line x1="87.3" y1="179.95" x2="94.25" y2="179.95"/>
<line x1="87.3" y1="67.45" x2="94.25" y2="67.45"/>
<line x1="94.25" y1="630" x2="94.25" y2="643"/>
<line x1="118.47" y1="630" x2="118.47" y2="636.6"/>
<line x1="132.64" y1="630" x2="132.64" y2="636.6"/>
<line x1="142.70" y1="630" x2="142.70" y2="636.6"/>
<line x1="150.50" y1="630" x2="150.50" y2="636.6"/>
<line x1="156.87" y1="630" x2="156.87" y2="636.6"/>
<line x1="162.26" y1="630" x2="162.26" y2="636.6"/>
<line x1="166.92" y1="630" x2="166.92" y2="636.6"/>
<line x1="171.04" y1="630" x2="171.04" y2="636.6"/>
<line x1="174.72" y1="630" x2="174.72" y2="643"/>
<line x1="198.94" y1="630" x2="198.94" y2="636.6"/>
<line x1="213.11" y1="630" x2="213.11" y2="636.6"/>
<line x1="223.17" y1="630" x2="223.17" y2="636.6"/>
<line x1="230.97" y1="630" x2="230.97" y2="636.6"/>
<line x1="237.34" y1="630" x2="237.34" y2="636.6"/>
<line x1="242.73" y1="630" x2="242.73" y2="636.6"/>
<line x1="247.39" y1="630" x2="247.39" y2="636.6"/>
<line x1="251.51" y1="630" x2="251.51" y2="636.6"/>
<line x1="255.19" y1="630" x2="255.19" y2="643"/>
<line x1="279.41" y1="630" x2="279.41" y2="636.6"/>
<line x1="293.58" y1="630" x2="293.58" y2="636.6"/>
<line x1="303.64" y1="630" x2="303.64" y2="636.6"/>
<line x1="311.44" y1="630" x2="311.44" y2="636.6"/>
<line x1="317.81" y1="630" x2="317.81" y2="636.6"/>
<line x1="323.20" y1="630" x2="323.20" y2="636.6"/>
<line x1="327.86" y1="630" x2="327.86" y2="636.6"/>
<line x1="331.98" y1="630" x2="331.98" y2="636.6"/>
<line x1="335.66" y1="630" x2="335.66" y2="643"/>
<line x1="359.88" y1="630" x2="359.88" y2="636.6"/>
<line x1="374.05" y1="630" x2="374.05" y2="636.6"/>
<line x1="384.11" y1="630" x2="384.11" y2="636.6"/>
<line x1="391.91" y1="630" x2="391.91" y2="636.6"/>
<line x1="398.28" y1="630" x2="398.28" y2="636.6"/>
<line x1="403.67" y1="630" x2="403.67" y2="636.6"/>
<line x1="408.33" y1="630" x2="408.33" y2="636.6"/>
<line x1="412.45" y1="630" x2="412.45" y2="636.6"/>
<line x1="416.13" y1="630" x2="416.13" y2="643"/>
<line x1="440.35" y1="630" x2="440.35" y2="636.6"/>
<line x1="454.52" y1="630" x2="454.52" y2="636.6"/>
<line x1="464.58" y1="630" x2="464.58" y2="636.6"/>
<line x1="472.38" y1="630" x2="472.38" y2="636.6"/>
<line x1="478.75" y1="630" x2="478.75" y2="636.6"/>
<line x1="484.14" y1="630" x2="484.14" y2="636.6"/>
<line x1="488.80" y1="630" x2="488.80" y2="636.6"/>
<line x1="492.92" y1="630" x2="492.92" y2="636.6"/>
<line x1="496.60" y1="630" x2="496.60" y2="643"/>
<line x1="520.82" y1="630" x2="520.82" y2="636.6"/>
<line x1="534.99" y1="630" x2="534.99" y2="636.6"/>
<line x1="545.05" y1="630" x2="545.05" y2="636.6"/>
<line x1="552.85" y1="630" x2="552.85" y2="636.6"/>
<line x1="559.22" y1="630" x2="559.22" y2="636.6"/>
<line x1="564.61" y1="630" x2="564.61" y2="636.6"/>
<line x1="569.27" y1="630" x2="569.27" y2="636.6"/>
<line x1="573.39" y1="630" x2="573.39" y2="636.6"/>
<line x1="577.07" y1="630" x2="577.07" y2="643"/>
<line x1="601.29" y1="630" x2="601.29" y2="636.6"/>
<line x1="615.46" y1="630" x2="615.46" y2="636.6"/>
<line x1="625.52" y1="630" x2="625.52" y2="636.6"/>
<line x1="633.32" y1="630" x2="633.32" y2="636.6"/>
<line x1="639.69" y1="630" x2="639.69" y2="636.6"/>
<line x1="645.08" y1="630" x2="645.08" y2="636.6"/>
<line x1="649.74" y1="630" x2="649.74" y2="636.6"/>
<line x1="653.86" y1="630" x2="653.86" y2="636.6"/>
<line x1="657.54" y1="630" x2="657.54" y2="643"/>
<line x1="681.76" y1="630" x2="681.76" y2="636.6"/>
<line x1="695.93" y1="630" x2="695.93" y2="636.6"/>
<line x1="705.99" y1="630" x2="705.99" y2="636.6"/>
<line x1="713.79" y1="630" x2="713.79" y2="636.6"/>
<line x1="720.16" y1="630" x2="720.16" y2="636.6"/>
<line x1="725.55" y1="630" x2="725.55" y2="636.6"/>
<line x1="730.21" y1="630" x2="730.21" y2="636.6"/>
<line x1="734.33" y1="630" x2="734.33" y2="636.6"/>
<line x1="738.01" y1="630" x2="738.01" y2="643"/>
</g>
<g font-weight="bold" font-size="32.5" fill="#000">
<text x="73.3" y="584.1" text-anchor="end">5</text>
<text x="73.3" y="471.6" text-anchor="end">10</text>
<text x="73.3" y="359.1" text-anchor="end">15</text>
<text x="73.3" y="246.6" text-anchor="end">20</text>
<text x="73.3" y="134.1" text-anchor="end">25</text>
<text x="73.3" y="21.6" text-anchor="end">30</text>
<text x="94.25" y="679.6" text-anchor="middle">10<tspan font-size="19" dy="-17">-3</tspan></text>
<text x="174.72" y="679.6" text-anchor="middle">10<tspan font-size="19" dy="-17">-2</tspan></text>
<text x="255.19" y="679.6" text-anchor="middle">10<tspan font-size="19" dy="-17">-1</tspan></text>
<text x="335.66" y="679.6" text-anchor="middle">10<tspan font-size="19" dy="-17">0</tspan></text>
<text x="416.13" y="679.6" text-anchor="middle">10<tspan font-size="19" dy="-17">1</tspan></text>
<text x="496.60" y="679.6" text-anchor="middle">10<tspan font-size="19" dy="-17">2</tspan></text>
<text x="577.07" y="679.6" text-anchor="middle">10<tspan font-size="19" dy="-17">3</tspan></text>
<text x="657.54" y="679.6" text-anchor="middle">10<tspan font-size="19" dy="-17">4</tspan></text>
<text x="738.01" y="679.6" text-anchor="middle">10<tspan font-size="19" dy="-17">5</tspan></text>
</g>
<text x="415.6" y="737.3" text-anchor="middle" font-weight="bold" font-size="36">Rising time (μs)</text>
<text transform="translate(25.6,320.4) rotate(-90)" text-anchor="middle" font-weight="bold" font-size="35.5" textLength="199" lengthAdjust="spacing">Voltage (kV)</text>
<rect x="762" y="15.2" width="81" height="6.5" fill="#ff0028"/>
<rect x="762" y="20.7" width="81" height="12" fill="#ff0627"/>
<rect x="762" y="31.7" width="81" height="12" fill="#ff0c26"/>
<rect x="762" y="42.7" width="81" height="12" fill="#ff1225"/>
<rect x="762" y="53.7" width="81" height="12" fill="#ff1825"/>
<rect x="762" y="64.7" width="81" height="12" fill="#ff1e24"/>
<rect x="762" y="75.7" width="81" height="12" fill="#ff2423"/>
<rect x="762" y="86.7" width="81" height="12" fill="#ff2a22"/>
<rect x="762" y="97.7" width="81" height="12" fill="#fe3322"/>
<rect x="762" y="108.7" width="81" height="11.5" fill="#fc3b21"/>
<rect x="762" y="119.2" width="81" height="12" fill="#fb4421"/>
<rect x="762" y="130.2" width="81" height="12" fill="#f94c20"/>
<rect x="762" y="141.2" width="81" height="12" fill="#f85520"/>
<rect x="762" y="152.2" width="81" height="12" fill="#f65d1f"/>
<rect x="762" y="163.2" width="81" height="12" fill="#f5661f"/>
<rect x="762" y="174.2" width="81" height="12" fill="#f56d1f"/>
<rect x="762" y="185.2" width="81" height="12" fill="#f47420"/>
<rect x="762" y="196.2" width="81" height="11.5" fill="#f47b20"/>
<rect x="762" y="206.7" width="81" height="12" fill="#f48220"/>
<rect x="762" y="217.7" width="81" height="12" fill="#f48820"/>
<rect x="762" y="228.7" width="81" height="12" fill="#f48e1f"/>
<rect x="762" y="239.7" width="81" height="12" fill="#f4941f"/>
<rect x="762" y="250.7" width="81" height="12" fill="#f49a1f"/>
<rect x="762" y="261.7" width="81" height="12" fill="#f59f1f"/>
<rect x="762" y="272.7" width="81" height="12" fill="#f2a520"/>
<rect x="762" y="283.7" width="81" height="12" fill="#edab23"/>
<rect x="762" y="294.7" width="81" height="11.5" fill="#edb225"/>
<rect x="762" y="305.2" width="81" height="12" fill="#edb927"/>
<rect x="762" y="316.2" width="81" height="12" fill="#eec028"/>
<rect x="762" y="327.2" width="81" height="12" fill="#eec129"/>
<rect x="762" y="338.2" width="81" height="12" fill="#eec329"/>
<rect x="762" y="349.2" width="81" height="12" fill="#edc42a"/>
<rect x="762" y="360.2" width="81" height="12" fill="#e9c32a"/>
<rect x="762" y="371.2" width="81" height="12" fill="#e5c32a"/>
<rect x="762" y="382.2" width="81" height="12" fill="#e1c22a"/>
<rect x="762" y="393.2" width="81" height="11.5" fill="#dcc22a"/>
<rect x="762" y="403.7" width="81" height="12" fill="#d7c22a"/>
<rect x="762" y="414.7" width="81" height="12" fill="#d2c22a"/>
<rect x="762" y="425.7" width="81" height="12" fill="#ccbc2a"/>
<rect x="762" y="436.7" width="81" height="12" fill="#c5b72a"/>
<rect x="762" y="447.7" width="81" height="12" fill="#bcb62a"/>
<rect x="762" y="458.7" width="81" height="12" fill="#b4b52a"/>
<rect x="762" y="469.7" width="81" height="12" fill="#adb22a"/>
<rect x="762" y="480.7" width="81" height="12" fill="#a7ad2b"/>
<rect x="762" y="491.7" width="81" height="11.5" fill="#a1a92c"/>
<rect x="762" y="502.2" width="81" height="12" fill="#97a42c"/>
<rect x="762" y="513.2" width="81" height="12" fill="#8b9e2c"/>
<rect x="762" y="524.2" width="81" height="12" fill="#7e982c"/>
<rect x="762" y="535.2" width="81" height="12" fill="#72922c"/>
<rect x="762" y="546.2" width="81" height="12" fill="#658b2c"/>
<rect x="762" y="557.2" width="81" height="12" fill="#58852c"/>
<rect x="762" y="568.2" width="81" height="12" fill="#4d7d2c"/>
<rect x="762" y="579.2" width="81" height="11.5" fill="#41752c"/>
<rect x="762" y="589.7" width="81" height="12" fill="#366d2c"/>
<rect x="762" y="600.7" width="81" height="12" fill="#2a632a"/>
<rect x="762" y="611.7" width="81" height="12" fill="#1e5a29"/>
<rect x="762" y="622.7" width="81" height="7.3" fill="#125028"/>
<rect x="762" y="13" width="81" height="2.2" fill="#7f8080"/>
<rect x="762" y="12.2" width="81" height="618.1999999999999" fill="none" stroke="#000" stroke-width="1.8"/>
<g stroke="#000" stroke-width="2.2">
<line x1="843" y1="15.20" x2="855.7" y2="15.20"/>
<line x1="843" y1="168.40" x2="855.7" y2="168.40"/>
<line x1="843" y1="321.60" x2="855.7" y2="321.60"/>
<line x1="843" y1="474.80" x2="855.7" y2="474.80"/>
<line x1="843" y1="628.00" x2="855.7" y2="628.00"/>
<line x1="843" y1="134.69" x2="849.8" y2="134.69"/>
<line x1="843" y1="110.31" x2="849.8" y2="110.31"/>
<line x1="843" y1="91.22" x2="849.8" y2="91.22"/>
<line x1="843" y1="75.51" x2="849.8" y2="75.51"/>
<line x1="843" y1="62.17" x2="849.8" y2="62.17"/>
<line x1="843" y1="50.58" x2="849.8" y2="50.58"/>
<line x1="843" y1="40.33" x2="849.8" y2="40.33"/>
<line x1="843" y1="31.14" x2="849.8" y2="31.14"/>
<line x1="843" y1="22.81" x2="849.8" y2="22.81"/>
<line x1="843" y1="287.89" x2="849.8" y2="287.89"/>
<line x1="843" y1="263.51" x2="849.8" y2="263.51"/>
<line x1="843" y1="244.42" x2="849.8" y2="244.42"/>
<line x1="843" y1="228.71" x2="849.8" y2="228.71"/>
<line x1="843" y1="215.37" x2="849.8" y2="215.37"/>
<line x1="843" y1="203.78" x2="849.8" y2="203.78"/>
<line x1="843" y1="193.53" x2="849.8" y2="193.53"/>
<line x1="843" y1="184.34" x2="849.8" y2="184.34"/>
<line x1="843" y1="176.01" x2="849.8" y2="176.01"/>
<line x1="843" y1="441.09" x2="849.8" y2="441.09"/>
<line x1="843" y1="416.71" x2="849.8" y2="416.71"/>
<line x1="843" y1="397.62" x2="849.8" y2="397.62"/>
<line x1="843" y1="381.91" x2="849.8" y2="381.91"/>
<line x1="843" y1="368.57" x2="849.8" y2="368.57"/>
<line x1="843" y1="356.98" x2="849.8" y2="356.98"/>
<line x1="843" y1="346.73" x2="849.8" y2="346.73"/>
<line x1="843" y1="337.54" x2="849.8" y2="337.54"/>
<line x1="843" y1="329.21" x2="849.8" y2="329.21"/>
<line x1="843" y1="594.29" x2="849.8" y2="594.29"/>
<line x1="843" y1="569.91" x2="849.8" y2="569.91"/>
<line x1="843" y1="550.82" x2="849.8" y2="550.82"/>
<line x1="843" y1="535.11" x2="849.8" y2="535.11"/>
<line x1="843" y1="521.77" x2="849.8" y2="521.77"/>
<line x1="843" y1="510.18" x2="849.8" y2="510.18"/>
<line x1="843" y1="499.93" x2="849.8" y2="499.93"/>
<line x1="843" y1="490.74" x2="849.8" y2="490.74"/>
<line x1="843" y1="482.41" x2="849.8" y2="482.41"/>
</g>
<g font-weight="bold" font-size="31.8" fill="#000">
<text x="867.8" y="28.2">10<tspan font-size="19" dy="-16">0</tspan></text>
<text x="868.4" y="181.4">2x10<tspan font-size="19" dy="-16">-1</tspan></text>
<text x="868.4" y="334.6">3x10<tspan font-size="19" dy="-16">-2</tspan></text>
<text x="868.4" y="487.8">6x10<tspan font-size="19" dy="-16">-3</tspan></text>
<text x="867.8" y="641.0">10<tspan font-size="19" dy="-16">-3</tspan></text>
</g>
</svg></body></html>
